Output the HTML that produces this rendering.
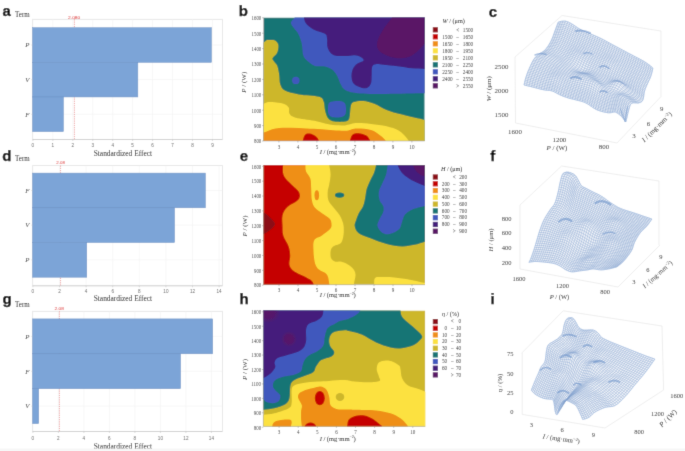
<!DOCTYPE html>
<html><head><meta charset="utf-8"><title>Figure</title>
<style>html,body{margin:0;padding:0;background:#fff;}svg{display:block;}</style>
</head><body>
<svg width="685" height="451" viewBox="0 0 685 451">
<defs><filter id="sb" x="-20%" y="-50%" width="140%" height="200%"><feGaussianBlur stdDeviation="0.6"/></filter></defs>
<filter id="gb" x="0" y="0" width="685" height="451" filterUnits="userSpaceOnUse"><feConvolveMatrix order="3" kernelMatrix="0.0113 0.0838 0.0113 0.0838 0.6193 0.0838 0.0113 0.0838 0.0113" edgeMode="duplicate"/></filter>
<g filter="url(#gb)">
<rect width="685" height="451" fill="#fff"/>
<rect x="32.6" y="19.3" width="189.8" height="120.2" fill="#fff" stroke="#e2e2e2" stroke-width="0.8"/>
<line x1="32.9" y1="19.3" x2="32.9" y2="139.5" stroke="#f1f1f1" stroke-width="0.6"/>
<line x1="52.85" y1="19.3" x2="52.85" y2="139.5" stroke="#f1f1f1" stroke-width="0.6"/>
<line x1="72.8" y1="19.3" x2="72.8" y2="139.5" stroke="#f1f1f1" stroke-width="0.6"/>
<line x1="92.75" y1="19.3" x2="92.75" y2="139.5" stroke="#f1f1f1" stroke-width="0.6"/>
<line x1="112.7" y1="19.3" x2="112.7" y2="139.5" stroke="#f1f1f1" stroke-width="0.6"/>
<line x1="132.65" y1="19.3" x2="132.65" y2="139.5" stroke="#f1f1f1" stroke-width="0.6"/>
<line x1="152.6" y1="19.3" x2="152.6" y2="139.5" stroke="#f1f1f1" stroke-width="0.6"/>
<line x1="172.55" y1="19.3" x2="172.55" y2="139.5" stroke="#f1f1f1" stroke-width="0.6"/>
<line x1="192.5" y1="19.3" x2="192.5" y2="139.5" stroke="#f1f1f1" stroke-width="0.6"/>
<line x1="212.45" y1="19.3" x2="212.45" y2="139.5" stroke="#f1f1f1" stroke-width="0.6"/>
<line x1="32.6" y1="45.02" x2="222.4" y2="45.02" stroke="#f1f1f1" stroke-width="0.6"/>
<line x1="32.6" y1="79.64" x2="222.4" y2="79.64" stroke="#f1f1f1" stroke-width="0.6"/>
<line x1="32.6" y1="114.28" x2="222.4" y2="114.28" stroke="#f1f1f1" stroke-width="0.6"/>
<line x1="74.4" y1="19.3" x2="74.4" y2="139.5" stroke="#e06060" stroke-width="0.6" stroke-dasharray="1.2,1"/>
<rect x="32.6" y="27.7" width="178.85" height="34.63" fill="#7ba4d7" stroke="#6a90c4" stroke-width="0.5"/>
<text x="29.4" y="47.31" font-size="6.8" font-family="'Liberation Serif','Times New Roman',serif" fill="#333" text-anchor="end" font-style="italic">P</text>
<line x1="31.4" y1="45.02" x2="32.6" y2="45.02" stroke="#bbb" stroke-width="0.5"/>
<rect x="32.6" y="62.33" width="105.24" height="34.63" fill="#7ba4d7" stroke="#6a90c4" stroke-width="0.5"/>
<text x="29.4" y="81.94" font-size="6.8" font-family="'Liberation Serif','Times New Roman',serif" fill="#333" text-anchor="end" font-style="italic">V</text>
<line x1="31.4" y1="79.64" x2="32.6" y2="79.64" stroke="#bbb" stroke-width="0.5"/>
<rect x="32.6" y="96.96" width="30.82" height="34.63" fill="#7ba4d7" stroke="#6a90c4" stroke-width="0.5"/>
<text x="29.4" y="116.58" font-size="6.8" font-family="'Liberation Serif','Times New Roman',serif" fill="#333" text-anchor="end" font-style="italic">F</text>
<line x1="31.4" y1="114.28" x2="32.6" y2="114.28" stroke="#bbb" stroke-width="0.5"/>
<text x="74.2" y="18.8" font-size="4.3" font-family="'Liberation Sans',Arial,sans-serif" fill="#d33" text-anchor="middle" textLength="12.2" lengthAdjust="spacingAndGlyphs">2.080</text>
<line x1="32.6" y1="139.5" x2="222.4" y2="139.5" stroke="#c8c8c8" stroke-width="0.7"/>
<line x1="32.9" y1="139.5" x2="32.9" y2="141" stroke="#bbb" stroke-width="0.5"/>
<text x="32.9" y="147.4" font-size="4.6" font-family="'Liberation Sans',Arial,sans-serif" fill="#666" text-anchor="middle">0</text>
<line x1="52.85" y1="139.5" x2="52.85" y2="141" stroke="#bbb" stroke-width="0.5"/>
<text x="52.85" y="147.4" font-size="4.6" font-family="'Liberation Sans',Arial,sans-serif" fill="#666" text-anchor="middle">1</text>
<line x1="72.8" y1="139.5" x2="72.8" y2="141" stroke="#bbb" stroke-width="0.5"/>
<text x="72.8" y="147.4" font-size="4.6" font-family="'Liberation Sans',Arial,sans-serif" fill="#666" text-anchor="middle">2</text>
<line x1="92.75" y1="139.5" x2="92.75" y2="141" stroke="#bbb" stroke-width="0.5"/>
<text x="92.75" y="147.4" font-size="4.6" font-family="'Liberation Sans',Arial,sans-serif" fill="#666" text-anchor="middle">3</text>
<line x1="112.7" y1="139.5" x2="112.7" y2="141" stroke="#bbb" stroke-width="0.5"/>
<text x="112.7" y="147.4" font-size="4.6" font-family="'Liberation Sans',Arial,sans-serif" fill="#666" text-anchor="middle">4</text>
<line x1="132.65" y1="139.5" x2="132.65" y2="141" stroke="#bbb" stroke-width="0.5"/>
<text x="132.65" y="147.4" font-size="4.6" font-family="'Liberation Sans',Arial,sans-serif" fill="#666" text-anchor="middle">5</text>
<line x1="152.6" y1="139.5" x2="152.6" y2="141" stroke="#bbb" stroke-width="0.5"/>
<text x="152.6" y="147.4" font-size="4.6" font-family="'Liberation Sans',Arial,sans-serif" fill="#666" text-anchor="middle">6</text>
<line x1="172.55" y1="139.5" x2="172.55" y2="141" stroke="#bbb" stroke-width="0.5"/>
<text x="172.55" y="147.4" font-size="4.6" font-family="'Liberation Sans',Arial,sans-serif" fill="#666" text-anchor="middle">7</text>
<line x1="192.5" y1="139.5" x2="192.5" y2="141" stroke="#bbb" stroke-width="0.5"/>
<text x="192.5" y="147.4" font-size="4.6" font-family="'Liberation Sans',Arial,sans-serif" fill="#666" text-anchor="middle">8</text>
<line x1="212.45" y1="139.5" x2="212.45" y2="141" stroke="#bbb" stroke-width="0.5"/>
<text x="212.45" y="147.4" font-size="4.6" font-family="'Liberation Sans',Arial,sans-serif" fill="#666" text-anchor="middle">9</text>
<text x="122.9" y="155.5" font-size="8.2" font-family="'Liberation Serif','Times New Roman',serif" fill="#222" text-anchor="middle" textLength="58.4" lengthAdjust="spacingAndGlyphs">Standardized Effect</text>
<text x="15.1" y="16.8" font-size="8" font-family="'Liberation Serif','Times New Roman',serif" fill="#222" textLength="14.6" lengthAdjust="spacingAndGlyphs">Term</text>
<rect x="32.6" y="165.6" width="189.8" height="120.2" fill="#fff" stroke="#e2e2e2" stroke-width="0.8"/>
<line x1="32.9" y1="165.6" x2="32.9" y2="285.8" stroke="#f1f1f1" stroke-width="0.6"/>
<line x1="59.5" y1="165.6" x2="59.5" y2="285.8" stroke="#f1f1f1" stroke-width="0.6"/>
<line x1="86.1" y1="165.6" x2="86.1" y2="285.8" stroke="#f1f1f1" stroke-width="0.6"/>
<line x1="112.7" y1="165.6" x2="112.7" y2="285.8" stroke="#f1f1f1" stroke-width="0.6"/>
<line x1="139.3" y1="165.6" x2="139.3" y2="285.8" stroke="#f1f1f1" stroke-width="0.6"/>
<line x1="165.9" y1="165.6" x2="165.9" y2="285.8" stroke="#f1f1f1" stroke-width="0.6"/>
<line x1="192.5" y1="165.6" x2="192.5" y2="285.8" stroke="#f1f1f1" stroke-width="0.6"/>
<line x1="219.1" y1="165.6" x2="219.1" y2="285.8" stroke="#f1f1f1" stroke-width="0.6"/>
<line x1="32.6" y1="190.45" x2="222.4" y2="190.45" stroke="#f1f1f1" stroke-width="0.6"/>
<line x1="32.6" y1="225.15" x2="222.4" y2="225.15" stroke="#f1f1f1" stroke-width="0.6"/>
<line x1="32.6" y1="259.85" x2="222.4" y2="259.85" stroke="#f1f1f1" stroke-width="0.6"/>
<line x1="60.56" y1="165.6" x2="60.56" y2="285.8" stroke="#e06060" stroke-width="0.6" stroke-dasharray="1.2,1"/>
<rect x="32.6" y="173.1" width="172.8" height="34.7" fill="#7ba4d7" stroke="#6a90c4" stroke-width="0.5"/>
<text x="29.4" y="192.75" font-size="6.8" font-family="'Liberation Serif','Times New Roman',serif" fill="#333" text-anchor="end" font-style="italic">F</text>
<line x1="31.4" y1="190.45" x2="32.6" y2="190.45" stroke="#bbb" stroke-width="0.5"/>
<rect x="32.6" y="207.8" width="141.95" height="34.7" fill="#7ba4d7" stroke="#6a90c4" stroke-width="0.5"/>
<text x="29.4" y="227.45" font-size="6.8" font-family="'Liberation Serif','Times New Roman',serif" fill="#333" text-anchor="end" font-style="italic">V</text>
<line x1="31.4" y1="225.15" x2="32.6" y2="225.15" stroke="#bbb" stroke-width="0.5"/>
<rect x="32.6" y="242.5" width="54.16" height="34.7" fill="#7ba4d7" stroke="#6a90c4" stroke-width="0.5"/>
<text x="29.4" y="262.15" font-size="6.8" font-family="'Liberation Serif','Times New Roman',serif" fill="#333" text-anchor="end" font-style="italic">P</text>
<line x1="31.4" y1="259.85" x2="32.6" y2="259.85" stroke="#bbb" stroke-width="0.5"/>
<text x="60.6" y="164" font-size="4.3" font-family="'Liberation Sans',Arial,sans-serif" fill="#d33" text-anchor="middle" textLength="8.6" lengthAdjust="spacingAndGlyphs">2.08</text>
<line x1="32.6" y1="285.8" x2="222.4" y2="285.8" stroke="#c8c8c8" stroke-width="0.7"/>
<line x1="32.9" y1="285.8" x2="32.9" y2="287.3" stroke="#bbb" stroke-width="0.5"/>
<text x="32.9" y="293" font-size="4.6" font-family="'Liberation Sans',Arial,sans-serif" fill="#666" text-anchor="middle">0</text>
<line x1="59.5" y1="285.8" x2="59.5" y2="287.3" stroke="#bbb" stroke-width="0.5"/>
<text x="59.5" y="293" font-size="4.6" font-family="'Liberation Sans',Arial,sans-serif" fill="#666" text-anchor="middle">2</text>
<line x1="86.1" y1="285.8" x2="86.1" y2="287.3" stroke="#bbb" stroke-width="0.5"/>
<text x="86.1" y="293" font-size="4.6" font-family="'Liberation Sans',Arial,sans-serif" fill="#666" text-anchor="middle">4</text>
<line x1="112.7" y1="285.8" x2="112.7" y2="287.3" stroke="#bbb" stroke-width="0.5"/>
<text x="112.7" y="293" font-size="4.6" font-family="'Liberation Sans',Arial,sans-serif" fill="#666" text-anchor="middle">6</text>
<line x1="139.3" y1="285.8" x2="139.3" y2="287.3" stroke="#bbb" stroke-width="0.5"/>
<text x="139.3" y="293" font-size="4.6" font-family="'Liberation Sans',Arial,sans-serif" fill="#666" text-anchor="middle">8</text>
<line x1="165.9" y1="285.8" x2="165.9" y2="287.3" stroke="#bbb" stroke-width="0.5"/>
<text x="165.9" y="293" font-size="4.6" font-family="'Liberation Sans',Arial,sans-serif" fill="#666" text-anchor="middle">10</text>
<line x1="192.5" y1="285.8" x2="192.5" y2="287.3" stroke="#bbb" stroke-width="0.5"/>
<text x="192.5" y="293" font-size="4.6" font-family="'Liberation Sans',Arial,sans-serif" fill="#666" text-anchor="middle">12</text>
<line x1="219.1" y1="285.8" x2="219.1" y2="287.3" stroke="#bbb" stroke-width="0.5"/>
<text x="219.1" y="293" font-size="4.6" font-family="'Liberation Sans',Arial,sans-serif" fill="#666" text-anchor="middle">14</text>
<text x="122.9" y="301.3" font-size="8.2" font-family="'Liberation Serif','Times New Roman',serif" fill="#222" text-anchor="middle" textLength="58.4" lengthAdjust="spacingAndGlyphs">Standardized Effect</text>
<text x="15.1" y="161" font-size="8" font-family="'Liberation Serif','Times New Roman',serif" fill="#222" textLength="14.6" lengthAdjust="spacingAndGlyphs">Term</text>
<rect x="32.6" y="311.3" width="189.8" height="120.2" fill="#fff" stroke="#e2e2e2" stroke-width="0.8"/>
<line x1="32.9" y1="311.3" x2="32.9" y2="431.5" stroke="#f1f1f1" stroke-width="0.6"/>
<line x1="58.4" y1="311.3" x2="58.4" y2="431.5" stroke="#f1f1f1" stroke-width="0.6"/>
<line x1="83.9" y1="311.3" x2="83.9" y2="431.5" stroke="#f1f1f1" stroke-width="0.6"/>
<line x1="109.4" y1="311.3" x2="109.4" y2="431.5" stroke="#f1f1f1" stroke-width="0.6"/>
<line x1="134.9" y1="311.3" x2="134.9" y2="431.5" stroke="#f1f1f1" stroke-width="0.6"/>
<line x1="160.4" y1="311.3" x2="160.4" y2="431.5" stroke="#f1f1f1" stroke-width="0.6"/>
<line x1="185.9" y1="311.3" x2="185.9" y2="431.5" stroke="#f1f1f1" stroke-width="0.6"/>
<line x1="211.4" y1="311.3" x2="211.4" y2="431.5" stroke="#f1f1f1" stroke-width="0.6"/>
<line x1="32.6" y1="336.35" x2="222.4" y2="336.35" stroke="#f1f1f1" stroke-width="0.6"/>
<line x1="32.6" y1="371.25" x2="222.4" y2="371.25" stroke="#f1f1f1" stroke-width="0.6"/>
<line x1="32.6" y1="406.15" x2="222.4" y2="406.15" stroke="#f1f1f1" stroke-width="0.6"/>
<line x1="59.42" y1="311.3" x2="59.42" y2="431.5" stroke="#e06060" stroke-width="0.6" stroke-dasharray="1.2,1"/>
<rect x="32.6" y="318.9" width="180.08" height="34.9" fill="#7ba4d7" stroke="#6a90c4" stroke-width="0.5"/>
<text x="29.4" y="338.65" font-size="6.8" font-family="'Liberation Serif','Times New Roman',serif" fill="#333" text-anchor="end" font-style="italic">P</text>
<line x1="31.4" y1="336.35" x2="32.6" y2="336.35" stroke="#bbb" stroke-width="0.5"/>
<rect x="32.6" y="353.8" width="147.95" height="34.9" fill="#7ba4d7" stroke="#6a90c4" stroke-width="0.5"/>
<text x="29.4" y="373.55" font-size="6.8" font-family="'Liberation Serif','Times New Roman',serif" fill="#333" text-anchor="end" font-style="italic">F</text>
<line x1="31.4" y1="371.25" x2="32.6" y2="371.25" stroke="#bbb" stroke-width="0.5"/>
<rect x="32.6" y="388.7" width="6.1" height="34.9" fill="#7ba4d7" stroke="#6a90c4" stroke-width="0.5"/>
<text x="29.4" y="408.45" font-size="6.8" font-family="'Liberation Serif','Times New Roman',serif" fill="#333" text-anchor="end" font-style="italic">V</text>
<line x1="31.4" y1="406.15" x2="32.6" y2="406.15" stroke="#bbb" stroke-width="0.5"/>
<text x="59.3" y="310.3" font-size="4.3" font-family="'Liberation Sans',Arial,sans-serif" fill="#d33" text-anchor="middle" textLength="9.4" lengthAdjust="spacingAndGlyphs">2.08</text>
<line x1="32.6" y1="431.5" x2="222.4" y2="431.5" stroke="#c8c8c8" stroke-width="0.7"/>
<line x1="32.9" y1="431.5" x2="32.9" y2="433" stroke="#bbb" stroke-width="0.5"/>
<text x="32.9" y="439.5" font-size="4.6" font-family="'Liberation Sans',Arial,sans-serif" fill="#666" text-anchor="middle">0</text>
<line x1="58.4" y1="431.5" x2="58.4" y2="433" stroke="#bbb" stroke-width="0.5"/>
<text x="58.4" y="439.5" font-size="4.6" font-family="'Liberation Sans',Arial,sans-serif" fill="#666" text-anchor="middle">2</text>
<line x1="83.9" y1="431.5" x2="83.9" y2="433" stroke="#bbb" stroke-width="0.5"/>
<text x="83.9" y="439.5" font-size="4.6" font-family="'Liberation Sans',Arial,sans-serif" fill="#666" text-anchor="middle">4</text>
<line x1="109.4" y1="431.5" x2="109.4" y2="433" stroke="#bbb" stroke-width="0.5"/>
<text x="109.4" y="439.5" font-size="4.6" font-family="'Liberation Sans',Arial,sans-serif" fill="#666" text-anchor="middle">6</text>
<line x1="134.9" y1="431.5" x2="134.9" y2="433" stroke="#bbb" stroke-width="0.5"/>
<text x="134.9" y="439.5" font-size="4.6" font-family="'Liberation Sans',Arial,sans-serif" fill="#666" text-anchor="middle">8</text>
<line x1="160.4" y1="431.5" x2="160.4" y2="433" stroke="#bbb" stroke-width="0.5"/>
<text x="160.4" y="439.5" font-size="4.6" font-family="'Liberation Sans',Arial,sans-serif" fill="#666" text-anchor="middle">10</text>
<line x1="185.9" y1="431.5" x2="185.9" y2="433" stroke="#bbb" stroke-width="0.5"/>
<text x="185.9" y="439.5" font-size="4.6" font-family="'Liberation Sans',Arial,sans-serif" fill="#666" text-anchor="middle">12</text>
<line x1="211.4" y1="431.5" x2="211.4" y2="433" stroke="#bbb" stroke-width="0.5"/>
<text x="211.4" y="439.5" font-size="4.6" font-family="'Liberation Sans',Arial,sans-serif" fill="#666" text-anchor="middle">14</text>
<text x="122.9" y="449" font-size="8.2" font-family="'Liberation Serif','Times New Roman',serif" fill="#222" text-anchor="middle" textLength="58.4" lengthAdjust="spacingAndGlyphs">Standardized Effect</text>
<text x="15.1" y="306.8" font-size="8" font-family="'Liberation Serif','Times New Roman',serif" fill="#222" textLength="14.6" lengthAdjust="spacingAndGlyphs">Term</text>
<clipPath id="cb"><rect x="263.5" y="17.5" width="161.2" height="123.5"/></clipPath>
<g clip-path="url(#cb)">
<rect x="263.5" y="17.5" width="161.2" height="123.5" fill="#187575"/>
<path d="M295,12C294.93,12.92 295.27,15.57 294.6,17.5C293.93,19.43 290.4,20.9 291,23.6C291.6,26.3 296.4,30.33 298.2,33.7C300,37.07 300.97,40.2 301.8,43.8C302.63,47.4 302.25,52.42 303.2,55.3C304.15,58.18 305.53,59.33 307.5,61.1C309.47,62.87 312.12,65 315,65.9C317.88,66.8 321.95,65.9 324.8,66.5C327.65,67.1 330.07,67.98 332.1,69.5C334.13,71.02 335.58,73.17 337,75.6C338.42,78.03 339.18,81.67 340.6,84.1C342.02,86.53 342.65,88.67 345.5,90.2C348.35,91.73 353.63,92.68 357.7,93.3C361.77,93.92 365.1,93.8 369.9,93.9C374.7,94 377.32,94 386.5,93.9C395.68,93.8 417.42,93.4 425,93.3C432.58,93.2 430.83,93.3 432,93.3L432,12Z" fill="#4158bd"/>
<path d="M304,12C304,12.92 303.67,15.57 304,17.5C304.33,19.43 304.45,21.62 306,23.6C307.55,25.58 310.17,27.72 313.3,29.4C316.43,31.08 322.52,32.27 324.8,33.7C327.08,35.13 326.52,35.62 327,38C327.48,40.38 326.65,45.18 327.7,48C328.75,50.82 330.33,53.55 333.3,54.9C336.27,56.25 341.98,56.03 345.5,56.1C349.02,56.17 351.95,55.18 354.4,55.3C356.85,55.42 358.68,55.95 360.2,56.8C361.72,57.65 364.2,59.13 363.5,60.4C362.8,61.67 357.88,62.68 356,64.4C354.12,66.12 352.93,68.43 352.2,70.7C351.47,72.97 351.3,75.77 351.6,78C351.9,80.23 352.38,82.47 354,84.1C355.62,85.73 359.07,87.18 361.3,87.8C363.53,88.42 365.77,88.62 367.4,87.8C369.03,86.98 370.38,85.13 371.1,82.9C371.82,80.67 371.5,77.13 371.7,74.4C371.9,71.67 371.58,68.2 372.3,66.5C373.02,64.8 374.18,64.5 376,64.2C377.82,63.9 379.6,64.37 383.2,64.7C386.8,65.03 392.8,65.6 397.6,66.2C402.4,66.8 407.43,67.83 412,68.3C416.57,68.77 421.67,68.88 425,69C428.33,69.12 430.83,69 432,69L432,12Z" fill="#441c7c"/>
<path d="M392,12C391.98,12.92 393.37,14.6 391.9,17.5C390.43,20.4 385.6,25.48 383.2,29.4C380.8,33.32 378.33,37.63 377.5,41C376.67,44.37 376.77,47.22 378.2,49.6C379.63,51.98 382.87,53.87 386.1,55.3C389.33,56.73 393.75,57.95 397.6,58.2C401.45,58.45 405.83,58 409.2,56.8C412.57,55.6 415.17,53.17 417.8,51C420.43,48.83 422.63,45.47 425,43.8C427.37,42.13 430.83,41.47 432,41L432,12Z" fill="#5a1866"/>
<ellipse cx="295.8" cy="80.4" rx="3.7" ry="3.7" fill="#4158bd"/>
<path d="M329,103C330,101.87 332,101.5 334,101.2C336,100.9 339.17,100.82 341,101.2C342.83,101.58 344.17,102.2 345,103.5C345.83,104.8 346,107.08 346,109C346,110.92 346,113.63 345,115C344,116.37 342.17,116.87 340,117.2C337.83,117.53 333.92,117.53 332,117C330.08,116.47 329.17,115.5 328.5,114C327.83,112.5 327.92,109.83 328,108C328.08,106.17 328,104.13 329,103Z" fill="#4158bd"/>
<path d="M256,42.4C257.25,42.4 261.83,42.72 263.5,42.4C265.17,42.08 265.15,40.9 266,40.5C266.85,40.1 267.2,40.05 268.6,40C270,39.95 272.92,39.7 274.4,40.2C275.88,40.7 276.83,41.92 277.5,43C278.17,44.08 278.48,45.03 278.4,46.7C278.32,48.37 277.98,51.08 277,53C276.02,54.92 273,56.78 272.5,58.2C272,59.62 273.2,60.2 274,61.5C274.8,62.8 276.43,63.75 277.3,66C278.17,68.25 278.72,71.95 279.2,75C279.68,78.05 279.27,81.72 280.2,84.3C281.13,86.88 281.7,88.82 284.8,90.5C287.9,92.18 293.12,93.37 298.8,94.4C304.48,95.43 314.77,95.53 318.9,96.7C323.03,97.87 322.57,99.07 323.6,101.4C324.63,103.73 324.33,107.87 325.1,110.7C325.87,113.53 326.63,116.6 328.2,118.4C329.77,120.2 331.7,120.98 334.5,121.5C337.3,122.02 342.53,122.02 345,121.5C347.47,120.98 348.32,120.98 349.3,118.4C350.28,115.82 350.12,108.72 350.9,106C351.68,103.28 351.93,102.93 354,102.1C356.07,101.27 359.95,100.73 363.3,101C366.65,101.27 370.23,102.22 374.1,103.7C377.97,105.18 381.85,108.08 386.5,109.9C391.15,111.72 395.58,112.92 402,114.6C408.42,116.28 420,118.85 425,120C430,121.15 430.83,121.25 432,121.5L432,148L256,148Z" fill="#cdb72c"/>
<path d="M256,103.7C257.25,103.7 261.28,103.97 263.5,103.7C265.72,103.43 266,102.1 269.3,102.1C272.6,102.1 280.07,102.78 283.3,103.7C286.53,104.62 287.67,105.92 288.7,107.6C289.73,109.28 288.33,112.12 289.5,113.8C290.67,115.48 291.57,116.53 295.7,117.7C299.83,118.87 308.62,119.65 314.3,120.8C319.98,121.95 324.68,123.83 329.8,124.6C334.92,125.37 340.72,125.65 345,125.4C349.28,125.15 351.17,123.35 355.5,123.1C359.83,122.85 365.83,123.38 371,123.9C376.17,124.42 381.83,125.05 386.5,126.2C391.17,127.35 395.38,128.48 399,130.8C402.62,133.12 406.37,137.23 408.2,140.1C410.03,142.97 409.7,146.68 410,148L256,148Z" fill="#fce140"/>
<path d="M256,132.4C257.25,132.4 260.25,133.05 263.5,132.4C266.75,131.75 270.92,129.28 275.5,128.5C280.08,127.72 285.83,127.7 291,127.7C296.17,127.7 301.33,128.23 306.5,128.5C311.67,128.77 315.58,128.92 322,129.3C328.42,129.68 339.42,130.93 345,130.8C350.58,130.67 351.17,128.63 355.5,128.5C359.83,128.37 366.87,128.83 371,130C375.13,131.17 377.83,133.67 380.3,135.5C382.77,137.33 384.68,138.92 385.8,141C386.92,143.08 386.8,146.83 387,148L256,148Z" fill="#ef8f12"/>
<path d="M302,148C302.12,146.83 302.2,143.22 302.7,141C303.2,138.78 303.85,135.93 305,134.7C306.15,133.47 307.8,133.33 309.6,133.6C311.4,133.87 314.25,135.07 315.8,136.3C317.35,137.53 318.28,139.05 318.9,141C319.52,142.95 319.4,146.83 319.5,148L302,148Z" fill="#c50303"/>
<path d="M349.5,148C349.58,146.83 349.52,143.22 350,141C350.48,138.78 350.97,136 352.4,134.7C353.83,133.4 356.27,133.07 358.6,133.2C360.93,133.33 364.47,134.2 366.4,135.5C368.33,136.8 369.43,138.92 370.2,141C370.97,143.08 370.87,146.83 371,148L349.5,148Z" fill="#c50303"/>
</g>
<line x1="263.5" y1="17.5" x2="263.5" y2="141" stroke="#999" stroke-width="0.5"/>
<line x1="263.5" y1="141" x2="424.7" y2="141" stroke="#999" stroke-width="0.5"/>
<line x1="262" y1="17.8" x2="263.5" y2="17.8" stroke="#888" stroke-width="0.5"/>
<text x="261.3" y="20.1" font-size="5.2" font-family="'Liberation Serif','Times New Roman',serif" fill="#444" text-anchor="end" textLength="9.8" lengthAdjust="spacingAndGlyphs">1600</text>
<line x1="262" y1="33.2" x2="263.5" y2="33.2" stroke="#888" stroke-width="0.5"/>
<text x="261.3" y="35.5" font-size="5.2" font-family="'Liberation Serif','Times New Roman',serif" fill="#444" text-anchor="end" textLength="9.8" lengthAdjust="spacingAndGlyphs">1500</text>
<line x1="262" y1="48.6" x2="263.5" y2="48.6" stroke="#888" stroke-width="0.5"/>
<text x="261.3" y="50.9" font-size="5.2" font-family="'Liberation Serif','Times New Roman',serif" fill="#444" text-anchor="end" textLength="9.8" lengthAdjust="spacingAndGlyphs">1400</text>
<line x1="262" y1="64" x2="263.5" y2="64" stroke="#888" stroke-width="0.5"/>
<text x="261.3" y="66.3" font-size="5.2" font-family="'Liberation Serif','Times New Roman',serif" fill="#444" text-anchor="end" textLength="9.8" lengthAdjust="spacingAndGlyphs">1300</text>
<line x1="262" y1="79.4" x2="263.5" y2="79.4" stroke="#888" stroke-width="0.5"/>
<text x="261.3" y="81.7" font-size="5.2" font-family="'Liberation Serif','Times New Roman',serif" fill="#444" text-anchor="end" textLength="9.8" lengthAdjust="spacingAndGlyphs">1200</text>
<line x1="262" y1="94.8" x2="263.5" y2="94.8" stroke="#888" stroke-width="0.5"/>
<text x="261.3" y="97.1" font-size="5.2" font-family="'Liberation Serif','Times New Roman',serif" fill="#444" text-anchor="end" textLength="9.8" lengthAdjust="spacingAndGlyphs">1100</text>
<line x1="262" y1="110.2" x2="263.5" y2="110.2" stroke="#888" stroke-width="0.5"/>
<text x="261.3" y="112.5" font-size="5.2" font-family="'Liberation Serif','Times New Roman',serif" fill="#444" text-anchor="end" textLength="9.8" lengthAdjust="spacingAndGlyphs">1000</text>
<line x1="262" y1="125.6" x2="263.5" y2="125.6" stroke="#888" stroke-width="0.5"/>
<text x="261.3" y="127.9" font-size="5.2" font-family="'Liberation Serif','Times New Roman',serif" fill="#444" text-anchor="end" textLength="7.35" lengthAdjust="spacingAndGlyphs">900</text>
<line x1="262" y1="141" x2="263.5" y2="141" stroke="#888" stroke-width="0.5"/>
<text x="261.3" y="143.3" font-size="5.2" font-family="'Liberation Serif','Times New Roman',serif" fill="#444" text-anchor="end" textLength="7.35" lengthAdjust="spacingAndGlyphs">800</text>
<line x1="278.9" y1="141" x2="278.9" y2="142.5" stroke="#888" stroke-width="0.5"/>
<text x="278.9" y="148.9" font-size="5.1" font-family="'Liberation Serif','Times New Roman',serif" fill="#444" text-anchor="middle">3</text>
<line x1="297.9" y1="141" x2="297.9" y2="142.5" stroke="#888" stroke-width="0.5"/>
<text x="297.9" y="148.9" font-size="5.1" font-family="'Liberation Serif','Times New Roman',serif" fill="#444" text-anchor="middle">4</text>
<line x1="316.9" y1="141" x2="316.9" y2="142.5" stroke="#888" stroke-width="0.5"/>
<text x="316.9" y="148.9" font-size="5.1" font-family="'Liberation Serif','Times New Roman',serif" fill="#444" text-anchor="middle">5</text>
<line x1="335.9" y1="141" x2="335.9" y2="142.5" stroke="#888" stroke-width="0.5"/>
<text x="335.9" y="148.9" font-size="5.1" font-family="'Liberation Serif','Times New Roman',serif" fill="#444" text-anchor="middle">6</text>
<line x1="354.9" y1="141" x2="354.9" y2="142.5" stroke="#888" stroke-width="0.5"/>
<text x="354.9" y="148.9" font-size="5.1" font-family="'Liberation Serif','Times New Roman',serif" fill="#444" text-anchor="middle">7</text>
<line x1="373.9" y1="141" x2="373.9" y2="142.5" stroke="#888" stroke-width="0.5"/>
<text x="373.9" y="148.9" font-size="5.1" font-family="'Liberation Serif','Times New Roman',serif" fill="#444" text-anchor="middle">8</text>
<line x1="392.9" y1="141" x2="392.9" y2="142.5" stroke="#888" stroke-width="0.5"/>
<text x="392.9" y="148.9" font-size="5.1" font-family="'Liberation Serif','Times New Roman',serif" fill="#444" text-anchor="middle">9</text>
<line x1="411.9" y1="141" x2="411.9" y2="142.5" stroke="#888" stroke-width="0.5"/>
<text x="411.9" y="148.9" font-size="5.1" font-family="'Liberation Serif','Times New Roman',serif" fill="#444" text-anchor="middle">10</text>
<text x="319.7" y="153.9" font-size="6.7" font-family="'Liberation Serif','Times New Roman',serif" fill="#222" letter-spacing="-0.1"><tspan font-style="italic">I</tspan> / (mg·mm<tspan font-size="4" dy="-2.4">−2</tspan><tspan dy="2.4">)</tspan></text>
<text transform="translate(245.8,82.2) rotate(-90)" font-size="7" font-family="'Liberation Serif','Times New Roman',serif" fill="#222" text-anchor="middle"><tspan font-style="italic">P</tspan> / (W)</text>
<text x="442.6" y="23.2" font-size="6.2" font-family="'Liberation Serif','Times New Roman',serif" fill="#111"><tspan font-style="italic">W</tspan> / (μm)</text>
<rect x="432.8" y="27.2" width="5.1" height="5.2" fill="#8c1018"/>
<text x="457.6" y="31.6" font-size="5.2" font-family="'Liberation Serif','Times New Roman',serif" fill="#333" text-anchor="middle">&lt;</text>
<text x="473.2" y="31.6" font-size="5.2" font-family="'Liberation Serif','Times New Roman',serif" fill="#333" text-anchor="end">1500</text>
<rect x="432.8" y="34.2" width="5.1" height="5.2" fill="#c50303"/>
<text x="452.6" y="38.6" font-size="5.2" font-family="'Liberation Serif','Times New Roman',serif" fill="#333" text-anchor="end">1500</text>
<text x="457.6" y="38.6" font-size="5.2" font-family="'Liberation Serif','Times New Roman',serif" fill="#333" text-anchor="middle">–</text>
<text x="473.2" y="38.6" font-size="5.2" font-family="'Liberation Serif','Times New Roman',serif" fill="#333" text-anchor="end">1650</text>
<rect x="432.8" y="41.2" width="5.1" height="5.2" fill="#ef8f12"/>
<text x="452.6" y="45.6" font-size="5.2" font-family="'Liberation Serif','Times New Roman',serif" fill="#333" text-anchor="end">1650</text>
<text x="457.6" y="45.6" font-size="5.2" font-family="'Liberation Serif','Times New Roman',serif" fill="#333" text-anchor="middle">–</text>
<text x="473.2" y="45.6" font-size="5.2" font-family="'Liberation Serif','Times New Roman',serif" fill="#333" text-anchor="end">1800</text>
<rect x="432.8" y="48.2" width="5.1" height="5.2" fill="#fce140"/>
<text x="452.6" y="52.6" font-size="5.2" font-family="'Liberation Serif','Times New Roman',serif" fill="#333" text-anchor="end">1800</text>
<text x="457.6" y="52.6" font-size="5.2" font-family="'Liberation Serif','Times New Roman',serif" fill="#333" text-anchor="middle">–</text>
<text x="473.2" y="52.6" font-size="5.2" font-family="'Liberation Serif','Times New Roman',serif" fill="#333" text-anchor="end">1950</text>
<rect x="432.8" y="55.2" width="5.1" height="5.2" fill="#cdb72c"/>
<text x="452.6" y="59.6" font-size="5.2" font-family="'Liberation Serif','Times New Roman',serif" fill="#333" text-anchor="end">1950</text>
<text x="457.6" y="59.6" font-size="5.2" font-family="'Liberation Serif','Times New Roman',serif" fill="#333" text-anchor="middle">–</text>
<text x="473.2" y="59.6" font-size="5.2" font-family="'Liberation Serif','Times New Roman',serif" fill="#333" text-anchor="end">2100</text>
<rect x="432.8" y="62.2" width="5.1" height="5.2" fill="#187575"/>
<text x="452.6" y="66.6" font-size="5.2" font-family="'Liberation Serif','Times New Roman',serif" fill="#333" text-anchor="end">2100</text>
<text x="457.6" y="66.6" font-size="5.2" font-family="'Liberation Serif','Times New Roman',serif" fill="#333" text-anchor="middle">–</text>
<text x="473.2" y="66.6" font-size="5.2" font-family="'Liberation Serif','Times New Roman',serif" fill="#333" text-anchor="end">2250</text>
<rect x="432.8" y="69.2" width="5.1" height="5.2" fill="#4158bd"/>
<text x="452.6" y="73.6" font-size="5.2" font-family="'Liberation Serif','Times New Roman',serif" fill="#333" text-anchor="end">2250</text>
<text x="457.6" y="73.6" font-size="5.2" font-family="'Liberation Serif','Times New Roman',serif" fill="#333" text-anchor="middle">–</text>
<text x="473.2" y="73.6" font-size="5.2" font-family="'Liberation Serif','Times New Roman',serif" fill="#333" text-anchor="end">2400</text>
<rect x="432.8" y="76.2" width="5.1" height="5.2" fill="#441c7c"/>
<text x="452.6" y="80.6" font-size="5.2" font-family="'Liberation Serif','Times New Roman',serif" fill="#333" text-anchor="end">2400</text>
<text x="457.6" y="80.6" font-size="5.2" font-family="'Liberation Serif','Times New Roman',serif" fill="#333" text-anchor="middle">–</text>
<text x="473.2" y="80.6" font-size="5.2" font-family="'Liberation Serif','Times New Roman',serif" fill="#333" text-anchor="end">2550</text>
<rect x="432.8" y="83.2" width="5.1" height="5.2" fill="#5a1866"/>
<text x="457.6" y="87.6" font-size="5.2" font-family="'Liberation Serif','Times New Roman',serif" fill="#333" text-anchor="middle">&gt;</text>
<text x="473.2" y="87.6" font-size="5.2" font-family="'Liberation Serif','Times New Roman',serif" fill="#333" text-anchor="end">2550</text>
<clipPath id="ce"><rect x="263.5" y="165.1" width="161.5" height="119.6"/></clipPath>
<g clip-path="url(#ce)">
<rect x="263.5" y="165.1" width="161.5" height="119.6" fill="#cdb72c"/>
<path d="M376,160C376,160.85 376.35,162.93 376,165.1C375.65,167.27 374.85,170.48 373.9,173C372.95,175.52 371.5,177.57 370.3,180.2C369.1,182.83 367.55,185.92 366.7,188.8C365.85,191.68 365.8,194.62 365.2,197.5C364.6,200.38 364.18,203.47 363.1,206.1C362.02,208.73 359.9,210.9 358.7,213.3C357.5,215.7 356.57,218.35 355.9,220.5C355.23,222.65 354.25,224.08 354.7,226.2C355.15,228.32 355.88,231.13 358.6,233.2C361.32,235.27 366.35,236.8 371,238.6C375.65,240.4 381.33,242.7 386.5,244C391.67,245.3 397.33,246.27 402,246.4C406.67,246.53 410.67,245.58 414.5,244.8C418.33,244.02 422.25,242.5 425,241.7C427.75,240.9 430,240.28 431,240L431,160Z" fill="#187575"/>
<path d="M387.6,160C387.6,160.85 387.85,162.7 387.6,165.1C387.35,167.5 387.07,171.17 386.1,174.4C385.13,177.63 383,181.62 381.8,184.5C380.6,187.38 379.27,189.07 378.9,191.7C378.53,194.33 378.88,197.9 379.6,200.3C380.32,202.7 382.6,204.17 383.2,206.1C383.8,208.03 383.92,209.5 383.2,211.9C382.48,214.3 379.85,218.15 378.9,220.5C377.95,222.85 377,224.02 377.5,226C378,227.98 379.88,231.07 381.9,232.4C383.92,233.73 386.75,234.52 389.6,234C392.45,233.48 396.93,231.3 399,229.3C401.07,227.3 401,224.47 402,222C403,219.53 403.33,216.55 405,214.5C406.67,212.45 408.67,211.1 412,209.7C415.33,208.3 421.83,206.8 425,206.1C428.17,205.4 430,205.6 431,205.5L431,160Z" fill="#4158bd"/>
<path d="M397.6,160C397.6,160.85 396.87,162.93 397.6,165.1C398.33,167.27 400.07,170.73 402,173C403.93,175.27 406.32,176.9 409.2,178.7C412.08,180.5 416.67,182.58 419.3,183.8C421.93,185.02 423.05,185.47 425,186C426.95,186.53 430,186.83 431,187L431,160Z" fill="#441c7c"/>
<path d="M412,160C412.17,160.85 412.33,163.27 413,165.1C413.67,166.93 414.67,169.35 416,171C417.33,172.65 419.5,174.17 421,175C422.5,175.83 423.33,175.83 425,176C426.67,176.17 430,176 431,176L431,160Z" fill="#5a1866"/>
<path d="M329.2,160C329.2,160.85 328.97,162.7 329.2,165.1C329.43,167.5 330.6,171.17 330.6,174.4C330.6,177.63 329.68,181.62 329.2,184.5C328.72,187.38 327.83,189.07 327.7,191.7C327.57,194.33 327.43,197.65 328.4,200.3C329.37,202.95 331.68,205.18 333.5,207.6C335.32,210.02 337.87,212.65 339.3,214.8C340.73,216.95 341.38,218.63 342.1,220.5C342.82,222.37 343.37,223.58 343.6,226C343.83,228.42 343.93,232.17 343.5,235C343.07,237.83 342.58,241.17 341,243C339.42,244.83 335.7,244.83 334,246C332.3,247.17 331.3,248 330.8,250C330.3,252 330.3,256.08 331,258C331.7,259.92 333.5,260.92 335,261.5C336.5,262.08 338.13,261.18 340,261.5C341.87,261.82 344.13,262.3 346.2,263.4C348.27,264.5 350.85,266.28 352.4,268.1C353.95,269.92 355.23,271.72 355.5,274.3C355.77,276.88 354.33,280.82 354,283.6C353.67,286.38 353.58,289.77 353.5,291L256,291L256,160Z" fill="#fce140"/>
<path d="M373.5,291C373.6,289.95 373.87,286.83 374.1,284.7C374.33,282.57 373.87,279.47 374.9,278.2C375.93,276.93 377.07,277.23 380.3,277.1C383.53,276.97 389.38,276.97 394.3,277.4C399.22,277.83 404.88,278.8 409.8,279.7C414.72,280.6 420.27,282.08 423.8,282.8C427.33,283.52 429.8,283.8 431,284L431,291Z" fill="#fce140"/>
<ellipse cx="339.6" cy="195.1" rx="4.7" ry="2.7" fill="#187575"/>
<path d="M305.4,160C305.4,160.85 305.28,163.18 305.4,165.1C305.52,167.02 305.27,169.23 306.1,171.5C306.93,173.77 309.55,175.82 310.4,178.7C311.25,181.58 310.95,185.2 311.2,188.8C311.45,192.4 311.3,197.17 311.9,200.3C312.5,203.43 313.12,205.43 314.8,207.6C316.48,209.77 319.55,211.48 322,213.3C324.45,215.12 327.93,216.88 329.5,218.5C331.07,220.12 331.23,221.33 331.4,223C331.57,224.67 332.07,226.42 330.5,228.5C328.93,230.58 324.7,233.55 322,235.5C319.3,237.45 315.72,237.62 314.3,240.2C312.88,242.78 313.37,247.13 313.5,251C313.63,254.87 314.18,260.3 315.1,263.4C316.02,266.5 317.07,267.78 319,269.6C320.93,271.42 325.03,272.23 326.7,274.3C328.37,276.37 328.48,279.22 329,282C329.52,284.78 329.67,289.5 329.8,291L256,291L256,160Z" fill="#ef8f12"/>
<ellipse cx="316.8" cy="195.3" rx="2.3" ry="5" fill="#ef8f12"/>
<path d="M283.1,160C283.1,160.85 283.1,162.93 283.1,165.1C283.1,167.27 282.63,170.73 283.1,173C283.57,175.27 284.23,176.55 285.9,178.7C287.57,180.85 290.93,183.73 293.1,185.9C295.27,188.07 297.82,189.77 298.9,191.7C299.98,193.63 300.08,195.82 299.6,197.5C299.12,199.18 297.8,200.37 296,201.8C294.2,203.23 290.83,204.42 288.8,206.1C286.77,207.78 284.88,209.98 283.8,211.9C282.72,213.82 282.52,215.42 282.3,217.6C282.08,219.78 282.33,222.02 282.5,225C282.67,227.98 282.27,231.93 283.3,235.5C284.33,239.07 287.55,243.03 288.7,246.4C289.85,249.77 290.07,252.6 290.2,255.7C290.33,258.8 288.85,262.42 289.5,265C290.15,267.58 291.27,269.13 294.1,271.2C296.93,273.27 303.4,275.6 306.5,277.4C309.6,279.2 311.4,279.73 312.7,282C314,284.27 314.03,289.5 314.3,291L256,291L256,160Z" fill="#c50303"/>
<path d="M256,212C257.25,212.08 261.5,211.92 263.5,212.5C265.5,213.08 266.5,214.25 268,215.5C269.5,216.75 271.33,218.58 272.5,220C273.67,221.42 275,222.67 275,224C275,225.33 273.67,226.75 272.5,228C271.33,229.25 269.5,230.5 268,231.5C266.5,232.5 265.5,233.58 263.5,234C261.5,234.42 257.25,234 256,234L256,212Z" fill="#8c1018"/>
</g>
<line x1="263.5" y1="165.1" x2="263.5" y2="284.7" stroke="#999" stroke-width="0.5"/>
<line x1="263.5" y1="284.7" x2="425" y2="284.7" stroke="#999" stroke-width="0.5"/>
<line x1="262" y1="166.3" x2="263.5" y2="166.3" stroke="#888" stroke-width="0.5"/>
<text x="261.3" y="168.6" font-size="5.2" font-family="'Liberation Serif','Times New Roman',serif" fill="#444" text-anchor="end" textLength="9.8" lengthAdjust="spacingAndGlyphs">1600</text>
<line x1="262" y1="181.16" x2="263.5" y2="181.16" stroke="#888" stroke-width="0.5"/>
<text x="261.3" y="183.46" font-size="5.2" font-family="'Liberation Serif','Times New Roman',serif" fill="#444" text-anchor="end" textLength="9.8" lengthAdjust="spacingAndGlyphs">1500</text>
<line x1="262" y1="196.02" x2="263.5" y2="196.02" stroke="#888" stroke-width="0.5"/>
<text x="261.3" y="198.32" font-size="5.2" font-family="'Liberation Serif','Times New Roman',serif" fill="#444" text-anchor="end" textLength="9.8" lengthAdjust="spacingAndGlyphs">1400</text>
<line x1="262" y1="210.88" x2="263.5" y2="210.88" stroke="#888" stroke-width="0.5"/>
<text x="261.3" y="213.18" font-size="5.2" font-family="'Liberation Serif','Times New Roman',serif" fill="#444" text-anchor="end" textLength="9.8" lengthAdjust="spacingAndGlyphs">1300</text>
<line x1="262" y1="225.74" x2="263.5" y2="225.74" stroke="#888" stroke-width="0.5"/>
<text x="261.3" y="228.04" font-size="5.2" font-family="'Liberation Serif','Times New Roman',serif" fill="#444" text-anchor="end" textLength="9.8" lengthAdjust="spacingAndGlyphs">1200</text>
<line x1="262" y1="240.6" x2="263.5" y2="240.6" stroke="#888" stroke-width="0.5"/>
<text x="261.3" y="242.9" font-size="5.2" font-family="'Liberation Serif','Times New Roman',serif" fill="#444" text-anchor="end" textLength="9.8" lengthAdjust="spacingAndGlyphs">1100</text>
<line x1="262" y1="255.46" x2="263.5" y2="255.46" stroke="#888" stroke-width="0.5"/>
<text x="261.3" y="257.76" font-size="5.2" font-family="'Liberation Serif','Times New Roman',serif" fill="#444" text-anchor="end" textLength="9.8" lengthAdjust="spacingAndGlyphs">1000</text>
<line x1="262" y1="270.32" x2="263.5" y2="270.32" stroke="#888" stroke-width="0.5"/>
<text x="261.3" y="272.62" font-size="5.2" font-family="'Liberation Serif','Times New Roman',serif" fill="#444" text-anchor="end" textLength="7.35" lengthAdjust="spacingAndGlyphs">900</text>
<line x1="262" y1="285.18" x2="263.5" y2="285.18" stroke="#888" stroke-width="0.5"/>
<text x="261.3" y="287.48" font-size="5.2" font-family="'Liberation Serif','Times New Roman',serif" fill="#444" text-anchor="end" textLength="7.35" lengthAdjust="spacingAndGlyphs">800</text>
<line x1="279" y1="284.7" x2="279" y2="286.2" stroke="#888" stroke-width="0.5"/>
<text x="279" y="292.1" font-size="5.1" font-family="'Liberation Serif','Times New Roman',serif" fill="#444" text-anchor="middle">3</text>
<line x1="298" y1="284.7" x2="298" y2="286.2" stroke="#888" stroke-width="0.5"/>
<text x="298" y="292.1" font-size="5.1" font-family="'Liberation Serif','Times New Roman',serif" fill="#444" text-anchor="middle">4</text>
<line x1="317" y1="284.7" x2="317" y2="286.2" stroke="#888" stroke-width="0.5"/>
<text x="317" y="292.1" font-size="5.1" font-family="'Liberation Serif','Times New Roman',serif" fill="#444" text-anchor="middle">5</text>
<line x1="336" y1="284.7" x2="336" y2="286.2" stroke="#888" stroke-width="0.5"/>
<text x="336" y="292.1" font-size="5.1" font-family="'Liberation Serif','Times New Roman',serif" fill="#444" text-anchor="middle">6</text>
<line x1="355" y1="284.7" x2="355" y2="286.2" stroke="#888" stroke-width="0.5"/>
<text x="355" y="292.1" font-size="5.1" font-family="'Liberation Serif','Times New Roman',serif" fill="#444" text-anchor="middle">7</text>
<line x1="374" y1="284.7" x2="374" y2="286.2" stroke="#888" stroke-width="0.5"/>
<text x="374" y="292.1" font-size="5.1" font-family="'Liberation Serif','Times New Roman',serif" fill="#444" text-anchor="middle">8</text>
<line x1="393" y1="284.7" x2="393" y2="286.2" stroke="#888" stroke-width="0.5"/>
<text x="393" y="292.1" font-size="5.1" font-family="'Liberation Serif','Times New Roman',serif" fill="#444" text-anchor="middle">9</text>
<line x1="412" y1="284.7" x2="412" y2="286.2" stroke="#888" stroke-width="0.5"/>
<text x="412" y="292.1" font-size="5.1" font-family="'Liberation Serif','Times New Roman',serif" fill="#444" text-anchor="middle">10</text>
<text x="319.7" y="297.3" font-size="6.7" font-family="'Liberation Serif','Times New Roman',serif" fill="#222" letter-spacing="-0.1"><tspan font-style="italic">I</tspan> / (mg·mm<tspan font-size="4" dy="-2.4">−2</tspan><tspan dy="2.4">)</tspan></text>
<text transform="translate(247,226) rotate(-90)" font-size="7" font-family="'Liberation Serif','Times New Roman',serif" fill="#222" text-anchor="middle"><tspan font-style="italic">P</tspan> / (W)</text>
<text x="440.9" y="171.3" font-size="6.2" font-family="'Liberation Serif','Times New Roman',serif" fill="#111"><tspan font-style="italic">H</tspan> / (μm)</text>
<rect x="432.8" y="174.4" width="5.1" height="5.2" fill="#8c1018"/>
<text x="454.2" y="178.8" font-size="5.2" font-family="'Liberation Serif','Times New Roman',serif" fill="#333" text-anchor="middle">&lt;</text>
<text x="467" y="178.8" font-size="5.2" font-family="'Liberation Serif','Times New Roman',serif" fill="#333" text-anchor="end">200</text>
<rect x="432.8" y="181.18" width="5.1" height="5.2" fill="#c50303"/>
<text x="449.6" y="185.58" font-size="5.2" font-family="'Liberation Serif','Times New Roman',serif" fill="#333" text-anchor="end">200</text>
<text x="454.2" y="185.58" font-size="5.2" font-family="'Liberation Serif','Times New Roman',serif" fill="#333" text-anchor="middle">–</text>
<text x="467" y="185.58" font-size="5.2" font-family="'Liberation Serif','Times New Roman',serif" fill="#333" text-anchor="end">300</text>
<rect x="432.8" y="187.96" width="5.1" height="5.2" fill="#ef8f12"/>
<text x="449.6" y="192.36" font-size="5.2" font-family="'Liberation Serif','Times New Roman',serif" fill="#333" text-anchor="end">300</text>
<text x="454.2" y="192.36" font-size="5.2" font-family="'Liberation Serif','Times New Roman',serif" fill="#333" text-anchor="middle">–</text>
<text x="467" y="192.36" font-size="5.2" font-family="'Liberation Serif','Times New Roman',serif" fill="#333" text-anchor="end">400</text>
<rect x="432.8" y="194.74" width="5.1" height="5.2" fill="#fce140"/>
<text x="449.6" y="199.14" font-size="5.2" font-family="'Liberation Serif','Times New Roman',serif" fill="#333" text-anchor="end">400</text>
<text x="454.2" y="199.14" font-size="5.2" font-family="'Liberation Serif','Times New Roman',serif" fill="#333" text-anchor="middle">–</text>
<text x="467" y="199.14" font-size="5.2" font-family="'Liberation Serif','Times New Roman',serif" fill="#333" text-anchor="end">500</text>
<rect x="432.8" y="201.52" width="5.1" height="5.2" fill="#cdb72c"/>
<text x="449.6" y="205.92" font-size="5.2" font-family="'Liberation Serif','Times New Roman',serif" fill="#333" text-anchor="end">500</text>
<text x="454.2" y="205.92" font-size="5.2" font-family="'Liberation Serif','Times New Roman',serif" fill="#333" text-anchor="middle">–</text>
<text x="467" y="205.92" font-size="5.2" font-family="'Liberation Serif','Times New Roman',serif" fill="#333" text-anchor="end">600</text>
<rect x="432.8" y="208.3" width="5.1" height="5.2" fill="#187575"/>
<text x="449.6" y="212.7" font-size="5.2" font-family="'Liberation Serif','Times New Roman',serif" fill="#333" text-anchor="end">600</text>
<text x="454.2" y="212.7" font-size="5.2" font-family="'Liberation Serif','Times New Roman',serif" fill="#333" text-anchor="middle">–</text>
<text x="467" y="212.7" font-size="5.2" font-family="'Liberation Serif','Times New Roman',serif" fill="#333" text-anchor="end">700</text>
<rect x="432.8" y="215.08" width="5.1" height="5.2" fill="#4158bd"/>
<text x="449.6" y="219.48" font-size="5.2" font-family="'Liberation Serif','Times New Roman',serif" fill="#333" text-anchor="end">700</text>
<text x="454.2" y="219.48" font-size="5.2" font-family="'Liberation Serif','Times New Roman',serif" fill="#333" text-anchor="middle">–</text>
<text x="467" y="219.48" font-size="5.2" font-family="'Liberation Serif','Times New Roman',serif" fill="#333" text-anchor="end">800</text>
<rect x="432.8" y="221.86" width="5.1" height="5.2" fill="#441c7c"/>
<text x="449.6" y="226.26" font-size="5.2" font-family="'Liberation Serif','Times New Roman',serif" fill="#333" text-anchor="end">800</text>
<text x="454.2" y="226.26" font-size="5.2" font-family="'Liberation Serif','Times New Roman',serif" fill="#333" text-anchor="middle">–</text>
<text x="467" y="226.26" font-size="5.2" font-family="'Liberation Serif','Times New Roman',serif" fill="#333" text-anchor="end">900</text>
<rect x="432.8" y="228.64" width="5.1" height="5.2" fill="#5a1866"/>
<text x="454.2" y="233.04" font-size="5.2" font-family="'Liberation Serif','Times New Roman',serif" fill="#333" text-anchor="middle">&gt;</text>
<text x="467" y="233.04" font-size="5.2" font-family="'Liberation Serif','Times New Roman',serif" fill="#333" text-anchor="end">900</text>
<clipPath id="ch"><rect x="263.3" y="310.5" width="162" height="115.9"/></clipPath>
<g clip-path="url(#ch)">
<rect x="263.3" y="310.5" width="162" height="115.9" fill="#cdb72c"/>
<path d="M256,409.7C257.27,409.7 260.53,409.95 263.6,409.7C266.67,409.45 270.68,409.17 274.4,408.2C278.12,407.23 283.38,405.58 285.9,403.9C288.42,402.22 288.77,400.98 289.5,398.1C290.23,395.22 289.7,389.47 290.3,386.6C290.9,383.73 290.95,382.58 293.1,380.9C295.25,379.22 299.83,377.95 303.2,376.5C306.57,375.05 311.2,373.78 313.3,372.2C315.4,370.62 314.93,368.53 315.8,367C316.67,365.47 317.47,364.2 318.5,363C319.53,361.8 319.75,360.93 322,359.8C324.25,358.67 329.97,357.53 332,356.2C334.03,354.87 334.43,353.37 334.2,351.8C333.97,350.23 331.43,348.6 330.6,346.8C329.77,345 329.2,342.92 329.2,341C329.2,339.08 329.65,336.85 330.6,335.3C331.55,333.75 332.5,332.55 334.9,331.7C337.3,330.85 342.72,330.33 345,330.2C347.28,330.07 345.83,330.18 348.6,330.9C351.37,331.62 357.03,332.57 361.6,334.5C366.17,336.43 371.2,340.33 376,342.5C380.8,344.67 386.07,346.55 390.4,347.5C394.73,348.45 398.15,348.57 402,348.2C405.85,347.83 410.38,346.73 413.5,345.3C416.62,343.87 419.27,341.15 420.7,339.6C422.13,338.05 422.58,337.45 422.1,336C421.62,334.55 420.2,333.18 417.8,330.9C415.4,328.62 410.33,324.7 407.7,322.3C405.07,319.9 403.2,318.47 402,316.5C400.8,314.53 400.75,312.58 400.5,310.5C400.25,308.42 400.5,305.08 400.5,304L256,304Z" fill="#187575"/>
<path d="M360.2,304C360.2,305.08 360.92,308.65 360.2,310.5C359.48,312.35 357.83,313.73 355.9,315.1C353.97,316.47 351.25,317.73 348.6,318.7C345.95,319.67 342.28,320.07 340,320.9C337.72,321.73 336.95,322.5 334.9,323.7C332.85,324.9 329.38,325.93 327.7,328.1C326.02,330.27 325.52,333.83 324.8,336.7C324.08,339.57 324.6,342.9 323.4,345.3C322.2,347.7 320,349.42 317.6,351.1C315.2,352.78 311.15,353.95 309,355.4C306.85,356.85 305.8,358.03 304.7,359.8C303.6,361.57 303.05,364.05 302.4,366C301.75,367.95 302.35,369.98 300.8,371.5C299.25,373.02 296.3,374.15 293.1,375.1C289.9,376.05 284.72,376.23 281.6,377.2C278.48,378.17 275.83,379.33 274.4,380.9C272.97,382.47 272.75,384.93 273,386.6C273.25,388.27 274.7,389.45 275.9,390.9C277.1,392.35 279.73,393.62 280.2,395.3C280.67,396.98 279.9,399.68 278.7,401C277.5,402.32 275.15,403.08 273,403.2C270.85,403.32 267.37,402.3 265.8,401.7C264.23,401.1 265.23,400.05 263.6,399.6C261.97,399.15 257.27,399.1 256,399L256,304Z" fill="#4158bd"/>
<path d="M323.4,304C323.4,305.08 323.63,308.42 323.4,310.5C323.17,312.58 323.2,314.77 322,316.5C320.8,318.23 318.37,319.7 316.2,320.9C314.03,322.1 310.68,322.27 309,323.7C307.32,325.13 306.58,326.62 306.1,329.5C305.62,332.38 306.58,337.88 306.1,341C305.62,344.12 304.88,346.27 303.2,348.2C301.52,350.13 298.88,351.4 296,352.6C293.12,353.8 289.02,354.45 285.9,355.4C282.78,356.35 279.18,357.1 277.3,358.3C275.42,359.5 274.93,361.15 274.6,362.6C274.27,364.05 275.65,365.52 275.3,367C274.95,368.48 273.62,370.15 272.5,371.5C271.38,372.85 270.08,374.02 268.6,375.1C267.12,376.18 265.7,377.35 263.6,378C261.5,378.65 257.27,378.83 256,379L256,304Z" fill="#441c7c"/>
<defs><radialGradient id="gp"><stop offset="0" stop-color="#5a1666"/><stop offset="0.55" stop-color="#581868" stop-opacity="0.8"/><stop offset="1" stop-color="#5a1866" stop-opacity="0"/></radialGradient></defs>
<ellipse cx="268" cy="313" rx="12" ry="10" fill="url(#gp)"/><ellipse cx="289" cy="339" rx="8" ry="8" fill="url(#gp)"/>
<path d="M256,414.7C257.27,414.7 260.53,414.93 263.6,414.7C266.67,414.47 270.2,414.38 274.4,413.3C278.6,412.22 285.92,410 288.8,408.2C291.68,406.4 291.22,405.62 291.7,402.5C292.18,399.38 291.22,392.38 291.7,389.5C292.18,386.62 292.68,386.28 294.6,385.2C296.52,384.12 299.37,383.6 303.2,383C307.03,382.4 313.27,381.95 317.6,381.6C321.93,381.25 324.63,381.15 329.2,380.9C333.77,380.65 340.8,379.98 345,380.1C349.2,380.22 350.43,381.23 354.4,381.6C358.37,381.97 364.62,382.4 368.8,382.3C372.98,382.2 377.82,381.97 379.5,381C381.18,380.03 379.37,378.45 378.9,376.5C378.43,374.55 376.7,371.62 376.7,369.3C376.7,366.98 377.33,364.07 378.9,362.6C380.47,361.13 383.7,360.62 386.1,360.5C388.5,360.38 391.13,361.07 393.3,361.9C395.47,362.73 397.9,364.27 399.1,365.5C400.3,366.73 400.02,367.22 400.5,369.3C400.98,371.38 400.8,375.35 402,378C403.2,380.65 405.07,383.4 407.7,385.2C410.33,387 414.87,387.72 417.8,388.8C420.73,389.88 423.1,391 425.3,391.7C427.5,392.4 430.05,392.78 431,393L431,432L256,432Z" fill="#fce140"/>
<ellipse cx="340" cy="397" rx="4.3" ry="4" fill="#cdb72c"/>
<path d="M301.8,432C301.8,431.07 301.92,428.43 301.8,426.4C301.68,424.37 301.22,422.35 301.1,419.8C300.98,417.25 300.98,413.52 301.1,411.1C301.22,408.68 302.28,407.47 301.8,405.3C301.32,403.13 298.68,400.02 298.2,398.1C297.72,396.18 298.07,395 298.9,393.8C299.73,392.6 300.8,391.85 303.2,390.9C305.6,389.95 310.42,388.82 313.3,388.1C316.18,387.38 318.33,386.37 320.5,386.6C322.67,386.83 324.85,387.82 326.3,389.5C327.75,391.18 328.48,394.07 329.2,396.7C329.92,399.33 329.4,403.25 330.6,405.3C331.8,407.35 334,408.3 336.4,409C338.8,409.7 342,409.38 345,409.5C348,409.62 349.23,409.55 354.4,409.7C359.57,409.85 370,409.8 376,410.4C382,411 386.32,411.98 390.4,413.3C394.48,414.62 397.85,416.5 400.5,418.3C403.15,420.1 405.1,422.75 406.3,424.1C407.5,425.45 407.42,425.08 407.7,426.4C407.98,427.72 407.95,431.07 408,432L301.8,432Z" fill="#ef8f12"/>
<path d="M272,432C272.03,431.07 271.8,428.08 272.2,426.4C272.6,424.72 272.58,423 274.4,421.9C276.22,420.8 280.45,420.15 283.1,419.8C285.75,419.45 288.87,419.33 290.3,419.8C291.73,420.27 291.58,421.5 291.7,422.6C291.82,423.7 291.12,424.83 291,426.4C290.88,427.97 291,431.07 291,432L272,432Z" fill="#ef8f12"/>
<ellipse cx="319.8" cy="398.1" rx="5" ry="7.2" fill="#c50303"/>
<path d="M304.5,432C304.53,431.07 304.28,427.82 304.7,426.4C305.12,424.98 306.03,424.13 307,423.5C307.97,422.87 309.33,422.6 310.5,422.6C311.67,422.6 313.05,422.87 314,423.5C314.95,424.13 315.78,424.98 316.2,426.4C316.62,427.82 316.45,431.07 316.5,432L304.5,432Z" fill="#c50303"/>
<path d="M347,432C347.03,431.07 346.93,428.43 347.2,426.4C347.47,424.37 347.4,421.5 348.6,419.8C349.8,418.1 351.75,416.93 354.4,416.2C357.05,415.47 361.38,414.93 364.5,415.4C367.62,415.87 370.47,417.43 373.1,419C375.73,420.57 378.85,423.57 380.3,424.8C381.75,426.03 381.52,425.2 381.8,426.4C382.08,427.6 381.97,431.07 382,432L347,432Z" fill="#c50303"/>
</g>
<line x1="263.3" y1="310.5" x2="263.3" y2="426.4" stroke="#999" stroke-width="0.5"/>
<line x1="263.3" y1="426.4" x2="425.3" y2="426.4" stroke="#999" stroke-width="0.5"/>
<line x1="261.8" y1="311.8" x2="263.3" y2="311.8" stroke="#888" stroke-width="0.5"/>
<text x="261.1" y="314.1" font-size="5.2" font-family="'Liberation Serif','Times New Roman',serif" fill="#444" text-anchor="end" textLength="9.8" lengthAdjust="spacingAndGlyphs">1600</text>
<line x1="261.8" y1="326.23" x2="263.3" y2="326.23" stroke="#888" stroke-width="0.5"/>
<text x="261.1" y="328.53" font-size="5.2" font-family="'Liberation Serif','Times New Roman',serif" fill="#444" text-anchor="end" textLength="9.8" lengthAdjust="spacingAndGlyphs">1500</text>
<line x1="261.8" y1="340.66" x2="263.3" y2="340.66" stroke="#888" stroke-width="0.5"/>
<text x="261.1" y="342.96" font-size="5.2" font-family="'Liberation Serif','Times New Roman',serif" fill="#444" text-anchor="end" textLength="9.8" lengthAdjust="spacingAndGlyphs">1400</text>
<line x1="261.8" y1="355.09" x2="263.3" y2="355.09" stroke="#888" stroke-width="0.5"/>
<text x="261.1" y="357.39" font-size="5.2" font-family="'Liberation Serif','Times New Roman',serif" fill="#444" text-anchor="end" textLength="9.8" lengthAdjust="spacingAndGlyphs">1300</text>
<line x1="261.8" y1="369.52" x2="263.3" y2="369.52" stroke="#888" stroke-width="0.5"/>
<text x="261.1" y="371.82" font-size="5.2" font-family="'Liberation Serif','Times New Roman',serif" fill="#444" text-anchor="end" textLength="9.8" lengthAdjust="spacingAndGlyphs">1200</text>
<line x1="261.8" y1="383.95" x2="263.3" y2="383.95" stroke="#888" stroke-width="0.5"/>
<text x="261.1" y="386.25" font-size="5.2" font-family="'Liberation Serif','Times New Roman',serif" fill="#444" text-anchor="end" textLength="9.8" lengthAdjust="spacingAndGlyphs">1100</text>
<line x1="261.8" y1="398.38" x2="263.3" y2="398.38" stroke="#888" stroke-width="0.5"/>
<text x="261.1" y="400.68" font-size="5.2" font-family="'Liberation Serif','Times New Roman',serif" fill="#444" text-anchor="end" textLength="9.8" lengthAdjust="spacingAndGlyphs">1000</text>
<line x1="261.8" y1="412.81" x2="263.3" y2="412.81" stroke="#888" stroke-width="0.5"/>
<text x="261.1" y="415.11" font-size="5.2" font-family="'Liberation Serif','Times New Roman',serif" fill="#444" text-anchor="end" textLength="7.35" lengthAdjust="spacingAndGlyphs">900</text>
<line x1="261.8" y1="427.24" x2="263.3" y2="427.24" stroke="#888" stroke-width="0.5"/>
<text x="261.1" y="429.54" font-size="5.2" font-family="'Liberation Serif','Times New Roman',serif" fill="#444" text-anchor="end" textLength="7.35" lengthAdjust="spacingAndGlyphs">800</text>
<line x1="279.1" y1="426.4" x2="279.1" y2="427.9" stroke="#888" stroke-width="0.5"/>
<text x="279.1" y="433.7" font-size="5.1" font-family="'Liberation Serif','Times New Roman',serif" fill="#444" text-anchor="middle">3</text>
<line x1="298.2" y1="426.4" x2="298.2" y2="427.9" stroke="#888" stroke-width="0.5"/>
<text x="298.2" y="433.7" font-size="5.1" font-family="'Liberation Serif','Times New Roman',serif" fill="#444" text-anchor="middle">4</text>
<line x1="317.3" y1="426.4" x2="317.3" y2="427.9" stroke="#888" stroke-width="0.5"/>
<text x="317.3" y="433.7" font-size="5.1" font-family="'Liberation Serif','Times New Roman',serif" fill="#444" text-anchor="middle">5</text>
<line x1="336.4" y1="426.4" x2="336.4" y2="427.9" stroke="#888" stroke-width="0.5"/>
<text x="336.4" y="433.7" font-size="5.1" font-family="'Liberation Serif','Times New Roman',serif" fill="#444" text-anchor="middle">6</text>
<line x1="355.5" y1="426.4" x2="355.5" y2="427.9" stroke="#888" stroke-width="0.5"/>
<text x="355.5" y="433.7" font-size="5.1" font-family="'Liberation Serif','Times New Roman',serif" fill="#444" text-anchor="middle">7</text>
<line x1="374.6" y1="426.4" x2="374.6" y2="427.9" stroke="#888" stroke-width="0.5"/>
<text x="374.6" y="433.7" font-size="5.1" font-family="'Liberation Serif','Times New Roman',serif" fill="#444" text-anchor="middle">8</text>
<line x1="393.7" y1="426.4" x2="393.7" y2="427.9" stroke="#888" stroke-width="0.5"/>
<text x="393.7" y="433.7" font-size="5.1" font-family="'Liberation Serif','Times New Roman',serif" fill="#444" text-anchor="middle">9</text>
<line x1="412.8" y1="426.4" x2="412.8" y2="427.9" stroke="#888" stroke-width="0.5"/>
<text x="412.8" y="433.7" font-size="5.1" font-family="'Liberation Serif','Times New Roman',serif" fill="#444" text-anchor="middle">10</text>
<text x="319.7" y="440.8" font-size="6.7" font-family="'Liberation Serif','Times New Roman',serif" fill="#222" letter-spacing="-0.1"><tspan font-style="italic">I</tspan> / (mg·mm<tspan font-size="4" dy="-2.4">−2</tspan><tspan dy="2.4">)</tspan></text>
<text transform="translate(247,369.5) rotate(-90)" font-size="7" font-family="'Liberation Serif','Times New Roman',serif" fill="#222" text-anchor="middle"><tspan font-style="italic">P</tspan> / (W)</text>
<text x="441.9" y="315.5" font-size="6.2" font-family="'Liberation Serif','Times New Roman',serif" fill="#111"><tspan font-style="italic">η</tspan> / (%)</text>
<rect x="432.8" y="319" width="5.1" height="5.2" fill="#8c1018"/>
<text x="452.3" y="323.4" font-size="5.2" font-family="'Liberation Serif','Times New Roman',serif" fill="#333" text-anchor="middle">&lt;</text>
<text x="461.2" y="323.4" font-size="5.2" font-family="'Liberation Serif','Times New Roman',serif" fill="#333" text-anchor="end">0</text>
<rect x="432.8" y="325.66" width="5.1" height="5.2" fill="#c50303"/>
<text x="447.2" y="330.06" font-size="5.2" font-family="'Liberation Serif','Times New Roman',serif" fill="#333" text-anchor="end">0</text>
<text x="452.3" y="330.06" font-size="5.2" font-family="'Liberation Serif','Times New Roman',serif" fill="#333" text-anchor="middle">–</text>
<text x="461.2" y="330.06" font-size="5.2" font-family="'Liberation Serif','Times New Roman',serif" fill="#333" text-anchor="end">10</text>
<rect x="432.8" y="332.32" width="5.1" height="5.2" fill="#ef8f12"/>
<text x="447.2" y="336.72" font-size="5.2" font-family="'Liberation Serif','Times New Roman',serif" fill="#333" text-anchor="end">10</text>
<text x="452.3" y="336.72" font-size="5.2" font-family="'Liberation Serif','Times New Roman',serif" fill="#333" text-anchor="middle">–</text>
<text x="461.2" y="336.72" font-size="5.2" font-family="'Liberation Serif','Times New Roman',serif" fill="#333" text-anchor="end">20</text>
<rect x="432.8" y="338.98" width="5.1" height="5.2" fill="#fce140"/>
<text x="447.2" y="343.38" font-size="5.2" font-family="'Liberation Serif','Times New Roman',serif" fill="#333" text-anchor="end">20</text>
<text x="452.3" y="343.38" font-size="5.2" font-family="'Liberation Serif','Times New Roman',serif" fill="#333" text-anchor="middle">–</text>
<text x="461.2" y="343.38" font-size="5.2" font-family="'Liberation Serif','Times New Roman',serif" fill="#333" text-anchor="end">30</text>
<rect x="432.8" y="345.64" width="5.1" height="5.2" fill="#cdb72c"/>
<text x="447.2" y="350.04" font-size="5.2" font-family="'Liberation Serif','Times New Roman',serif" fill="#333" text-anchor="end">30</text>
<text x="452.3" y="350.04" font-size="5.2" font-family="'Liberation Serif','Times New Roman',serif" fill="#333" text-anchor="middle">–</text>
<text x="461.2" y="350.04" font-size="5.2" font-family="'Liberation Serif','Times New Roman',serif" fill="#333" text-anchor="end">40</text>
<rect x="432.8" y="352.3" width="5.1" height="5.2" fill="#187575"/>
<text x="447.2" y="356.7" font-size="5.2" font-family="'Liberation Serif','Times New Roman',serif" fill="#333" text-anchor="end">40</text>
<text x="452.3" y="356.7" font-size="5.2" font-family="'Liberation Serif','Times New Roman',serif" fill="#333" text-anchor="middle">–</text>
<text x="461.2" y="356.7" font-size="5.2" font-family="'Liberation Serif','Times New Roman',serif" fill="#333" text-anchor="end">50</text>
<rect x="432.8" y="358.96" width="5.1" height="5.2" fill="#4158bd"/>
<text x="447.2" y="363.36" font-size="5.2" font-family="'Liberation Serif','Times New Roman',serif" fill="#333" text-anchor="end">50</text>
<text x="452.3" y="363.36" font-size="5.2" font-family="'Liberation Serif','Times New Roman',serif" fill="#333" text-anchor="middle">–</text>
<text x="461.2" y="363.36" font-size="5.2" font-family="'Liberation Serif','Times New Roman',serif" fill="#333" text-anchor="end">60</text>
<rect x="432.8" y="365.62" width="5.1" height="5.2" fill="#441c7c"/>
<text x="447.2" y="370.02" font-size="5.2" font-family="'Liberation Serif','Times New Roman',serif" fill="#333" text-anchor="end">60</text>
<text x="452.3" y="370.02" font-size="5.2" font-family="'Liberation Serif','Times New Roman',serif" fill="#333" text-anchor="middle">–</text>
<text x="461.2" y="370.02" font-size="5.2" font-family="'Liberation Serif','Times New Roman',serif" fill="#333" text-anchor="end">70</text>
<rect x="432.8" y="372.28" width="5.1" height="5.2" fill="#5a1866"/>
<text x="452.3" y="376.68" font-size="5.2" font-family="'Liberation Serif','Times New Roman',serif" fill="#333" text-anchor="middle">&gt;</text>
<text x="461.2" y="376.68" font-size="5.2" font-family="'Liberation Serif','Times New Roman',serif" fill="#333" text-anchor="end">70</text>
<line x1="515" y1="57" x2="562" y2="15.5" stroke="#e6e6e6" stroke-width="0.7"/>
<line x1="562" y1="15.5" x2="661" y2="31" stroke="#e6e6e6" stroke-width="0.7"/>
<line x1="661" y1="31" x2="661" y2="96" stroke="#e6e6e6" stroke-width="0.7"/>
<line x1="515" y1="57" x2="515.5" y2="123" stroke="#e6e6e6" stroke-width="0.7"/>
<line x1="515.5" y1="123" x2="617" y2="143" stroke="#e6e6e6" stroke-width="0.7"/>
<line x1="617" y1="143" x2="661.5" y2="96" stroke="#e6e6e6" stroke-width="0.7"/>
<path d="M524,85L524.54,85.13L525.09,85.26L525.64,85.39L526.18,85.52L526.73,85.65L527.27,85.78L527.81,85.91L528.36,86.04L528.9,86.17L529.45,86.3L529.99,86.43L530.54,86.57L531.08,86.7L531.63,86.83L532.17,86.97L532.71,87.11L533.26,87.24L533.8,87.38L534.34,87.52L534.88,87.67L535.43,87.81L535.97,87.95L536.51,88.09L537.05,88.24L537.59,88.38L538.14,88.52L538.68,88.66L539.22,88.8L539.76,88.94L540.31,89.07L540.85,89.21L541.4,89.34L541.94,89.47L542.49,89.59L543.03,89.71L543.58,89.83L544.13,89.94L544.68,90.03L545.24,90.12L545.79,90.18L546.35,90.23L546.91,90.27L547.47,90.3L548.03,90.33L548.59,90.36L549.15,90.4L549.71,90.46L550.26,90.53L550.81,90.63L551.36,90.76L551.9,90.9L552.43,91.09L552.95,91.29L553.46,91.52L553.97,91.75L554.47,92L554.97,92.26L555.46,92.53L555.95,92.8L556.44,93.08L556.92,93.35L557.41,93.63L557.9,93.9L558.4,94.16L558.89,94.42L559.4,94.66L559.91,94.9L560.42,95.12L560.94,95.34L561.45,95.56L561.97,95.77L562.49,95.98L563.01,96.18L563.54,96.38L564.06,96.58L564.59,96.77L565.11,96.96L565.64,97.15L566.17,97.33L566.7,97.51L567.24,97.69L567.77,97.86L568.31,98.02L568.84,98.18L569.38,98.33L569.92,98.47L570.47,98.6L571.01,98.73L571.56,98.86L572.11,98.99L572.65,99.11L573.2,99.24L573.74,99.37L574.29,99.5L574.83,99.64L575.37,99.79L575.91,99.93L576.45,100.07L577,100.21L577.54,100.34L578.09,100.48L578.63,100.61L579.18,100.74L579.72,100.87L580.26,101.01L580.81,101.15L581.35,101.29L581.89,101.44L582.42,101.61L582.95,101.78L583.48,101.96L584.01,102.15L584.53,102.35L585.05,102.57L585.56,102.8L586.07,103.04L586.56,103.3L587.06,103.57L587.53,103.86L588.01,104.16L588.48,104.45L588.95,104.77L589.41,105.08L589.87,105.4L590.33,105.73L590.79,106.05L591.24,106.37L591.7,106.69L592.16,107.02L592.62,107.34L593.08,107.65L593.55,107.96L594.02,108.27L594.5,108.56L594.98,108.85L595.46,109.13L595.96,109.39L596.46,109.63L596.96,109.88L597.48,110.09L598,110.3L598.53,110.5L599.06,110.68L599.59,110.86L600.12,111.04L600.66,111.2L601.19,111.35L601.73,111.51L602.28,111.65L602.82,111.78L603.36,111.92L603.91,112.04L604.46,112.16L605.01,112.28L605.56,112.38L606.11,112.48L606.66,112.58L607.21,112.67L607.77,112.75L608.32,112.83L608.88,112.9L609.44,112.92L610,112.92L610.55,112.85L611.1,112.73L611.64,112.58L612.16,112.38L612.68,112.17L613.21,111.99L613.75,111.87L614.31,111.83L614.87,111.9L615.4,112.06L615.92,112.27L616.43,112.5L616.91,112.78L617.39,113.08L617.86,113.39L618.31,113.72L618.76,114.06L619.19,114.41L619.62,114.77L620.04,115.14L620.46,115.51L620.88,115.88L621.28,116.28L621.68,116.67L622.05,117.09L622.43,117.51L622.79,117.93L623.15,118.36L623.5,118.8L623.84,119.24L624.19,119.68L624.53,120.13L624.87,120.57L625.21,121.02L625.55,121.46L625.9,121.9L625.98,121.58L626.05,121.26L626.13,120.93L626.21,120.61L626.28,120.29L626.36,119.96L626.43,119.64L626.5,119.32L626.58,118.99L626.65,118.67L626.73,118.35L626.8,118.03L626.88,117.7L626.95,117.38L627.02,117.06L627.1,116.73L627.17,116.41L627.25,116.09L627.32,115.76L627.4,115.44L627.47,115.12L627.55,114.8L627.62,114.47L627.7,114.15L627.77,113.83L627.85,113.51L627.93,113.18L628.01,112.86L628.08,112.54L628.16,112.22L628.24,111.89L628.32,111.57L628.4,111.25L628.48,110.93L628.56,110.61L628.64,110.29L628.72,109.96L628.81,109.64L628.89,109.32L628.98,109L629.06,108.68L629.15,108.36L629.24,108.04L629.33,107.72L629.42,107.41L629.52,107.09L629.62,106.77L629.72,106.46L629.82,106.14L629.93,105.83L630.05,105.52L630.17,105.21L630.29,104.9L630.44,104.61L630.58,104.31L630.75,104.02L630.93,103.74L631.16,103.51L631.43,103.32L631.74,103.2L632.06,103.11L632.38,103.04L632.7,102.96L633.02,102.88L633.35,102.81L633.67,102.77L634.01,102.77L634.34,102.77L634.67,102.79L635,102.81L635.33,102.85L635.66,102.88L635.99,102.92L636.32,102.95L636.65,102.99L636.98,103.01L637.31,103.03L637.64,103.04L637.97,103.03L638.3,103.01L638.63,102.95L638.95,102.88L639.27,102.79L639.59,102.69L639.9,102.59L640.21,102.47L640.52,102.35L640.82,102.2L641.11,102.05L641.38,101.86L641.65,101.66L641.88,101.42L642.11,101.18L642.3,100.92L642.5,100.65L642.66,100.36L642.81,100.06L642.95,99.76L643.06,99.45L643.17,99.14L643.26,98.82L643.33,98.5L643.4,98.17L643.47,97.85L643.52,97.52L643.57,97.19L643.62,96.86L643.66,96.54L643.7,96.21L643.74,95.88L643.78,95.55L643.82,95.22L643.86,94.89L643.9,94.56L643.95,94.23L644,93.91L644.05,93.58L644.1,93.25L644.15,92.92L644.22,92.6L644.28,92.27L644.35,91.95L644.42,91.63L644.5,91.3L644.59,90.98L644.68,90.67L644.77,90.35L644.86,90.03L644.97,89.71L645.08,89.4L645.2,89.09L645.31,88.78L645.43,88.47L645.55,88.16L645.67,87.86L645.8,87.55L645.93,87.24L646.06,86.94L646.18,86.63L646.32,86.33L646.45,86.02L646.59,85.72L646.72,85.42L646.85,85.12L646.99,84.81L647.13,84.51L647.26,84.21L647.4,83.91L647.54,83.61L647.68,83.31L647.82,83L647.96,82.7L648.1,82.4L648.23,82.1L648.37,81.8L648.51,81.5L648.65,81.2L648.79,80.9L648.93,80.6L649.07,80.3L649.2,79.99L649.34,79.69L649.48,79.39L649.62,79.09L649.75,78.78L649.88,78.48L650.01,78.18L650.14,77.87L650.28,77.57L650.4,77.26L650.52,76.95L650.64,76.65L650.77,76.34L650.89,76.03L651,75.72L651.1,75.4L651.21,75.09L651.32,74.77L651.42,74.46L651.51,74.14L651.6,73.82L651.7,73.5L651.78,73.18L651.87,72.86L651.95,72.54L652.03,72.22L652.1,71.9L652.18,71.57L652.25,71.25L652.32,70.93L652.38,70.6L652.45,70.28L652.51,69.95L652.57,69.62L652.63,69.3L652.7,68.97L652.76,68.65L652.83,68.32L652.9,68L652.48,67.66L652.07,67.32L651.66,66.98L651.25,66.63L650.84,66.28L650.42,65.94L650.01,65.6L649.59,65.26L649.17,64.93L648.75,64.6L648.32,64.28L647.89,63.95L647.46,63.64L647.02,63.33L646.58,63.02L646.13,62.73L645.68,62.44L645.23,62.15L644.77,61.86L644.31,61.59L643.85,61.32L643.38,61.05L642.91,60.79L642.44,60.53L641.98,60.27L641.5,60.01L641.03,59.76L640.56,59.5L640.09,59.25L639.61,59L639.14,58.75L638.66,58.5L638.18,58.25L637.71,58L637.23,57.76L636.75,57.51L636.28,57.26L635.8,57.02L635.32,56.77L634.85,56.53L634.37,56.28L633.89,56.03L633.42,55.79L632.94,55.54L632.46,55.29L631.99,55.05L631.51,54.8L631.04,54.55L630.56,54.3L630.09,54.05L629.61,53.79L629.14,53.54L628.67,53.29L628.19,53.04L627.72,52.78L627.25,52.53L626.77,52.28L626.3,52.03L625.83,51.77L625.35,51.52L624.88,51.27L624.4,51.02L623.93,50.76L623.46,50.51L622.98,50.26L622.51,50.01L622.04,49.75L621.56,49.5L621.09,49.25L620.62,49L620.14,48.74L619.67,48.49L619.2,48.24L618.72,47.99L618.25,47.73L617.77,47.48L617.3,47.23L616.83,46.97L616.35,46.72L615.88,46.47L615.41,46.22L614.93,45.96L614.46,45.71L613.99,45.45L613.52,45.2L613.04,44.94L612.57,44.69L612.1,44.43L611.63,44.17L611.16,43.91L610.69,43.65L610.22,43.4L609.75,43.14L609.28,42.88L608.81,42.62L608.34,42.36L607.87,42.1L607.4,41.85L606.93,41.59L606.46,41.33L605.98,41.08L605.51,40.82L605.04,40.57L604.56,40.32L604.09,40.07L603.61,39.82L603.14,39.57L602.66,39.33L602.18,39.08L601.7,38.84L601.22,38.6L600.74,38.36L600.26,38.13L599.78,37.9L599.29,37.67L598.8,37.44L598.32,37.22L597.83,37L597.33,36.78L596.84,36.57L596.35,36.35L595.86,36.14L595.37,35.93L594.87,35.72L594.38,35.51L593.88,35.3L593.39,35.1L592.89,34.89L592.39,34.69L591.9,34.48L591.4,34.28L590.9,34.08L590.41,33.87L589.91,33.67L589.41,33.47L588.92,33.26L588.42,33.06L587.92,32.86L587.43,32.65L586.93,32.44L586.44,32.23L585.95,32.02L585.46,31.8L584.97,31.58L584.48,31.36L583.99,31.14L583.5,30.91L583.02,30.68L582.53,30.45L582.05,30.21L581.57,29.97L581.09,29.73L580.62,29.48L580.15,29.23L579.68,28.97L579.21,28.7L578.74,28.43L578.28,28.16L577.82,27.89L577.36,27.61L576.91,27.31L576.47,27.01L576.03,26.7L575.59,26.39L575.16,26.08L574.72,25.76L574.29,25.45L573.85,25.15L573.4,24.85L572.95,24.56L572.49,24.28L572.02,24.01L571.55,23.76L571.08,23.5L570.61,23.25L570.13,22.99L569.66,22.74L569.18,22.5L568.7,22.26L568.21,22.04L567.72,21.82L567.22,21.63L566.72,21.44L566.21,21.28L565.69,21.14L565.16,21.03L564.63,20.98L564.09,20.94L563.56,20.97L563.02,21.01L562.49,21.08L561.96,21.17L561.44,21.27L560.91,21.38L560.39,21.5L559.87,21.63L559.35,21.76L558.83,21.89L558.3,22L558.17,22.35L558.04,22.69L557.9,23.04L557.77,23.38L557.64,23.73L557.51,24.07L557.38,24.42L557.24,24.76L557.11,25.11L556.98,25.45L556.85,25.8L556.71,26.14L556.58,26.49L556.45,26.83L556.32,27.18L556.18,27.52L556.05,27.87L555.92,28.21L555.79,28.56L555.66,28.9L555.54,29.25L555.41,29.6L555.29,29.95L555.16,30.3L555.04,30.64L554.91,30.99L554.79,31.34L554.67,31.69L554.54,32.04L554.42,32.39L554.3,32.73L554.17,33.08L554.05,33.43L553.92,33.78L553.8,34.12L553.67,34.47L553.54,34.82L553.42,35.17L553.29,35.51L553.16,35.86L553.03,36.2L552.9,36.55L552.76,36.89L552.63,37.24L552.49,37.58L552.36,37.93L552.22,38.27L552.07,38.61L551.93,38.95L551.79,39.29L551.64,39.63L551.48,39.96L551.33,40.3L551.17,40.63L551.01,40.97L550.85,41.3L550.68,41.62L550.5,41.95L550.33,42.28L550.16,42.6L549.98,42.93L549.79,43.25L549.61,43.57L549.43,43.89L549.23,44.21L549.04,44.52L548.85,44.84L548.65,45.15L548.45,45.46L548.25,45.77L548.05,46.08L547.84,46.38L547.63,46.69L547.42,46.99L547.2,47.29L546.98,47.59L546.76,47.88L546.54,48.18L546.31,48.46L546.07,48.75L545.84,49.04L545.6,49.32L545.36,49.6L545.11,49.87L544.86,50.14L544.59,50.4L544.32,50.65L544.04,50.89L543.75,51.12L543.46,51.34L543.14,51.54L542.83,51.74L542.51,51.93L542.19,52.11L541.87,52.29L541.54,52.46L541.21,52.63L540.89,52.8L540.56,52.98L540.24,53.16L539.92,53.35L539.61,53.55L539.32,53.77L539.02,53.99L538.73,54.22L538.44,54.45L538.16,54.69L537.87,54.92L537.59,55.16L537.3,55.39L537.02,55.63L536.75,55.88L536.47,56.13L536.21,56.38L535.94,56.64L535.68,56.91L535.43,57.18L535.19,57.45L534.95,57.74L534.72,58.03L534.49,58.32L534.28,58.62L534.06,58.92L533.86,59.23L533.66,59.54L533.46,59.85L533.27,60.17L533.09,60.49L532.91,60.81L532.73,61.13L532.56,61.46L532.39,61.79L532.22,62.12L532.05,62.45L531.89,62.78L531.72,63.11L531.57,63.44L531.41,63.78L531.25,64.11L531.09,64.45L530.94,64.78L530.79,65.12L530.63,65.46L530.48,65.79L530.33,66.13L530.18,66.47L530.03,66.81L529.88,67.14L529.73,67.48L529.58,67.82L529.43,68.16L529.28,68.5L529.13,68.83L528.99,69.17L528.84,69.51L528.7,69.85L528.55,70.19L528.41,70.53L528.27,70.88L528.13,71.22L527.99,71.56L527.86,71.9L527.72,72.25L527.58,72.59L527.45,72.94L527.32,73.28L527.19,73.63L527.06,73.97L526.93,74.32L526.8,74.67L526.68,75.01L526.56,75.36L526.43,75.71L526.31,76.06L526.2,76.41L526.08,76.76L525.97,77.11L525.86,77.47L525.75,77.82L525.64,78.17L525.55,78.53L525.45,78.89L525.35,79.24L525.26,79.6L525.17,79.96L525.08,80.32L524.99,80.68L524.91,81.04L524.82,81.4L524.74,81.76L524.65,82.12L524.57,82.48L524.49,82.84L524.41,83.2L524.33,83.56L524.25,83.92L524.17,84.28L524.08,84.64L524,85Z" fill="#f1f4f9"/>
<path d="M524.0,85.0L524.5,82.6L525.1,80.2L525.7,77.9L526.5,75.5L527.3,73.2L528.2,70.9L529.2,68.7L530.2,66.4L531.2,64.2L532.3,62.0L533.5,59.9L534.9,57.9L536.5,56.1L538.4,54.5L540.4,53.1L542.6,51.9L544.5,50.5L546.2,48.6L547.6,46.7L549.0,44.6L550.2,42.5L551.3,40.3L552.3,38.1L553.2,35.8L554.0,33.5L554.8,31.2L555.7,28.9L556.5,26.6L557.4,24.3L558.3,22.0M526.5,85.6L527.0,83.2L527.6,80.8L528.2,78.5L529.0,76.2L529.8,73.9L530.7,71.6L531.7,69.3L532.7,67.0L533.7,64.8L534.8,62.6L535.9,60.4L537.3,58.4L539.0,56.5L540.8,54.9L542.8,53.4L544.9,52.2L546.8,50.7L548.5,48.8L549.9,46.8L551.2,44.7L552.5,42.5L553.6,40.3L554.6,38.0L555.5,35.6L556.3,33.3L557.2,30.9L558.0,28.5L558.9,26.2L559.8,23.8L560.7,21.4M528.9,86.2L529.5,83.8L530.1,81.5L530.7,79.1L531.5,76.8L532.3,74.5L533.2,72.2L534.2,69.9L535.2,67.7L536.2,65.4L537.2,63.2L538.4,61.0L539.8,58.9L541.4,57.1L543.3,55.4L545.2,53.8L547.3,52.5L549.2,50.9L550.8,49.0L552.2,46.9L553.5,44.8L554.8,42.6L555.9,40.3L556.9,37.9L557.8,35.5L558.6,33.1L559.5,30.7L560.3,28.3L561.2,25.9L562.1,23.4L563.0,21.0M531.4,86.8L532.0,84.5L532.5,82.1L533.2,79.8L534.0,77.5L534.8,75.2L535.7,72.9L536.7,70.6L537.6,68.3L538.7,66.1L539.7,63.8L540.9,61.7L542.3,59.6L543.9,57.7L545.7,56.0L547.6,54.4L549.6,53.1L551.5,51.4L553.1,49.5L554.5,47.4L555.8,45.2L557.1,42.9L558.2,40.6L559.2,38.2L560.1,35.8L561.0,33.4L561.8,30.9L562.7,28.5L563.6,26.0L564.5,23.6L565.5,21.1M533.8,87.4L534.4,85.1L535.0,82.8L535.7,80.5L536.4,78.2L537.3,75.9L538.2,73.6L539.1,71.4L540.1,69.1L541.1,66.9L542.2,64.6L543.4,62.5L544.8,60.4L546.4,58.6L548.1,56.8L550.0,55.2L552.0,53.8L553.8,52.2L555.4,50.2L556.8,48.1L558.1,45.9L559.3,43.7L560.4,41.3L561.4,39.0L562.4,36.6L563.2,34.1L564.1,31.7L565.0,29.2L565.9,26.8L566.8,24.3L567.8,21.8M536.3,88.0L536.9,85.8L537.5,83.5L538.1,81.2L538.9,78.9L539.7,76.6L540.6,74.4L541.6,72.1L542.5,69.9L543.5,67.7L544.6,65.5L545.8,63.4L547.2,61.4L548.8,59.5L550.5,57.8L552.3,56.2L554.3,54.7L556.1,53.1L557.6,51.1L559.0,49.0L560.3,46.8L561.5,44.6L562.6,42.3L563.6,39.9L564.5,37.5L565.4,35.1L566.3,32.7L567.2,30.2L568.1,27.8L569.0,25.4L570.0,22.9M538.8,88.7L539.3,86.4L539.9,84.2L540.6,81.9L541.3,79.6L542.2,77.4L543.1,75.1L544.0,72.9L545.0,70.7L546.0,68.5L547.1,66.4L548.2,64.3L549.6,62.3L551.2,60.5L552.9,58.8L554.7,57.1L556.6,55.7L558.3,54.0L559.8,51.9L561.2,49.8L562.4,47.7L563.6,45.5L564.7,43.2L565.7,40.9L566.7,38.6L567.6,36.2L568.4,33.8L569.3,31.3L570.2,28.9L571.2,26.5L572.1,24.0M541.2,89.3L541.8,87.1L542.4,84.8L543.0,82.6L543.8,80.3L544.6,78.0L545.5,75.8L546.4,73.6L547.4,71.5L548.4,69.3L549.5,67.3L550.6,65.2L552.0,63.3L553.6,61.5L555.2,59.8L557.0,58.1L558.8,56.6L560.5,54.9L562.0,52.8L563.3,50.7L564.6,48.6L565.7,46.4L566.8,44.3L567.8,42.0L568.7,39.7L569.6,37.3L570.5,35.0L571.4,32.6L572.3,30.2L573.2,27.8L574.1,25.3M543.7,89.9L544.3,87.7L544.9,85.4L545.5,83.2L546.3,80.9L547.1,78.6L547.9,76.3L548.8,74.2L549.8,72.1L550.8,70.1L551.9,68.1L553.0,66.2L554.4,64.3L555.9,62.5L557.6,60.8L559.3,59.1L561.1,57.6L562.7,55.8L564.1,53.7L565.4,51.6L566.7,49.5L567.8,47.4L568.9,45.3L569.9,43.1L570.8,40.9L571.7,38.6L572.5,36.2L573.4,33.9L574.3,31.5L575.2,29.1L576.1,26.8M546.2,90.2L546.8,88.1L547.4,85.9L548.0,83.7L548.7,81.4L549.5,78.9L550.4,76.6L551.3,74.5L552.2,72.6L553.2,70.8L554.3,68.9L555.5,67.0L556.8,65.1L558.3,63.4L560.0,61.7L561.6,60.0L563.4,58.4L565.0,56.5L566.3,54.4L567.6,52.3L568.8,50.2L569.9,48.2L571.0,46.2L571.9,44.2L572.9,42.0L573.7,39.8L574.6,37.5L575.5,35.1L576.4,32.8L577.3,30.4L578.1,28.1M548.7,90.4L549.3,88.3L549.9,86.1L550.5,83.9L551.2,81.6L552.0,79.1L552.9,76.7L553.7,74.6L554.6,73.0L555.6,71.3L556.7,69.5L557.9,67.7L559.3,65.9L560.8,64.2L562.4,62.5L564.0,60.8L565.7,59.1L567.2,57.2L568.5,55.0L569.8,52.8L571.0,50.8L572.1,48.9L573.1,47.1L574.1,45.1L575.0,43.0L575.9,40.8L576.7,38.6L577.6,36.3L578.5,34.0L579.4,31.6L580.3,29.3M551.2,90.7L551.8,88.7L552.4,86.5L553.0,84.4L553.7,82.0L554.5,79.5L555.3,77.0L556.2,75.0L557.1,73.5L558.1,71.9L559.2,70.2L560.4,68.4L561.7,66.7L563.2,65.0L564.8,63.4L566.4,61.6L568.0,59.8L569.5,57.8L570.8,55.5L572.0,53.3L573.2,51.3L574.3,49.6L575.3,47.8L576.3,46.0L577.2,44.0L578.1,41.8L578.9,39.6L579.8,37.3L580.7,35.0L581.5,32.7L582.4,30.4M553.6,91.6L554.2,89.5L554.8,87.4L555.4,85.3L556.1,82.9L556.9,80.4L557.7,77.9L558.5,76.0L559.4,74.4L560.4,72.8L561.6,71.1L562.8,69.4L564.1,67.7L565.6,66.1L567.2,64.4L568.7,62.6L570.3,60.7L571.8,58.6L573.0,56.2L574.2,53.9L575.4,52.0L576.5,50.3L577.5,48.6L578.5,46.9L579.4,44.9L580.2,42.8L581.1,40.6L582.0,38.3L582.9,36.1L583.7,33.7L584.6,31.4M555.8,92.7L556.4,90.7L557.0,88.6L557.7,86.4L558.4,84.1L559.2,81.7L560.0,79.3L560.8,77.3L561.7,75.6L562.7,73.9L563.9,72.2L565.1,70.5L566.4,68.8L567.9,67.3L569.5,65.7L571.0,63.9L572.6,61.9L574.0,59.5L575.3,57.0L576.4,54.7L577.6,52.8L578.6,51.1L579.7,49.5L580.6,47.8L581.6,45.9L582.5,43.8L583.3,41.6L584.2,39.3L585.1,37.0L586.0,34.7L586.8,32.4M558.1,94.0L558.7,91.9L559.3,89.8L559.9,87.7L560.6,85.4L561.4,83.1L562.2,80.8L563.1,78.7L564.0,76.8L565.0,75.0L566.2,73.2L567.4,71.5L568.8,70.0L570.3,68.5L571.8,67.1L573.4,65.3L574.9,63.2L576.3,60.7L577.5,58.0L578.6,55.7L579.8,53.7L580.8,52.0L581.9,50.4L582.9,48.7L583.8,46.8L584.7,44.7L585.6,42.5L586.4,40.3L587.3,38.0L588.2,35.7L589.1,33.3M560.3,95.1L560.9,93.0L561.6,90.9L562.2,88.8L562.9,86.6L563.7,84.4L564.5,82.1L565.4,80.0L566.3,77.9L567.3,75.9L568.5,74.1L569.8,72.4L571.1,71.0L572.7,69.8L574.2,68.6L575.7,67.1L577.2,64.8L578.5,62.0L579.7,59.2L580.9,56.8L582.0,54.8L583.1,53.1L584.1,51.4L585.1,49.7L586.0,47.8L586.9,45.7L587.8,43.4L588.7,41.2L589.6,38.9L590.4,36.6L591.3,34.2M562.7,96.1L563.3,94.0L563.9,91.9L564.6,89.7L565.3,87.6L566.0,85.4L566.9,83.2L567.7,81.0L568.6,78.8L569.6,76.7L570.8,74.8L572.1,73.1L573.5,71.9L575.1,71.0L576.6,70.2L578.1,68.9L579.5,66.5L580.8,63.5L582.0,60.5L583.1,58.0L584.2,56.0L585.3,54.2L586.3,52.5L587.3,50.7L588.2,48.7L589.2,46.6L590.1,44.4L590.9,42.1L591.8,39.8L592.7,37.5L593.6,35.2M565.1,96.9L565.7,94.9L566.3,92.8L566.9,90.6L567.6,88.5L568.4,86.4L569.2,84.2L570.0,81.9L570.9,79.6L572.0,77.2L573.2,75.3L574.5,73.7L575.9,72.6L577.5,72.0L579.0,71.6L580.4,70.5L581.8,68.1L583.1,64.9L584.2,61.9L585.3,59.4L586.4,57.3L587.5,55.4L588.5,53.6L589.5,51.7L590.5,49.7L591.4,47.5L592.3,45.3L593.2,43.1L594.1,40.8L594.9,38.4L595.8,36.1M567.5,97.8L568.1,95.7L568.7,93.6L569.3,91.5L570.0,89.4L570.8,87.2L571.6,85.0L572.4,82.6L573.3,80.2L574.3,77.7L575.6,75.6L576.9,74.1L578.3,73.1L579.9,72.7L581.4,72.5L582.8,71.6L584.2,69.3L585.4,66.2L586.5,63.2L587.6,60.7L588.7,58.6L589.7,56.6L590.8,54.7L591.7,52.7L592.7,50.7L593.6,48.5L594.5,46.3L595.4,44.0L596.3,41.7L597.2,39.4L598.0,37.1M569.9,98.5L570.5,96.4L571.1,94.3L571.7,92.2L572.4,90.1L573.2,88.0L574.0,85.7L574.8,83.3L575.7,80.6L576.7,78.0L578.0,75.9L579.3,74.3L580.8,73.4L582.3,73.1L583.8,73.0L585.2,72.1L586.5,70.0L587.7,67.2L588.8,64.4L589.8,62.0L590.9,59.8L592.0,57.8L593.0,55.8L594.0,53.7L594.9,51.7L595.8,49.5L596.7,47.3L597.6,45.0L598.5,42.7L599.4,40.4L600.2,38.1M572.4,99.0L572.9,97.0L573.5,94.9L574.2,92.9L574.9,90.8L575.6,88.6L576.4,86.3L577.2,83.8L578.0,81.1L579.1,78.4L580.4,76.1L581.7,74.6L583.2,73.8L584.7,73.4L586.3,73.2L587.6,72.3L588.9,70.4L590.0,68.0L591.1,65.4L592.1,63.1L593.1,60.9L594.2,58.8L595.2,56.8L596.2,54.7L597.1,52.6L598.0,50.5L598.9,48.3L599.8,46.1L600.7,43.8L601.6,41.5L602.4,39.2M574.8,99.6L575.4,97.6L576.0,95.6L576.6,93.5L577.3,91.4L578.0,89.3L578.8,87.0L579.6,84.4L580.4,81.6L581.5,78.8L582.8,76.5L584.2,75.0L585.6,74.2L587.2,73.8L588.7,73.4L590.0,72.5L591.2,70.9L592.3,68.7L593.3,66.4L594.3,64.2L595.3,62.0L596.4,59.8L597.4,57.6L598.3,55.6L599.3,53.6L600.2,51.5L601.1,49.4L602.0,47.2L602.9,44.9L603.7,42.6L604.6,40.3M577.3,100.3L577.8,98.3L578.4,96.2L579.0,94.2L579.7,92.1L580.4,90.0L581.1,87.7L581.9,85.1L582.8,82.2L583.8,79.3L585.2,77.1L586.6,75.7L588.0,75.0L589.6,74.5L591.1,74.0L592.4,73.0L593.5,71.5L594.6,69.6L595.6,67.4L596.5,65.2L597.5,62.9L598.6,60.6L599.6,58.4L600.5,56.4L601.5,54.4L602.4,52.5L603.3,50.4L604.2,48.3L605.0,46.0L605.9,43.8L606.7,41.5M579.7,100.9L580.3,98.9L580.9,96.9L581.5,94.9L582.1,92.8L582.8,90.7L583.5,88.4L584.3,85.7L585.1,82.8L586.2,79.9L587.5,77.8L589.0,76.6L590.4,76.0L592.0,75.5L593.5,74.9L594.8,73.8L595.9,72.3L596.9,70.5L597.8,68.4L598.8,66.1L599.7,63.8L600.7,61.4L601.7,59.1L602.7,57.1L603.6,55.3L604.6,53.5L605.5,51.5L606.3,49.4L607.2,47.2L608.0,44.9L608.8,42.6M582.2,101.5L582.7,99.6L583.3,97.6L583.9,95.6L584.5,93.5L585.2,91.4L585.9,89.1L586.7,86.4L587.5,83.3L588.5,80.4L589.9,78.6L591.3,77.7L592.8,77.2L594.4,76.7L595.9,76.0L597.1,74.8L598.2,73.3L599.2,71.5L600.1,69.4L601.0,67.1L602.0,64.6L602.9,62.1L603.9,59.8L604.9,57.8L605.8,56.1L606.7,54.4L607.6,52.6L608.5,50.5L609.3,48.3L610.1,46.1L610.9,43.8M584.6,102.4L585.1,100.4L585.7,98.4L586.3,96.4L586.9,94.4L587.6,92.3L588.2,90.0L589.0,87.2L589.8,83.9L590.8,81.0L592.2,79.4L593.7,78.9L595.2,78.7L596.8,78.1L598.3,77.3L599.5,76.0L600.5,74.4L601.5,72.6L602.3,70.4L603.2,68.1L604.2,65.5L605.1,62.9L606.1,60.5L607.0,58.6L608.0,57.0L608.9,55.4L609.8,53.6L610.7,51.6L611.5,49.5L612.3,47.2L613.1,45.0M586.9,103.5L587.4,101.5L588.0,99.5L588.5,97.5L589.2,95.5L589.8,93.4L590.5,91.0L591.2,88.1L592.0,84.7L593.1,81.7L594.5,80.4L596.0,80.3L597.6,80.2L599.1,79.7L600.6,78.7L601.8,77.2L602.8,75.6L603.7,73.7L604.5,71.5L605.4,69.1L606.3,66.5L607.3,63.9L608.3,61.5L609.2,59.6L610.2,58.0L611.1,56.5L612.0,54.8L612.8,52.8L613.7,50.6L614.4,48.4L615.2,46.1M589.0,104.8L589.6,102.8L590.1,100.8L590.7,98.8L591.3,96.7L592.0,94.6L592.7,92.3L593.4,89.3L594.2,85.8L595.3,82.9L596.7,81.8L598.3,81.8L599.8,81.8L601.4,81.2L602.9,80.0L604.1,78.5L605.1,76.8L605.9,74.9L606.7,72.7L607.6,70.3L608.5,67.7L609.5,65.1L610.4,62.7L611.4,60.8L612.3,59.2L613.3,57.7L614.2,55.9L615.0,53.9L615.8,51.7L616.6,49.5L617.4,47.3M591.1,106.3L591.6,104.2L592.2,102.2L592.8,100.1L593.4,98.1L594.1,96.0L594.8,93.6L595.5,90.8L596.3,87.5L597.4,84.7L598.9,83.6L600.5,83.6L602.1,83.3L603.7,82.4L605.2,81.2L606.4,79.6L607.3,78.0L608.1,76.1L608.9,74.0L609.8,71.6L610.7,69.0L611.6,66.5L612.6,64.1L613.5,62.2L614.5,60.5L615.4,58.9L616.3,57.1L617.2,55.1L618.0,52.9L618.7,50.7L619.5,48.4M593.2,107.7L593.7,105.6L594.3,103.6L594.9,101.5L595.5,99.4L596.2,97.3L596.9,95.0L597.6,92.4L598.4,89.4L599.5,86.8L601.1,85.7L602.7,85.2L604.3,84.5L606.0,83.3L607.5,81.9L608.7,80.5L609.6,79.0L610.4,77.3L611.1,75.2L611.9,72.9L612.8,70.4L613.8,68.0L614.7,65.7L615.7,63.7L616.7,61.9L617.6,60.2L618.5,58.3L619.4,56.2L620.2,54.0L620.9,51.8L621.6,49.5M595.3,109.0L595.9,107.0L596.5,104.9L597.1,102.8L597.7,100.7L598.3,98.5L599.0,96.3L599.7,93.9L600.5,91.2L601.7,88.9L603.3,87.6L604.9,86.6L606.6,85.3L608.3,83.6L609.8,82.1L611.0,80.9L611.8,79.8L612.6,78.3L613.3,76.4L614.1,74.2L615.0,71.8L615.9,69.5L616.9,67.2L617.9,65.2L618.8,63.3L619.8,61.4L620.7,59.5L621.5,57.4L622.3,55.2L623.1,52.9L623.8,50.7M597.6,110.1L598.2,108.0L598.7,105.9L599.3,103.8L599.9,101.7L600.6,99.6L601.2,97.4L602.0,95.2L602.8,92.8L603.9,90.6L605.5,89.1L607.2,87.6L608.9,85.5L610.6,83.3L612.2,81.7L613.3,80.9L614.1,80.3L614.8,79.2L615.5,77.5L616.3,75.4L617.2,73.2L618.1,70.9L619.1,68.7L620.1,66.6L621.0,64.7L622.0,62.7L622.9,60.6L623.7,58.5L624.5,56.3L625.2,54.1L625.9,51.8M600.0,111.0L600.5,108.9L601.1,106.8L601.7,104.7L602.3,102.6L602.9,100.5L603.6,98.3L604.3,96.2L605.0,93.9L606.2,91.8L607.8,90.2L609.5,88.2L611.3,85.5L613.0,82.7L614.6,81.1L615.7,80.7L616.5,80.7L617.1,80.1L617.8,78.5L618.6,76.5L619.4,74.4L620.3,72.2L621.3,70.0L622.3,68.0L623.2,65.9L624.2,63.9L625.1,61.8L625.9,59.7L626.7,57.4L627.4,55.2L628.1,53.0M602.4,111.7L603.0,109.6L603.5,107.5L604.1,105.4L604.6,103.3L605.3,101.2L605.9,99.1L606.6,97.0L607.4,94.8L608.5,92.8L610.2,91.0L611.9,88.7L613.7,85.6L615.4,82.5L617.0,80.9L618.1,80.9L618.8,81.3L619.5,80.9L620.1,79.5L620.8,77.6L621.7,75.5L622.6,73.4L623.5,71.3L624.5,69.2L625.4,67.1L626.3,65.1L627.3,62.9L628.1,60.8L628.8,58.6L629.5,56.4L630.2,54.1M604.9,112.2L605.4,110.2L605.9,108.1L606.5,106.0L607.0,103.9L607.6,101.9L608.2,99.8L608.9,97.7L609.7,95.6L610.8,93.5L612.5,91.8L614.3,89.5L616.1,86.4L617.8,83.2L619.4,81.6L620.5,81.7L621.2,82.2L621.8,81.9L622.4,80.6L623.1,78.7L623.9,76.6L624.8,74.5L625.7,72.4L626.7,70.3L627.6,68.3L628.6,66.2L629.5,64.1L630.3,61.9L631.0,59.7L631.7,57.5L632.4,55.2M607.4,112.7L607.9,110.7L608.4,108.6L608.9,106.5L609.5,104.5L610.0,102.4L610.6,100.3L611.3,98.3L612.0,96.2L613.2,94.2L614.9,92.6L616.7,90.6L618.5,87.8L620.3,85.0L621.8,83.4L622.9,83.2L623.6,83.5L624.1,83.0L624.7,81.6L625.3,79.7L626.2,77.6L627.0,75.6L628.0,73.5L628.9,71.4L629.8,69.3L630.8,67.3L631.7,65.1L632.5,63.0L633.2,60.8L633.9,58.6L634.5,56.4M609.9,112.9L610.4,110.9L610.9,108.9L611.4,106.9L611.9,104.8L612.4,102.8L613.0,100.7L613.6,98.7L614.4,96.7L615.5,94.8L617.3,93.4L619.1,91.9L620.9,89.7L622.7,87.4L624.3,85.9L625.3,85.3L626.0,85.0L626.5,84.2L627.0,82.6L627.6,80.7L628.4,78.6L629.3,76.6L630.2,74.5L631.1,72.5L632.1,70.4L633.0,68.3L633.9,66.2L634.7,64.1L635.4,61.9L636.0,59.7L636.7,57.5M612.3,112.3L612.8,110.4L613.3,108.4L613.8,106.5L614.3,104.5L614.8,102.5L615.3,100.6L615.9,98.6L616.7,96.6L617.8,94.9L619.6,93.8L621.5,92.8L623.3,91.4L625.1,89.6L626.7,88.3L627.7,87.3L628.3,86.4L628.8,85.1L629.3,83.4L629.9,81.5L630.7,79.4L631.5,77.4L632.4,75.4L633.4,73.4L634.3,71.4L635.2,69.4L636.1,67.3L636.9,65.2L637.6,63.0L638.2,60.8L638.8,58.6M614.8,111.9L615.2,110.0L615.7,108.1L616.2,106.2L616.6,104.3L617.1,102.4L617.7,100.5L618.2,98.6L618.9,96.7L620.1,95.1L621.9,94.3L623.8,93.7L625.7,92.9L627.5,91.7L629.1,90.4L630.1,89.1L630.7,87.7L631.1,86.1L631.6,84.3L632.2,82.3L632.9,80.3L633.8,78.4L634.7,76.4L635.6,74.4L636.5,72.4L637.4,70.4L638.3,68.4L639.1,66.3L639.8,64.1L640.4,61.9L641.0,59.7M617.1,112.9L617.5,111.0L618.0,109.1L618.4,107.2L618.9,105.3L619.4,103.4L619.9,101.5L620.5,99.6L621.2,97.7L622.3,96.1L624.2,95.4L626.1,95.1L628.0,94.7L629.9,93.8L631.5,92.6L632.5,91.0L633.0,89.3L633.4,87.4L633.8,85.5L634.4,83.5L635.1,81.5L636.0,79.5L636.9,77.5L637.8,75.5L638.7,73.6L639.6,71.6L640.5,69.5L641.3,67.4L641.9,65.3L642.5,63.1L643.1,60.9M619.2,114.4L619.6,112.5L620.0,110.5L620.5,108.6L620.9,106.7L621.4,104.7L621.9,102.8L622.5,100.8L623.2,98.9L624.4,97.3L626.3,96.7L628.3,96.6L630.2,96.5L632.1,95.7L633.8,94.5L634.8,92.7L635.3,90.8L635.6,88.8L636.0,86.8L636.6,84.7L637.3,82.7L638.1,80.7L639.0,78.8L639.9,76.8L640.9,74.8L641.8,72.8L642.6,70.7L643.4,68.7L644.1,66.5L644.6,64.3L645.2,62.1M621.1,116.1L621.5,114.1L621.9,112.1L622.4,110.1L622.9,108.2L623.3,106.2L623.9,104.2L624.4,102.2L625.1,100.3L626.4,98.7L628.3,98.1L630.3,98.1L632.3,98.1L634.3,97.4L636.0,96.2L637.0,94.4L637.4,92.3L637.8,90.3L638.1,88.2L638.7,86.1L639.4,84.1L640.2,82.1L641.1,80.1L642.0,78.1L643.0,76.1L643.9,74.1L644.7,72.1L645.5,70.0L646.1,67.8L646.7,65.7L647.2,63.5M622.8,117.9L623.2,115.9L623.7,113.9L624.1,111.8L624.6,109.8L625.1,107.8L625.6,105.8L626.2,103.7L626.9,101.7L628.2,100.1L630.2,99.6L632.3,99.7L634.3,99.7L636.3,99.1L638.0,97.9L639.1,96.0L639.5,93.9L639.8,91.8L640.2,89.7L640.7,87.6L641.4,85.5L642.3,83.5L643.2,81.5L644.1,79.5L645.0,77.5L645.9,75.5L646.8,73.5L647.5,71.4L648.1,69.3L648.7,67.1L649.2,64.9M624.4,119.9L624.8,117.8L625.3,115.7L625.8,113.7L626.3,111.6L626.8,109.5L627.3,107.4L627.9,105.3L628.6,103.3L629.9,101.7L632.0,101.2L634.1,101.3L636.3,101.4L638.3,100.8L640.1,99.5L641.1,97.6L641.6,95.5L641.9,93.4L642.2,91.2L642.7,89.1L643.4,87.0L644.2,85.0L645.1,83.0L646.1,81.0L647.0,79.0L647.9,77.0L648.7,75.0L649.5,72.9L650.1,70.8L650.6,68.6L651.0,66.4M625.9,121.9L626.4,119.8L626.9,117.6L627.4,115.5L627.9,113.3L628.4,111.2L629.0,109.1L629.6,107.0L630.3,104.9L631.6,103.2L633.8,102.8L636.0,102.9L638.2,103.0L640.3,102.4L642.1,101.2L643.1,99.3L643.6,97.1L643.9,95.0L644.2,92.8L644.7,90.7L645.4,88.6L646.2,86.5L647.1,84.5L648.0,82.5L649.0,80.5L649.9,78.5L650.7,76.5L651.4,74.4L652.0,72.3L652.5,70.2L652.9,68.0M524.0,85.0L527.6,85.9L531.2,86.7L534.8,87.7L538.4,88.6L542.0,89.5L545.7,90.2L549.4,90.4L553.0,91.3L556.3,93.0L559.6,94.7L563.0,96.2L566.5,97.4L570.1,98.5L573.7,99.4L577.3,100.3L580.9,101.2L584.4,102.3L587.7,104.0L590.8,106.1L593.9,108.2L597.1,109.9L600.6,111.2L604.2,112.1L607.9,112.8L611.5,112.6L615.1,112.0L618.4,113.8L621.2,116.2L623.6,119.0L625.9,121.9M524.4,83.4L528.0,84.3L531.6,85.2L535.2,86.1L538.8,87.1L542.4,88.0L546.1,88.7L549.8,89.0L553.4,89.9L556.7,91.6L560.0,93.3L563.4,94.8L566.9,96.0L570.5,97.1L574.1,98.0L577.7,98.9L581.3,99.8L584.8,101.0L588.1,102.6L591.2,104.7L594.3,106.8L597.5,108.5L601.0,109.8L604.6,110.7L608.2,111.4L611.9,111.3L615.4,110.7L618.7,112.5L621.5,114.8L623.9,117.6L626.2,120.4M524.7,81.7L528.4,82.6L532.0,83.6L535.6,84.5L539.2,85.5L542.8,86.5L546.5,87.2L550.2,87.6L553.8,88.5L557.1,90.2L560.4,91.9L563.8,93.3L567.3,94.6L570.9,95.7L574.5,96.6L578.1,97.5L581.6,98.5L585.2,99.6L588.5,101.3L591.6,103.3L594.6,105.3L597.9,107.1L601.4,108.3L604.9,109.3L608.6,110.0L612.2,109.9L615.7,109.4L618.9,111.2L621.8,113.5L624.3,116.2L626.6,119.0M525.1,80.1L528.8,81.0L532.4,82.0L536.0,83.0L539.6,84.0L543.2,84.9L546.9,85.7L550.6,86.1L554.2,87.0L557.5,88.7L560.8,90.4L564.2,91.9L567.7,93.2L571.3,94.3L574.9,95.2L578.5,96.2L582.0,97.1L585.5,98.3L588.9,99.9L592.0,101.9L595.0,103.9L598.3,105.7L601.8,106.9L605.3,107.9L608.9,108.6L612.5,108.6L616.0,108.1L619.2,109.9L622.1,112.1L624.6,114.8L626.9,117.5M525.6,78.5L529.2,79.4L532.8,80.4L536.5,81.4L540.1,82.4L543.7,83.4L547.3,84.2L551.0,84.6L554.6,85.6L557.9,87.3L561.2,89.0L564.7,90.4L568.2,91.7L571.7,92.8L575.3,93.8L578.9,94.8L582.4,95.7L585.9,96.9L589.3,98.5L592.4,100.5L595.4,102.5L598.7,104.2L602.1,105.5L605.7,106.4L609.3,107.2L612.8,107.2L616.3,106.8L619.6,108.5L622.4,110.8L624.9,113.4L627.3,116.1M526.0,76.9L529.7,77.8L533.3,78.8L537.0,79.8L540.6,80.9L544.2,81.9L547.8,82.7L551.5,83.1L555.1,84.1L558.4,85.8L561.7,87.5L565.2,89.0L568.6,90.3L572.2,91.4L575.8,92.4L579.3,93.4L582.9,94.3L586.4,95.5L589.7,97.2L592.8,99.1L595.9,101.1L599.1,102.8L602.5,104.0L606.1,105.0L609.6,105.8L613.2,105.9L616.7,105.6L619.9,107.2L622.7,109.4L625.2,112.0L627.6,114.6M526.6,75.3L530.2,76.3L533.9,77.2L537.5,78.3L541.1,79.3L544.7,80.3L548.3,81.1L552.0,81.5L555.6,82.4L558.9,84.2L562.2,86.0L565.7,87.5L569.1,88.8L572.7,90.0L576.2,90.9L579.8,92.0L583.3,92.9L586.8,94.1L590.1,95.8L593.2,97.7L596.3,99.7L599.5,101.3L603.0,102.6L606.5,103.6L610.0,104.4L613.5,104.5L617.0,104.3L620.2,105.9L623.0,108.1L625.6,110.6L627.9,113.1M527.1,73.7L530.8,74.7L534.4,75.6L538.1,76.7L541.7,77.8L545.2,78.8L548.9,79.4L552.5,79.7L556.1,80.7L559.4,82.5L562.8,84.5L566.2,86.1L569.7,87.4L573.2,88.5L576.7,89.5L580.2,90.5L583.8,91.5L587.2,92.7L590.5,94.3L593.6,96.3L596.7,98.2L600.0,99.9L603.4,101.2L606.9,102.2L610.4,103.0L613.9,103.1L617.3,103.0L620.5,104.6L623.4,106.7L625.9,109.2L628.3,111.7M527.7,72.2L531.4,73.1L535.0,74.1L538.7,75.2L542.2,76.2L545.8,77.2L549.4,77.8L553.1,78.0L556.6,78.9L560.0,80.9L563.3,82.9L566.7,84.6L570.2,85.9L573.7,87.0L577.2,87.9L580.7,89.0L584.3,90.0L587.7,91.2L591.0,92.8L594.1,94.8L597.2,96.7L600.4,98.4L603.8,99.7L607.3,100.7L610.8,101.6L614.3,101.8L617.7,101.7L620.8,103.3L623.7,105.4L626.2,107.7L628.7,110.2M528.4,70.6L532.0,71.6L535.7,72.5L539.3,73.6L542.9,74.7L546.4,75.7L550.0,76.2L553.6,76.4L557.2,77.3L560.5,79.3L563.9,81.4L567.3,83.1L570.7,84.4L574.2,85.4L577.8,86.3L581.3,87.4L584.8,88.4L588.2,89.6L591.5,91.1L594.6,93.1L597.7,95.1L600.9,96.9L604.3,98.3L607.7,99.3L611.2,100.2L614.7,100.4L618.1,100.4L621.2,102.0L624.1,104.0L626.6,106.3L629.0,108.8M529.0,69.1L532.7,70.0L536.3,71.0L539.9,72.1L543.5,73.2L547.0,74.2L550.6,74.8L554.2,75.0L557.8,76.0L561.1,77.9L564.4,80.0L567.9,81.6L571.3,82.8L574.8,83.8L578.3,84.6L581.8,85.6L585.3,86.6L588.7,87.7L592.0,89.1L595.1,91.1L598.2,93.4L601.4,95.4L604.7,96.8L608.2,97.9L611.6,98.7L615.1,99.1L618.4,99.0L621.6,100.6L624.4,102.7L627.0,105.0L629.4,107.3M529.7,67.6L533.3,68.5L537.0,69.4L540.6,70.5L544.1,71.7L547.7,72.7L551.2,73.5L554.8,73.9L558.4,74.9L561.7,76.7L565.0,78.6L568.5,80.1L571.9,81.2L575.4,82.0L578.9,82.8L582.3,83.7L585.8,84.6L589.2,85.5L592.5,86.9L595.6,88.9L598.7,91.5L601.9,93.7L605.2,95.3L608.6,96.4L612.1,97.3L615.5,97.7L618.9,97.8L622.0,99.3L624.9,101.3L627.5,103.6L629.9,105.9M530.4,66.0L534.0,66.9L537.7,67.9L541.3,69.0L544.8,70.2L548.3,71.3L551.9,72.2L555.5,72.8L559.0,73.8L562.3,75.5L565.7,77.2L569.1,78.5L572.5,79.5L576.0,80.2L579.5,80.8L582.9,81.6L586.4,82.5L589.8,83.3L593.1,84.5L596.2,86.6L599.3,89.5L602.5,92.1L605.8,93.8L609.2,95.0L612.6,95.9L616.1,96.3L619.4,96.5L622.5,98.1L625.4,100.0L628.0,102.2L630.5,104.5M531.1,64.5L534.7,65.4L538.3,66.3L541.9,67.5L545.5,68.7L549.0,69.9L552.6,70.9L556.1,71.6L559.7,72.7L563.0,74.3L566.4,75.9L569.8,77.0L573.2,77.8L576.7,78.4L580.2,78.9L583.6,79.7L587.1,80.5L590.5,81.2L593.8,82.4L596.9,84.7L600.0,87.8L603.3,90.5L606.6,92.4L610.0,93.6L613.4,94.6L616.8,95.1L620.2,95.3L623.4,96.9L626.2,98.9L628.9,101.1L631.4,103.4M531.8,63.0L535.4,63.9L539.1,64.8L542.7,66.0L546.2,67.2L549.8,68.5L553.3,69.6L556.9,70.5L560.4,71.6L563.8,73.2L567.2,74.6L570.6,75.7L574.1,76.4L577.6,76.8L581.1,77.3L584.5,78.0L588.0,79.0L591.4,79.9L594.8,81.3L597.9,83.7L601.1,86.8L604.3,89.5L607.7,91.2L611.1,92.4L614.6,93.6L618.0,94.3L621.4,94.8L624.6,96.4L627.5,98.4L630.2,100.6L632.8,102.9M532.5,61.5L536.2,62.3L539.8,63.3L543.4,64.5L547.0,65.8L550.5,67.1L554.1,68.3L557.7,69.2L561.2,70.4L564.6,72.0L568.0,73.4L571.5,74.4L574.9,75.1L578.4,75.5L582.0,75.9L585.5,76.7L589.0,77.8L592.4,79.1L595.8,80.8L599.0,83.3L602.2,86.2L605.4,88.5L608.9,90.0L612.3,91.1L615.8,92.4L619.3,93.5L622.7,94.3L625.9,96.1L628.9,98.2L631.6,100.5L634.3,102.8M533.3,60.1L537.0,60.9L540.6,61.8L544.2,63.0L547.8,64.4L551.3,65.7L554.9,67.0L558.5,68.0L562.0,69.3L565.4,70.8L568.9,72.3L572.3,73.3L575.8,74.1L579.4,74.5L582.9,74.9L586.4,75.8L589.9,77.2L593.4,78.8L596.8,80.8L600.0,83.3L603.3,85.8L606.6,87.6L610.0,88.5L613.5,89.5L617.0,91.1L620.5,92.7L624.0,94.0L627.2,96.1L630.3,98.2L633.1,100.5L635.8,102.9M534.3,58.7L537.9,59.4L541.5,60.4L545.1,61.6L548.7,63.0L552.2,64.4L555.7,65.7L559.3,66.8L562.9,68.1L566.3,69.7L569.8,71.2L573.3,72.4L576.8,73.2L580.3,73.7L583.9,74.2L587.4,75.2L590.9,76.7L594.4,78.7L597.8,80.9L601.1,83.3L604.4,85.3L607.7,86.3L611.2,86.7L614.7,87.5L618.2,89.4L621.8,91.6L625.2,93.5L628.6,95.9L631.6,98.3L634.5,100.6L637.3,103.0M535.3,57.3L538.9,58.1L542.5,59.0L546.1,60.3L549.7,61.7L553.2,63.1L556.7,64.5L560.3,65.6L563.9,67.0L567.3,68.6L570.7,70.3L574.3,71.7L577.8,72.7L581.3,73.3L584.9,73.8L588.4,74.8L592.0,76.4L595.5,78.4L598.9,80.8L602.2,83.0L605.5,84.5L608.9,84.9L612.4,84.6L615.9,85.2L619.5,87.4L623.0,90.3L626.5,92.9L629.9,95.6L633.0,98.1L635.9,100.5L638.8,102.9M536.5,56.1L540.1,56.9L543.7,57.8L547.3,59.0L550.8,60.4L554.3,61.9L557.8,63.3L561.3,64.5L564.9,65.9L568.3,67.6L571.8,69.4L575.3,71.1L578.8,72.4L582.4,73.1L586.0,73.6L589.5,74.6L593.0,76.1L596.6,78.1L600.0,80.3L603.3,82.3L606.7,83.5L610.1,83.4L613.6,82.7L617.1,83.1L620.7,85.5L624.3,89.0L627.8,92.0L631.2,95.0L634.3,97.6L637.3,100.0L640.2,102.5M537.7,55.0L541.3,55.7L544.9,56.6L548.4,57.8L551.9,59.3L555.4,60.7L558.9,62.1L562.4,63.3L566.0,64.7L569.4,66.5L572.9,68.6L576.4,70.7L579.9,72.3L583.5,73.1L587.0,73.4L590.5,74.3L594.1,75.7L597.6,77.6L601.0,79.7L604.4,81.5L607.7,82.5L611.2,82.3L614.7,81.4L618.2,81.7L621.8,84.3L625.4,88.0L628.9,91.2L632.3,94.3L635.6,96.8L638.6,99.3L641.5,101.8M539.0,54.0L542.6,54.6L546.1,55.4L549.7,56.7L553.1,58.1L556.6,59.6L560.0,61.0L563.5,62.2L567.0,63.5L570.5,65.4L573.9,67.6L577.4,70.1L580.9,72.0L584.4,72.8L588.0,73.1L591.5,73.7L595.0,75.1L598.5,76.8L602.0,78.8L605.3,80.6L608.7,81.6L612.1,81.5L615.6,80.8L619.1,81.2L622.7,83.7L626.3,87.2L629.8,90.3L633.3,93.2L636.5,95.8L639.5,98.2L642.5,100.7M540.4,53.1L543.9,53.6L547.5,54.4L550.9,55.6L554.4,57.0L557.8,58.5L561.2,59.8L564.6,61.0L568.1,62.3L571.5,64.1L574.9,66.5L578.4,69.1L581.9,71.2L585.4,72.1L588.9,72.3L592.4,73.0L595.9,74.2L599.3,75.9L602.8,77.8L606.1,79.5L609.4,80.6L612.8,80.9L616.3,80.7L619.8,81.4L623.4,83.6L626.9,86.7L630.5,89.3L633.9,92.1L637.1,94.5L640.1,96.9L643.1,99.3M541.9,52.3L545.3,52.7L548.8,53.4L552.3,54.6L555.7,56.0L559.0,57.4L562.4,58.8L565.8,59.8L569.2,61.1L572.6,62.8L575.9,65.0L579.4,67.6L582.8,69.8L586.3,70.8L589.7,71.3L593.2,72.0L596.6,73.3L600.1,74.9L603.4,76.6L606.7,78.4L610.1,79.7L613.4,80.5L616.9,80.8L620.4,81.8L623.9,83.8L627.4,86.2L630.9,88.4L634.3,90.8L637.5,93.1L640.5,95.4L643.5,97.8M543.3,51.4L546.7,51.8L550.2,52.5L553.6,53.6L556.9,55.0L560.2,56.3L563.5,57.6L566.9,58.6L570.3,59.7L573.6,61.3L576.9,63.3L580.3,65.7L583.7,67.8L587.1,69.1L590.5,69.9L593.9,70.9L597.3,72.2L600.7,73.7L604.1,75.4L607.3,77.2L610.6,78.7L613.9,79.9L617.3,80.8L620.8,81.9L624.3,83.7L627.7,85.6L631.2,87.4L634.5,89.5L637.7,91.7L640.7,94.0L643.7,96.4M544.6,50.4L548.0,50.7L551.4,51.3L554.8,52.4L558.1,53.7L561.3,55.1L564.6,56.3L567.9,57.2L571.2,58.2L574.5,59.6L577.8,61.4L581.2,63.6L584.5,65.6L587.9,67.1L591.3,68.3L594.6,69.5L598.0,70.9L601.3,72.4L604.6,74.1L607.9,75.9L611.1,77.5L614.4,79.0L617.8,80.2L621.2,81.6L624.6,83.2L628.1,84.8L631.5,86.2L634.8,88.2L637.9,90.3L640.9,92.5L643.9,94.9M545.7,49.2L549.1,49.4L552.5,50.0L555.9,51.1L559.1,52.4L562.3,53.7L565.5,54.9L568.8,55.7L572.1,56.6L575.4,57.9L578.7,59.5L582.0,61.5L585.3,63.5L588.7,65.2L592.0,66.6L595.3,68.0L598.6,69.5L601.9,71.0L605.2,72.6L608.4,74.4L611.6,76.2L614.9,77.8L618.2,79.3L621.6,80.7L625.0,82.2L628.4,83.7L631.8,85.0L635.0,86.8L638.2,88.9L641.2,91.1L644.1,93.4M546.8,47.8L550.1,48.0L553.5,48.6L556.9,49.7L560.1,51.0L563.3,52.3L566.4,53.4L569.7,54.2L572.9,55.0L576.2,56.2L579.4,57.8L582.7,59.6L586.1,61.6L589.4,63.4L592.7,65.0L596.0,66.5L599.2,68.0L602.5,69.4L605.8,71.1L609.0,72.9L612.2,74.7L615.4,76.4L618.7,78.0L622.0,79.6L625.4,81.0L628.8,82.4L632.1,83.6L635.4,85.4L638.5,87.4L641.5,89.6L644.4,91.9M547.8,46.5L551.1,46.6L554.5,47.1L557.8,48.2L561.0,49.5L564.1,50.8L567.3,52.0L570.5,52.8L573.7,53.6L577.0,54.7L580.2,56.2L583.5,58.0L586.8,60.0L590.1,61.8L593.4,63.5L596.6,65.0L599.9,66.4L603.1,67.8L606.4,69.4L609.5,71.2L612.7,73.1L616.0,75.0L619.2,76.6L622.5,78.2L625.9,79.7L629.2,81.0L632.5,82.3L635.8,84.0L638.9,86.0L641.8,88.2L644.7,90.5M548.7,45.1L552.0,45.2L555.4,45.6L558.7,46.7L561.9,48.1L565.0,49.4L568.1,50.6L571.3,51.4L574.5,52.2L577.7,53.3L581.0,54.8L584.3,56.6L587.5,58.5L590.8,60.4L594.1,62.0L597.3,63.4L600.6,64.7L603.8,66.0L607.0,67.6L610.2,69.4L613.3,71.5L616.6,73.4L619.8,75.2L623.1,76.8L626.4,78.3L629.7,79.6L633.0,80.9L636.3,82.7L639.4,84.6L642.3,86.8L645.2,89.0M549.6,43.7L552.9,43.7L556.3,44.1L559.5,45.2L562.7,46.6L565.8,47.9L568.9,49.2L572.1,50.1L575.3,51.0L578.5,52.1L581.7,53.6L585.0,55.3L588.3,57.2L591.5,58.9L594.8,60.5L598.0,61.9L601.2,63.0L604.4,64.2L607.6,65.7L610.8,67.7L614.0,69.8L617.2,71.9L620.4,73.7L623.7,75.4L627.0,76.9L630.3,78.3L633.6,79.6L636.8,81.3L639.9,83.3L642.9,85.4L645.8,87.6M550.4,42.2L553.7,42.2L557.1,42.6L560.3,43.7L563.5,45.1L566.6,46.5L569.6,47.8L572.8,48.8L576.0,49.8L579.2,51.0L582.5,52.5L585.7,54.1L589.0,55.9L592.2,57.6L595.5,59.1L598.7,60.3L601.9,61.4L605.1,62.5L608.3,64.0L611.5,65.9L614.6,68.1L617.8,70.3L621.1,72.2L624.3,73.9L627.6,75.5L630.9,76.9L634.2,78.2L637.4,80.0L640.5,81.9L643.4,84.0L646.3,86.3M551.1,40.7L554.5,40.7L557.8,41.0L561.1,42.1L564.3,43.5L567.3,45.0L570.4,46.4L573.5,47.6L576.7,48.7L579.9,50.0L583.2,51.4L586.4,53.0L589.7,54.6L592.9,56.2L596.2,57.6L599.4,58.8L602.6,59.8L605.8,60.9L609.0,62.4L612.1,64.3L615.3,66.6L618.5,68.8L621.7,70.8L625.0,72.5L628.2,74.1L631.5,75.5L634.8,76.9L638.0,78.6L641.1,80.5L644.1,82.7L647.0,84.9M551.8,39.2L555.2,39.1L558.5,39.4L561.8,40.5L565.0,42.0L568.0,43.5L571.0,45.0L574.2,46.3L577.4,47.5L580.6,48.8L583.8,50.2L587.1,51.8L590.4,53.3L593.6,54.8L596.8,56.2L600.0,57.4L603.2,58.4L606.4,59.5L609.6,61.0L612.8,62.9L615.9,65.2L619.1,67.4L622.4,69.3L625.6,71.1L628.9,72.7L632.2,74.1L635.4,75.5L638.6,77.3L641.7,79.2L644.7,81.3L647.6,83.5M552.5,37.7L555.8,37.5L559.2,37.8L562.5,38.9L565.6,40.4L568.7,42.0L571.7,43.6L574.8,45.0L578.0,46.3L581.3,47.6L584.5,49.0L587.8,50.5L591.0,52.0L594.3,53.4L597.5,54.8L600.7,56.0L603.9,57.1L607.1,58.3L610.3,59.8L613.4,61.7L616.6,63.9L619.8,66.0L623.0,67.9L626.3,69.7L629.5,71.3L632.8,72.7L636.1,74.2L639.3,75.9L642.3,77.8L645.3,80.0L648.2,82.2M553.1,36.1L556.4,35.9L559.8,36.1L563.1,37.3L566.3,38.7L569.3,40.4L572.3,42.1L575.5,43.6L578.7,44.9L581.9,46.3L585.1,47.7L588.4,49.1L591.7,50.6L594.9,52.0L598.1,53.4L601.3,54.7L604.5,55.9L607.7,57.2L610.9,58.7L614.1,60.6L617.3,62.6L620.4,64.7L623.7,66.5L626.9,68.2L630.2,69.8L633.4,71.3L636.7,72.8L639.9,74.6L643.0,76.5L645.9,78.6L648.8,80.8M553.6,34.5L557.0,34.2L560.4,34.4L563.7,35.6L566.9,37.1L569.9,38.8L572.9,40.6L576.1,42.1L579.3,43.5L582.5,44.9L585.8,46.3L589.0,47.7L592.3,49.1L595.6,50.6L598.8,52.0L602.0,53.4L605.2,54.7L608.3,56.1L611.5,57.7L614.7,59.5L617.9,61.4L621.1,63.3L624.3,65.1L627.5,66.8L630.8,68.4L634.1,70.0L637.3,71.5L640.5,73.2L643.6,75.1L646.6,77.2L649.5,79.4M554.2,33.0L557.6,32.6L561.0,32.8L564.3,34.0L567.5,35.5L570.5,37.2L573.5,39.0L576.7,40.6L579.9,42.1L583.1,43.5L586.4,44.9L589.7,46.2L592.9,47.6L596.2,49.1L599.4,50.5L602.6,52.0L605.8,53.5L609.0,55.0L612.2,56.6L615.3,58.3L618.5,60.2L621.7,62.0L624.9,63.7L628.2,65.4L631.4,67.0L634.7,68.5L637.9,70.1L641.1,71.8L644.2,73.7L647.2,75.9L650.1,78.1M554.8,31.4L558.2,31.0L561.6,31.1L564.9,32.3L568.1,33.8L571.1,35.6L574.1,37.4L577.2,39.0L580.5,40.5L583.7,42.0L587.0,43.3L590.3,44.7L593.6,46.1L596.8,47.6L600.0,49.1L603.2,50.6L606.4,52.2L609.6,53.7L612.8,55.4L616.0,57.1L619.1,58.9L622.3,60.6L625.6,62.3L628.8,64.0L632.0,65.6L635.3,67.1L638.5,68.7L641.7,70.4L644.8,72.4L647.7,74.5L650.6,76.7M555.3,29.8L558.7,29.4L562.2,29.4L565.5,30.6L568.7,32.2L571.7,34.0L574.7,35.8L577.8,37.5L581.0,39.0L584.3,40.4L587.6,41.8L590.9,43.2L594.2,44.6L597.4,46.0L600.6,47.6L603.8,49.2L607.0,50.8L610.2,52.4L613.4,54.1L616.6,55.7L619.7,57.5L622.9,59.2L626.1,60.8L629.4,62.5L632.6,64.1L635.8,65.7L639.1,67.3L642.3,69.0L645.3,70.9L648.3,73.1L651.1,75.3M555.9,28.2L559.3,27.7L562.8,27.8L566.1,28.9L569.3,30.5L572.3,32.4L575.3,34.3L578.4,35.9L581.6,37.4L584.9,38.9L588.2,40.2L591.5,41.6L594.8,43.0L598.0,44.5L601.2,46.0L604.4,47.7L607.6,49.3L610.8,51.0L613.9,52.6L617.1,54.3L620.3,56.0L623.5,57.7L626.7,59.4L629.9,61.0L633.1,62.6L636.4,64.2L639.6,65.8L642.8,67.6L645.8,69.5L648.7,71.6L651.6,73.9M556.5,26.7L559.9,26.1L563.4,26.1L566.8,27.3L569.9,28.9L572.9,30.7L575.9,32.7L579.0,34.4L582.2,35.9L585.5,37.3L588.8,38.7L592.1,40.0L595.4,41.4L598.6,42.9L601.8,44.5L605.0,46.1L608.2,47.8L611.3,49.5L614.5,51.2L617.7,52.8L620.8,54.5L624.0,56.2L627.2,57.9L630.4,59.5L633.6,61.1L636.8,62.7L640.0,64.4L643.2,66.1L646.2,68.0L649.2,70.2L652.0,72.4M557.1,25.1L560.5,24.5L564.1,24.4L567.4,25.6L570.5,27.2L573.6,29.1L576.5,31.1L579.6,32.8L582.8,34.3L586.1,35.8L589.4,37.1L592.7,38.5L596.0,39.9L599.2,41.4L602.4,42.9L605.6,44.6L608.7,46.3L611.9,48.0L615.0,49.7L618.2,51.3L621.4,53.0L624.5,54.7L627.7,56.3L630.9,58.0L634.1,59.6L637.3,61.2L640.5,62.9L643.6,64.6L646.6,66.6L649.5,68.7L652.3,70.9M557.7,23.6L561.2,22.8L564.7,22.7L568.0,23.9L571.2,25.6L574.2,27.5L577.1,29.4L580.2,31.2L583.4,32.7L586.7,34.2L590.0,35.5L593.3,36.9L596.5,38.3L599.8,39.8L603.0,41.4L606.1,43.0L609.3,44.7L612.4,46.4L615.5,48.1L618.7,49.8L621.8,51.5L625.0,53.1L628.2,54.8L631.3,56.5L634.5,58.1L637.7,59.7L640.8,61.4L644.0,63.1L647.0,65.1L649.8,67.2L652.6,69.5M558.3,22.0L561.8,21.2L565.3,21.1L568.7,22.2L571.8,23.9L574.8,25.8L577.7,27.8L580.8,29.6L584.0,31.2L587.3,32.6L590.6,33.9L593.9,35.3L597.1,36.7L600.4,38.2L603.6,39.8L606.7,41.5L609.8,43.2L612.9,44.9L616.1,46.6L619.2,48.2L622.4,49.9L625.5,51.6L628.6,53.3L631.8,54.9L634.9,56.6L638.1,58.2L641.3,59.9L644.4,61.6L647.3,63.6L650.2,65.7L652.9,68.0" fill="none" stroke="#7f9fcd" stroke-width="0.42"/>
<path d="M524,85L524.54,85.13L525.09,85.26L525.64,85.39L526.18,85.52L526.73,85.65L527.27,85.78L527.81,85.91L528.36,86.04L528.9,86.17L529.45,86.3L529.99,86.43L530.54,86.57L531.08,86.7L531.63,86.83L532.17,86.97L532.71,87.11L533.26,87.24L533.8,87.38L534.34,87.52L534.88,87.67L535.43,87.81L535.97,87.95L536.51,88.09L537.05,88.24L537.59,88.38L538.14,88.52L538.68,88.66L539.22,88.8L539.76,88.94L540.31,89.07L540.85,89.21L541.4,89.34L541.94,89.47L542.49,89.59L543.03,89.71L543.58,89.83L544.13,89.94L544.68,90.03L545.24,90.12L545.79,90.18L546.35,90.23L546.91,90.27L547.47,90.3L548.03,90.33L548.59,90.36L549.15,90.4L549.71,90.46L550.26,90.53L550.81,90.63L551.36,90.76L551.9,90.9L552.43,91.09L552.95,91.29L553.46,91.52L553.97,91.75L554.47,92L554.97,92.26L555.46,92.53L555.95,92.8L556.44,93.08L556.92,93.35L557.41,93.63L557.9,93.9L558.4,94.16L558.89,94.42L559.4,94.66L559.91,94.9L560.42,95.12L560.94,95.34L561.45,95.56L561.97,95.77L562.49,95.98L563.01,96.18L563.54,96.38L564.06,96.58L564.59,96.77L565.11,96.96L565.64,97.15L566.17,97.33L566.7,97.51L567.24,97.69L567.77,97.86L568.31,98.02L568.84,98.18L569.38,98.33L569.92,98.47L570.47,98.6L571.01,98.73L571.56,98.86L572.11,98.99L572.65,99.11L573.2,99.24L573.74,99.37L574.29,99.5L574.83,99.64L575.37,99.79L575.91,99.93L576.45,100.07L577,100.21L577.54,100.34L578.09,100.48L578.63,100.61L579.18,100.74L579.72,100.87L580.26,101.01L580.81,101.15L581.35,101.29L581.89,101.44L582.42,101.61L582.95,101.78L583.48,101.96L584.01,102.15L584.53,102.35L585.05,102.57L585.56,102.8L586.07,103.04L586.56,103.3L587.06,103.57L587.53,103.86L588.01,104.16L588.48,104.45L588.95,104.77L589.41,105.08L589.87,105.4L590.33,105.73L590.79,106.05L591.24,106.37L591.7,106.69L592.16,107.02L592.62,107.34L593.08,107.65L593.55,107.96L594.02,108.27L594.5,108.56L594.98,108.85L595.46,109.13L595.96,109.39L596.46,109.63L596.96,109.88L597.48,110.09L598,110.3L598.53,110.5L599.06,110.68L599.59,110.86L600.12,111.04L600.66,111.2L601.19,111.35L601.73,111.51L602.28,111.65L602.82,111.78L603.36,111.92L603.91,112.04L604.46,112.16L605.01,112.28L605.56,112.38L606.11,112.48L606.66,112.58L607.21,112.67L607.77,112.75L608.32,112.83L608.88,112.9L609.44,112.92L610,112.92L610.55,112.85L611.1,112.73L611.64,112.58L612.16,112.38L612.68,112.17L613.21,111.99L613.75,111.87L614.31,111.83L614.87,111.9L615.4,112.06L615.92,112.27L616.43,112.5L616.91,112.78L617.39,113.08L617.86,113.39L618.31,113.72L618.76,114.06L619.19,114.41L619.62,114.77L620.04,115.14L620.46,115.51L620.88,115.88L621.28,116.28L621.68,116.67L622.05,117.09L622.43,117.51L622.79,117.93L623.15,118.36L623.5,118.8L623.84,119.24L624.19,119.68L624.53,120.13L624.87,120.57L625.21,121.02L625.55,121.46L625.9,121.9L625.98,121.58L626.05,121.26L626.13,120.93L626.21,120.61L626.28,120.29L626.36,119.96L626.43,119.64L626.5,119.32L626.58,118.99L626.65,118.67L626.73,118.35L626.8,118.03L626.88,117.7L626.95,117.38L627.02,117.06L627.1,116.73L627.17,116.41L627.25,116.09L627.32,115.76L627.4,115.44L627.47,115.12L627.55,114.8L627.62,114.47L627.7,114.15L627.77,113.83L627.85,113.51L627.93,113.18L628.01,112.86L628.08,112.54L628.16,112.22L628.24,111.89L628.32,111.57L628.4,111.25L628.48,110.93L628.56,110.61L628.64,110.29L628.72,109.96L628.81,109.64L628.89,109.32L628.98,109L629.06,108.68L629.15,108.36L629.24,108.04L629.33,107.72L629.42,107.41L629.52,107.09L629.62,106.77L629.72,106.46L629.82,106.14L629.93,105.83L630.05,105.52L630.17,105.21L630.29,104.9L630.44,104.61L630.58,104.31L630.75,104.02L630.93,103.74L631.16,103.51L631.43,103.32L631.74,103.2L632.06,103.11L632.38,103.04L632.7,102.96L633.02,102.88L633.35,102.81L633.67,102.77L634.01,102.77L634.34,102.77L634.67,102.79L635,102.81L635.33,102.85L635.66,102.88L635.99,102.92L636.32,102.95L636.65,102.99L636.98,103.01L637.31,103.03L637.64,103.04L637.97,103.03L638.3,103.01L638.63,102.95L638.95,102.88L639.27,102.79L639.59,102.69L639.9,102.59L640.21,102.47L640.52,102.35L640.82,102.2L641.11,102.05L641.38,101.86L641.65,101.66L641.88,101.42L642.11,101.18L642.3,100.92L642.5,100.65L642.66,100.36L642.81,100.06L642.95,99.76L643.06,99.45L643.17,99.14L643.26,98.82L643.33,98.5L643.4,98.17L643.47,97.85L643.52,97.52L643.57,97.19L643.62,96.86L643.66,96.54L643.7,96.21L643.74,95.88L643.78,95.55L643.82,95.22L643.86,94.89L643.9,94.56L643.95,94.23L644,93.91L644.05,93.58L644.1,93.25L644.15,92.92L644.22,92.6L644.28,92.27L644.35,91.95L644.42,91.63L644.5,91.3L644.59,90.98L644.68,90.67L644.77,90.35L644.86,90.03L644.97,89.71L645.08,89.4L645.2,89.09L645.31,88.78L645.43,88.47L645.55,88.16L645.67,87.86L645.8,87.55L645.93,87.24L646.06,86.94L646.18,86.63L646.32,86.33L646.45,86.02L646.59,85.72L646.72,85.42L646.85,85.12L646.99,84.81L647.13,84.51L647.26,84.21L647.4,83.91L647.54,83.61L647.68,83.31L647.82,83L647.96,82.7L648.1,82.4L648.23,82.1L648.37,81.8L648.51,81.5L648.65,81.2L648.79,80.9L648.93,80.6L649.07,80.3L649.2,79.99L649.34,79.69L649.48,79.39L649.62,79.09L649.75,78.78L649.88,78.48L650.01,78.18L650.14,77.87L650.28,77.57L650.4,77.26L650.52,76.95L650.64,76.65L650.77,76.34L650.89,76.03L651,75.72L651.1,75.4L651.21,75.09L651.32,74.77L651.42,74.46L651.51,74.14L651.6,73.82L651.7,73.5L651.78,73.18L651.87,72.86L651.95,72.54L652.03,72.22L652.1,71.9L652.18,71.57L652.25,71.25L652.32,70.93L652.38,70.6L652.45,70.28L652.51,69.95L652.57,69.62L652.63,69.3L652.7,68.97L652.76,68.65L652.83,68.32L652.9,68L652.48,67.66L652.07,67.32L651.66,66.98L651.25,66.63L650.84,66.28L650.42,65.94L650.01,65.6L649.59,65.26L649.17,64.93L648.75,64.6L648.32,64.28L647.89,63.95L647.46,63.64L647.02,63.33L646.58,63.02L646.13,62.73L645.68,62.44L645.23,62.15L644.77,61.86L644.31,61.59L643.85,61.32L643.38,61.05L642.91,60.79L642.44,60.53L641.98,60.27L641.5,60.01L641.03,59.76L640.56,59.5L640.09,59.25L639.61,59L639.14,58.75L638.66,58.5L638.18,58.25L637.71,58L637.23,57.76L636.75,57.51L636.28,57.26L635.8,57.02L635.32,56.77L634.85,56.53L634.37,56.28L633.89,56.03L633.42,55.79L632.94,55.54L632.46,55.29L631.99,55.05L631.51,54.8L631.04,54.55L630.56,54.3L630.09,54.05L629.61,53.79L629.14,53.54L628.67,53.29L628.19,53.04L627.72,52.78L627.25,52.53L626.77,52.28L626.3,52.03L625.83,51.77L625.35,51.52L624.88,51.27L624.4,51.02L623.93,50.76L623.46,50.51L622.98,50.26L622.51,50.01L622.04,49.75L621.56,49.5L621.09,49.25L620.62,49L620.14,48.74L619.67,48.49L619.2,48.24L618.72,47.99L618.25,47.73L617.77,47.48L617.3,47.23L616.83,46.97L616.35,46.72L615.88,46.47L615.41,46.22L614.93,45.96L614.46,45.71L613.99,45.45L613.52,45.2L613.04,44.94L612.57,44.69L612.1,44.43L611.63,44.17L611.16,43.91L610.69,43.65L610.22,43.4L609.75,43.14L609.28,42.88L608.81,42.62L608.34,42.36L607.87,42.1L607.4,41.85L606.93,41.59L606.46,41.33L605.98,41.08L605.51,40.82L605.04,40.57L604.56,40.32L604.09,40.07L603.61,39.82L603.14,39.57L602.66,39.33L602.18,39.08L601.7,38.84L601.22,38.6L600.74,38.36L600.26,38.13L599.78,37.9L599.29,37.67L598.8,37.44L598.32,37.22L597.83,37L597.33,36.78L596.84,36.57L596.35,36.35L595.86,36.14L595.37,35.93L594.87,35.72L594.38,35.51L593.88,35.3L593.39,35.1L592.89,34.89L592.39,34.69L591.9,34.48L591.4,34.28L590.9,34.08L590.41,33.87L589.91,33.67L589.41,33.47L588.92,33.26L588.42,33.06L587.92,32.86L587.43,32.65L586.93,32.44L586.44,32.23L585.95,32.02L585.46,31.8L584.97,31.58L584.48,31.36L583.99,31.14L583.5,30.91L583.02,30.68L582.53,30.45L582.05,30.21L581.57,29.97L581.09,29.73L580.62,29.48L580.15,29.23L579.68,28.97L579.21,28.7L578.74,28.43L578.28,28.16L577.82,27.89L577.36,27.61L576.91,27.31L576.47,27.01L576.03,26.7L575.59,26.39L575.16,26.08L574.72,25.76L574.29,25.45L573.85,25.15L573.4,24.85L572.95,24.56L572.49,24.28L572.02,24.01L571.55,23.76L571.08,23.5L570.61,23.25L570.13,22.99L569.66,22.74L569.18,22.5L568.7,22.26L568.21,22.04L567.72,21.82L567.22,21.63L566.72,21.44L566.21,21.28L565.69,21.14L565.16,21.03L564.63,20.98L564.09,20.94L563.56,20.97L563.02,21.01L562.49,21.08L561.96,21.17L561.44,21.27L560.91,21.38L560.39,21.5L559.87,21.63L559.35,21.76L558.83,21.89L558.3,22L558.17,22.35L558.04,22.69L557.9,23.04L557.77,23.38L557.64,23.73L557.51,24.07L557.38,24.42L557.24,24.76L557.11,25.11L556.98,25.45L556.85,25.8L556.71,26.14L556.58,26.49L556.45,26.83L556.32,27.18L556.18,27.52L556.05,27.87L555.92,28.21L555.79,28.56L555.66,28.9L555.54,29.25L555.41,29.6L555.29,29.95L555.16,30.3L555.04,30.64L554.91,30.99L554.79,31.34L554.67,31.69L554.54,32.04L554.42,32.39L554.3,32.73L554.17,33.08L554.05,33.43L553.92,33.78L553.8,34.12L553.67,34.47L553.54,34.82L553.42,35.17L553.29,35.51L553.16,35.86L553.03,36.2L552.9,36.55L552.76,36.89L552.63,37.24L552.49,37.58L552.36,37.93L552.22,38.27L552.07,38.61L551.93,38.95L551.79,39.29L551.64,39.63L551.48,39.96L551.33,40.3L551.17,40.63L551.01,40.97L550.85,41.3L550.68,41.62L550.5,41.95L550.33,42.28L550.16,42.6L549.98,42.93L549.79,43.25L549.61,43.57L549.43,43.89L549.23,44.21L549.04,44.52L548.85,44.84L548.65,45.15L548.45,45.46L548.25,45.77L548.05,46.08L547.84,46.38L547.63,46.69L547.42,46.99L547.2,47.29L546.98,47.59L546.76,47.88L546.54,48.18L546.31,48.46L546.07,48.75L545.84,49.04L545.6,49.32L545.36,49.6L545.11,49.87L544.86,50.14L544.59,50.4L544.32,50.65L544.04,50.89L543.75,51.12L543.46,51.34L543.14,51.54L542.83,51.74L542.51,51.93L542.19,52.11L541.87,52.29L541.54,52.46L541.21,52.63L540.89,52.8L540.56,52.98L540.24,53.16L539.92,53.35L539.61,53.55L539.32,53.77L539.02,53.99L538.73,54.22L538.44,54.45L538.16,54.69L537.87,54.92L537.59,55.16L537.3,55.39L537.02,55.63L536.75,55.88L536.47,56.13L536.21,56.38L535.94,56.64L535.68,56.91L535.43,57.18L535.19,57.45L534.95,57.74L534.72,58.03L534.49,58.32L534.28,58.62L534.06,58.92L533.86,59.23L533.66,59.54L533.46,59.85L533.27,60.17L533.09,60.49L532.91,60.81L532.73,61.13L532.56,61.46L532.39,61.79L532.22,62.12L532.05,62.45L531.89,62.78L531.72,63.11L531.57,63.44L531.41,63.78L531.25,64.11L531.09,64.45L530.94,64.78L530.79,65.12L530.63,65.46L530.48,65.79L530.33,66.13L530.18,66.47L530.03,66.81L529.88,67.14L529.73,67.48L529.58,67.82L529.43,68.16L529.28,68.5L529.13,68.83L528.99,69.17L528.84,69.51L528.7,69.85L528.55,70.19L528.41,70.53L528.27,70.88L528.13,71.22L527.99,71.56L527.86,71.9L527.72,72.25L527.58,72.59L527.45,72.94L527.32,73.28L527.19,73.63L527.06,73.97L526.93,74.32L526.8,74.67L526.68,75.01L526.56,75.36L526.43,75.71L526.31,76.06L526.2,76.41L526.08,76.76L525.97,77.11L525.86,77.47L525.75,77.82L525.64,78.17L525.55,78.53L525.45,78.89L525.35,79.24L525.26,79.6L525.17,79.96L525.08,80.32L524.99,80.68L524.91,81.04L524.82,81.4L524.74,81.76L524.65,82.12L524.57,82.48L524.49,82.84L524.41,83.2L524.33,83.56L524.25,83.92L524.17,84.28L524.08,84.64L524,85Z" fill="none" stroke="#9ab9e0" stroke-width="0.4"/>
<text x="508.4" y="69.3" font-size="6.9" font-family="'Liberation Serif','Times New Roman',serif" fill="#333" text-anchor="end">2500</text>
<text x="508.4" y="93" font-size="6.9" font-family="'Liberation Serif','Times New Roman',serif" fill="#333" text-anchor="end">2000</text>
<text x="508.4" y="117.4" font-size="6.9" font-family="'Liberation Serif','Times New Roman',serif" fill="#333" text-anchor="end">1500</text>
<text transform="translate(491,88.7) rotate(-90)" font-size="7" font-family="'Liberation Serif','Times New Roman',serif" fill="#222" text-anchor="middle"><tspan font-style="italic">W</tspan> / (μm)</text>
<text x="515" y="133.7" font-size="6.9" font-family="'Liberation Serif','Times New Roman',serif" fill="#333" text-anchor="middle">1600</text>
<text x="559.4" y="141.6" font-size="6.9" font-family="'Liberation Serif','Times New Roman',serif" fill="#333" text-anchor="middle">1200</text>
<text x="604" y="149" font-size="6.9" font-family="'Liberation Serif','Times New Roman',serif" fill="#333" text-anchor="middle">800</text>
<text x="556.9" y="150.2" font-size="6.9" font-family="'Liberation Serif','Times New Roman',serif" fill="#222" text-anchor="middle"><tspan font-style="italic">P</tspan> / (W)</text>
<text x="633.9" y="138" font-size="6.9" font-family="'Liberation Serif','Times New Roman',serif" fill="#333" text-anchor="middle">3</text>
<text x="648.5" y="125.7" font-size="6.9" font-family="'Liberation Serif','Times New Roman',serif" fill="#333" text-anchor="middle">6</text>
<text x="661.8" y="111.1" font-size="6.9" font-family="'Liberation Serif','Times New Roman',serif" fill="#333" text-anchor="middle">9</text>
<text transform="translate(658.5,128.5) rotate(-45)" font-size="7" font-family="'Liberation Serif','Times New Roman',serif" fill="#222" text-anchor="middle"><tspan font-style="italic">I</tspan> / (mg·mm<tspan font-size="4.5" dy="-2.3">−2</tspan><tspan dy="2.3">)</tspan></text>
<line x1="520" y1="205" x2="561.6" y2="166" stroke="#e6e6e6" stroke-width="0.7"/>
<line x1="561.6" y1="166" x2="659" y2="181" stroke="#e6e6e6" stroke-width="0.7"/>
<line x1="659" y1="181" x2="659" y2="245" stroke="#e6e6e6" stroke-width="0.7"/>
<line x1="520" y1="205" x2="520" y2="269" stroke="#e6e6e6" stroke-width="0.7"/>
<line x1="520" y1="269" x2="618" y2="287" stroke="#e6e6e6" stroke-width="0.7"/>
<line x1="618" y1="287" x2="660" y2="245" stroke="#e6e6e6" stroke-width="0.7"/>
<path d="M528.9,262.3L529.35,262.24L529.8,262.16L530.25,262.09L530.71,262.02L531.16,261.95L531.61,261.88L532.06,261.81L532.51,261.75L532.97,261.69L533.42,261.64L533.87,261.6L534.33,261.57L534.79,261.53L535.24,261.52L535.7,261.51L536.16,261.5L536.61,261.51L537.07,261.52L537.53,261.54L537.98,261.57L538.44,261.59L538.89,261.62L539.35,261.65L539.8,261.69L540.26,261.73L540.72,261.76L541.17,261.81L541.62,261.85L542.08,261.89L542.53,261.94L542.99,261.98L543.44,262.03L543.9,262.08L544.35,262.13L544.81,262.18L545.26,262.23L545.71,262.28L546.17,262.33L546.62,262.38L547.08,262.43L547.53,262.48L547.98,262.53L548.44,262.59L548.89,262.64L549.34,262.7L549.8,262.75L550.25,262.81L550.7,262.88L551.15,262.95L551.6,263.02L552.05,263.1L552.5,263.19L552.95,263.28L553.4,263.38L553.84,263.49L554.28,263.6L554.72,263.73L555.16,263.86L555.59,264L556.03,264.15L556.46,264.3L556.88,264.47L557.3,264.64L557.72,264.82L558.14,265.02L558.55,265.21L558.96,265.41L559.37,265.62L559.77,265.83L560.17,266.06L560.56,266.29L560.95,266.53L561.33,266.79L561.7,267.05L562.07,267.32L562.44,267.59L562.81,267.86L563.18,268.13L563.55,268.4L563.92,268.66L564.29,268.93L564.67,269.18L565.06,269.42L565.45,269.65L565.85,269.87L566.26,270.08L566.67,270.28L567.08,270.48L567.5,270.67L567.91,270.86L568.33,271.03L568.76,271.2L569.19,271.35L569.63,271.49L570.07,271.61L570.51,271.7L570.96,271.79L571.42,271.85L571.87,271.9L572.33,271.91L572.78,271.92L573.24,271.89L573.69,271.86L574.15,271.81L574.6,271.76L575.05,271.69L575.51,271.62L575.96,271.55L576.41,271.47L576.86,271.39L577.31,271.31L577.75,271.22L578.2,271.15L578.65,271.07L579.11,271L579.56,270.93L580.01,270.87L580.46,270.82L580.92,270.76L581.37,270.71L581.83,270.65L582.28,270.6L582.73,270.55L583.19,270.49L583.64,270.44L584.09,270.38L584.55,270.33L585,270.28L585.45,270.22L585.91,270.16L586.36,270.1L586.81,270.04L587.26,269.98L587.72,269.91L588.17,269.83L588.62,269.75L589.06,269.64L589.5,269.53L589.94,269.41L590.38,269.28L590.82,269.17L591.27,269.07L591.72,268.99L592.17,268.94L592.63,268.91L593.09,268.9L593.54,268.93L594,268.96L594.45,269.01L594.9,269.07L595.36,269.15L595.81,269.22L596.26,269.3L596.71,269.38L597.16,269.46L597.61,269.54L598.06,269.61L598.51,269.68L598.96,269.75L599.41,269.8L599.87,269.84L600.32,269.87L600.78,269.89L601.24,269.89L601.69,269.88L602.15,269.87L602.61,269.84L603.06,269.81L603.52,269.76L603.97,269.72L604.42,269.66L604.88,269.6L605.33,269.54L605.78,269.47L606.23,269.4L606.68,269.32L607.13,269.24L607.58,269.16L608.03,269.08L608.48,269L608.93,268.91L609.38,268.82L609.82,268.73L610.27,268.63L610.72,268.53L611.16,268.42L611.6,268.31L612.05,268.2L612.49,268.09L612.93,267.97L613.37,267.86L613.81,267.74L614.26,267.62L614.7,267.5L615.14,267.38L615.58,267.26L616.02,267.14L616.46,267.02L616.9,266.9L617.14,266.71L617.37,266.52L617.61,266.33L617.85,266.15L618.08,265.96L618.32,265.77L618.56,265.59L618.8,265.4L619.03,265.21L619.27,265.03L619.51,264.84L619.74,264.65L619.98,264.46L620.21,264.27L620.45,264.08L620.68,263.88L620.91,263.69L621.14,263.5L621.37,263.3L621.6,263.1L621.82,262.9L622.05,262.7L622.27,262.5L622.49,262.29L622.71,262.08L622.93,261.87L623.14,261.65L623.35,261.44L623.56,261.22L623.76,261L623.97,260.77L624.17,260.55L624.37,260.32L624.57,260.09L624.77,259.87L624.96,259.64L625.16,259.4L625.35,259.17L625.54,258.94L625.73,258.7L625.92,258.47L626.11,258.23L626.3,258L626.48,257.76L626.67,257.52L626.85,257.28L627.04,257.04L627.22,256.8L627.4,256.56L627.59,256.32L627.77,256.08L627.95,255.83L628.13,255.59L628.31,255.35L628.49,255.11L628.67,254.87L628.85,254.62L629.03,254.38L629.21,254.14L629.39,253.89L629.56,253.65L629.74,253.4L629.91,253.15L630.08,252.9L630.25,252.65L630.42,252.4L630.59,252.15L630.75,251.9L630.91,251.64L631.07,251.38L631.23,251.12L631.38,250.86L631.53,250.6L631.67,250.33L631.81,250.07L631.95,249.8L632.07,249.52L632.2,249.25L632.31,248.97L632.41,248.68L632.52,248.4L632.61,248.11L632.7,247.82L632.79,247.53L632.87,247.24L632.95,246.95L633.03,246.66L633.11,246.37L633.19,246.08L633.27,245.79L633.35,245.49L633.44,245.21L633.53,244.92L633.62,244.63L633.73,244.35L633.84,244.07L633.95,243.78L634.07,243.51L634.19,243.23L634.31,242.95L634.43,242.68L634.55,242.4L634.68,242.13L634.81,241.85L634.94,241.58L635.07,241.31L635.21,241.04L635.34,240.77L635.48,240.5L635.61,240.23L635.75,239.96L635.9,239.69L636.04,239.43L636.18,239.16L636.33,238.9L636.48,238.63L636.63,238.37L636.78,238.11L636.93,237.85L637.08,237.59L637.24,237.33L637.39,237.07L637.55,236.81L637.7,236.55L637.86,236.29L638.02,236.04L638.18,235.78L638.34,235.52L638.51,235.27L638.67,235.02L638.84,234.77L639.01,234.51L639.18,234.26L639.35,234.02L639.53,233.77L639.7,233.53L639.88,233.28L640.07,233.04L640.25,232.8L640.44,232.57L640.63,232.33L640.82,232.1L641.02,231.87L641.22,231.64L641.42,231.42L641.62,231.2L641.84,230.98L642.05,230.77L642.26,230.55L642.48,230.34L642.7,230.13L642.92,229.93L643.14,229.72L643.36,229.51L643.58,229.31L643.8,229.1L644.02,228.9L644.24,228.69L644.47,228.49L644.69,228.28L644.9,228.07L645.12,227.86L645.34,227.65L645.55,227.44L645.77,227.22L645.98,227.01L646.19,226.79L646.39,226.57L646.59,226.34L646.8,226.12L646.99,225.89L647.18,225.65L647.37,225.42L647.56,225.18L647.74,224.94L647.93,224.7L648.11,224.46L648.29,224.22L648.47,223.97L648.64,223.73L648.82,223.48L649,223.24L649.17,222.99L649.34,222.74L649.52,222.5L649.69,222.25L649.86,222L650.03,221.75L650.2,221.5L650.37,221.25L650.54,221L650.71,220.75L650.88,220.5L651.05,220.25L651.22,220L651.39,219.75L651.56,219.5L651.73,219.25L651.9,219L651.42,218.84L650.95,218.68L650.47,218.51L650,218.35L649.52,218.19L649.04,218.03L648.57,217.87L648.09,217.71L647.62,217.54L647.14,217.38L646.66,217.22L646.19,217.06L645.71,216.9L645.24,216.73L644.76,216.57L644.28,216.41L643.81,216.25L643.33,216.09L642.86,215.92L642.38,215.76L641.91,215.6L641.43,215.44L640.95,215.28L640.48,215.11L640,214.95L639.53,214.79L639.05,214.63L638.58,214.46L638.1,214.3L637.62,214.14L637.15,213.97L636.67,213.81L636.2,213.65L635.72,213.48L635.25,213.32L634.77,213.16L634.29,213L633.82,212.84L633.34,212.69L632.86,212.53L632.38,212.38L631.9,212.24L631.42,212.09L630.94,211.94L630.46,211.8L629.97,211.66L629.49,211.51L629.01,211.37L628.53,211.23L628.05,211.08L627.57,210.94L627.08,210.79L626.6,210.65L626.13,210.49L625.65,210.34L625.17,210.18L624.69,210.03L624.22,209.86L623.74,209.69L623.27,209.52L622.8,209.35L622.33,209.18L621.86,208.99L621.39,208.8L620.93,208.61L620.46,208.42L620.01,208.21L619.55,207.99L619.1,207.78L618.64,207.56L618.19,207.34L617.75,207.1L617.31,206.86L616.87,206.61L616.43,206.37L615.99,206.12L615.57,205.86L615.14,205.59L614.71,205.33L614.28,205.07L613.85,204.8L613.43,204.53L613.01,204.25L612.6,203.97L612.18,203.69L611.76,203.42L611.34,203.14L610.93,202.85L610.51,202.57L610.1,202.28L609.68,202L609.27,201.71L608.86,201.42L608.45,201.13L608.04,200.84L607.63,200.55L607.22,200.26L606.81,199.97L606.4,199.68L605.98,199.39L605.57,199.1L605.16,198.81L604.75,198.52L604.34,198.23L603.93,197.95L603.51,197.66L603.1,197.38L602.68,197.09L602.26,196.82L601.84,196.55L601.42,196.27L601,196L600.57,195.74L600.13,195.48L599.7,195.23L599.26,194.98L598.82,194.74L598.38,194.5L597.93,194.27L597.48,194.06L597.02,193.85L596.56,193.65L596.1,193.45L595.63,193.26L595.17,193.06L594.71,192.85L594.26,192.63L593.81,192.4L593.37,192.17L592.92,191.94L592.47,191.71L592.03,191.48L591.58,191.25L591.14,191.01L590.69,190.78L590.25,190.55L589.8,190.31L589.36,190.08L588.91,189.85L588.47,189.61L588.02,189.38L587.58,189.14L587.13,188.9L586.69,188.67L586.25,188.43L585.8,188.2L585.35,187.97L584.89,187.76L584.43,187.56L583.97,187.37L583.51,187.17L583.05,186.96L582.62,186.71L582.2,186.43L581.82,186.1L581.46,185.75L581.14,185.36L580.85,184.95L580.57,184.53L580.33,184.1L580.08,183.66L579.85,183.21L579.63,182.76L579.41,182.31L579.19,181.86L578.96,181.41L578.73,180.96L578.49,180.52L578.25,180.08L577.99,179.65L577.74,179.21L577.49,178.77L577.25,178.33L577,177.9L576.75,177.46L576.49,177.03L576.22,176.6L575.94,176.19L575.63,175.79L575.31,175.41L574.95,175.05L574.57,174.73L574.16,174.43L573.74,174.16L573.3,173.92L572.85,173.69L572.4,173.47L571.94,173.27L571.47,173.08L571,172.9L570.53,172.73L570.06,172.56L569.58,172.4L569.1,172.27L568.6,172.18L568.1,172.11L567.6,172.07L567.1,172.04L566.6,172L566.12,172.14L565.63,172.27L565.15,172.4L564.67,172.55L564.19,172.73L563.74,172.94L563.32,173.21L562.95,173.56L562.65,173.95L562.4,174.39L562.2,174.85L562.02,175.32L561.86,175.8L561.7,176.28L561.55,176.76L561.4,177.24L561.26,177.72L561.13,178.21L561,178.69L560.87,179.18L560.75,179.67L560.63,180.16L560.51,180.65L560.4,181.14L560.28,181.63L560.17,182.12L560.06,182.61L559.95,183.1L559.84,183.59L559.73,184.08L559.63,184.57L559.54,185.07L559.44,185.56L559.35,186.06L559.26,186.55L559.17,187.05L559.08,187.54L558.98,188.03L558.88,188.53L558.78,189.02L558.68,189.51L558.57,190L558.46,190.5L558.35,190.98L558.23,191.47L558.11,191.96L557.99,192.45L557.87,192.94L557.75,193.43L557.64,193.92L557.52,194.41L557.4,194.9L557.28,195.39L557.17,195.87L557.04,196.36L556.92,196.85L556.8,197.34L556.67,197.82L556.53,198.31L556.4,198.8L556.27,199.28L556.12,199.76L555.98,200.24L555.83,200.72L555.66,201.2L555.5,201.68L555.33,202.15L555.14,202.61L554.95,203.08L554.73,203.53L554.5,203.98L554.26,204.42L553.99,204.85L553.72,205.27L553.41,205.67L553.1,206.07L552.78,206.45L552.45,206.83L552.12,207.21L551.78,207.59L551.45,207.96L551.13,208.35L550.82,208.74L550.51,209.14L550.22,209.55L549.93,209.96L549.65,210.38L549.38,210.8L549.1,211.22L548.83,211.65L548.56,212.07L548.28,212.49L548.01,212.92L547.75,213.34L547.48,213.77L547.21,214.2L546.95,214.62L546.68,215.05L546.42,215.48L546.16,215.91L545.91,216.35L545.66,216.78L545.4,217.22L545.16,217.66L544.91,218.1L544.67,218.54L544.43,218.98L544.2,219.43L543.97,219.87L543.74,220.32L543.53,220.78L543.31,221.23L543.1,221.69L542.9,222.15L542.69,222.61L542.5,223.07L542.3,223.54L542.11,224L541.93,224.47L541.74,224.94L541.56,225.41L541.38,225.88L541.21,226.35L541.03,226.82L540.86,227.29L540.69,227.77L540.52,228.24L540.35,228.71L540.19,229.19L540.02,229.66L539.85,230.14L539.69,230.61L539.53,231.09L539.37,231.57L539.22,232.05L539.07,232.53L538.92,233.01L538.77,233.49L538.63,233.97L538.48,234.45L538.34,234.94L538.2,235.42L538.06,235.9L537.92,236.39L537.78,236.87L537.65,237.35L537.51,237.84L537.37,238.32L537.23,238.8L537.08,239.29L536.94,239.77L536.8,240.25L536.65,240.73L536.51,241.21L536.37,241.7L536.23,242.18L536.09,242.66L535.95,243.15L535.81,243.63L535.67,244.11L535.53,244.6L535.39,245.08L535.25,245.56L535.11,246.05L534.96,246.53L534.82,247.01L534.67,247.49L534.52,247.97L534.37,248.45L534.22,248.93L534.06,249.41L533.9,249.89L533.74,250.36L533.58,250.84L533.42,251.32L533.25,251.79L533.09,252.27L532.92,252.74L532.75,253.21L532.59,253.69L532.42,254.16L532.25,254.64L532.08,255.11L531.9,255.58L531.73,256.05L531.56,256.53L531.38,257L531.21,257.47L531.03,257.94L530.86,258.41L530.68,258.88L530.5,259.35L530.32,259.82L530.14,260.29L529.95,260.76L529.76,261.23L529.55,261.68L529.31,262.12L528.9,262.3Z" fill="#f1f4f9"/>
<path d="M528.9,262.3L530.4,259.5L531.6,256.4L532.7,253.3L533.8,250.1L534.8,246.9L535.8,243.7L536.7,240.5L537.7,237.3L538.6,234.1L539.6,230.9L540.7,227.8L541.9,224.7L543.1,221.6L544.6,218.6L546.3,215.7L548.1,212.9L549.9,210.1L551.9,207.4L554.0,204.8L555.4,201.8L556.4,198.6L557.3,195.4L558.1,192.2L558.8,188.9L559.4,185.6L560.1,182.4L560.9,179.1L561.8,175.9L563.5,173.1L566.6,172.0M530.9,262.0L532.5,259.2L533.6,256.2L534.8,253.1L535.9,250.0L536.9,246.8L537.9,243.6L538.8,240.5L539.8,237.3L540.7,234.1L541.7,231.0L542.8,227.9L544.0,224.8L545.3,221.7L546.8,218.7L548.4,215.9L550.2,213.0L552.0,210.2L554.0,207.6L556.1,205.0L557.5,202.0L558.6,198.9L559.4,195.6L560.2,192.4L561.0,189.2L561.7,185.9L562.4,182.7L563.2,179.4L564.1,176.2L565.8,173.4L568.9,172.2M533.0,261.7L534.5,259.0L535.7,256.0L536.8,252.9L537.9,249.9L539.0,246.8L539.9,243.6L540.9,240.5L541.9,237.4L542.8,234.3L543.9,231.2L545.0,228.1L546.2,225.0L547.4,222.0L548.9,219.0L550.6,216.2L552.3,213.4L554.1,210.6L556.1,208.0L558.1,205.4L559.6,202.5L560.6,199.3L561.5,196.2L562.3,193.0L563.1,189.8L563.8,186.5L564.5,183.3L565.4,180.1L566.3,176.9L568.0,174.1L571.0,172.9M535.0,261.5L536.6,258.9L537.7,255.9L538.9,252.9L540.0,249.9L541.0,246.8L542.0,243.7L543.0,240.7L544.0,237.6L544.9,234.5L546.0,231.4L547.1,228.4L548.3,225.4L549.6,222.4L551.0,219.5L552.7,216.7L554.4,213.9L556.1,211.1L558.1,208.6L560.1,206.0L561.6,203.1L562.6,200.0L563.5,196.8L564.4,193.7L565.2,190.5L565.9,187.3L566.7,184.2L567.5,181.0L568.5,177.9L570.1,175.1L573.1,173.8M537.1,261.5L538.6,258.9L539.8,256.0L541.0,253.0L542.1,250.0L543.1,247.0L544.1,244.0L545.1,241.0L546.1,238.0L547.0,234.9L548.1,231.9L549.2,228.9L550.3,225.9L551.6,223.0L553.1,220.1L554.7,217.3L556.4,214.6L558.1,211.9L560.1,209.3L562.0,206.8L563.5,203.9L564.5,200.9L565.4,197.8L566.3,194.7L567.1,191.6L567.8,188.4L568.6,185.3L569.5,182.2L570.5,179.1L572.1,176.4L575.0,175.1M539.2,261.6L540.7,259.1L541.8,256.2L543.0,253.2L544.1,250.2L545.1,247.3L546.1,244.3L547.1,241.4L548.1,238.5L549.0,235.5L550.0,232.6L551.1,229.6L552.3,226.7L553.5,223.8L554.9,221.0L556.5,218.2L558.1,215.5L559.8,212.9L561.8,210.4L563.7,207.9L565.1,205.1L566.1,202.1L567.0,199.1L567.9,196.0L568.7,193.0L569.4,189.9L570.2,186.9L571.0,183.8L572.0,180.8L573.6,178.1L576.4,176.9M541.2,261.8L542.7,259.3L543.9,256.4L545.0,253.4L546.1,250.4L547.1,247.5L548.1,244.7L549.1,241.9L550.0,239.1L551.0,236.2L552.0,233.3L553.0,230.4L554.2,227.5L555.4,224.7L556.7,221.9L558.2,219.2L559.8,216.6L561.5,214.0L563.3,211.5L565.2,209.1L566.5,206.3L567.5,203.4L568.4,200.5L569.2,197.5L570.1,194.6L570.8,191.6L571.5,188.6L572.3,185.6L573.3,182.7L574.8,180.1L577.5,178.8M543.3,262.0L544.7,259.5L545.9,256.6L547.0,253.7L548.1,250.6L549.1,247.6L550.1,244.9L551.0,242.3L552.0,239.6L552.9,236.8L553.9,234.0L554.9,231.2L556.0,228.4L557.2,225.6L558.5,222.9L560.0,220.2L561.5,217.7L563.1,215.1L564.9,212.7L566.7,210.3L568.0,207.6L569.0,204.8L569.8,201.9L570.6,199.0L571.4,196.2L572.1,193.3L572.8,190.4L573.6,187.5L574.5,184.6L576.0,182.0L578.7,180.8M545.3,262.2L546.8,259.7L547.9,256.9L549.1,253.9L550.1,250.7L551.1,247.8L552.1,245.2L553.0,242.8L553.9,240.2L554.8,237.5L555.8,234.7L556.8,231.9L557.9,229.2L559.0,226.5L560.2,223.9L561.6,221.3L563.1,218.8L564.7,216.3L566.4,213.9L568.1,211.6L569.4,208.9L570.3,206.2L571.1,203.4L571.9,200.6L572.7,197.8L573.4,195.0L574.1,192.1L574.8,189.3L575.7,186.5L577.1,184.1L579.7,182.8M547.4,262.5L548.8,260.0L550.0,257.2L551.1,254.2L552.2,251.0L553.1,248.1L554.1,245.6L555.0,243.3L555.9,240.8L556.8,238.1L557.7,235.3L558.7,232.6L559.7,229.9L560.8,227.4L562.0,224.8L563.3,222.3L564.8,219.8L566.3,217.4L567.9,215.1L569.6,212.8L570.8,210.2L571.7,207.5L572.5,204.8L573.3,202.1L574.0,199.4L574.7,196.6L575.4,193.9L576.1,191.2L577.0,188.5L578.3,186.0L580.8,184.8M549.4,262.7L550.9,260.3L552.0,257.5L553.1,254.6L554.2,251.5L555.2,248.6L556.1,246.2L557.0,243.9L557.9,241.3L558.8,238.5L559.7,235.6L560.7,233.0L561.7,230.5L562.7,228.1L563.9,225.7L565.2,223.2L566.6,220.8L568.0,218.4L569.7,216.1L571.3,213.8L572.5,211.3L573.4,208.7L574.2,206.0L575.0,203.4L575.7,200.7L576.4,198.1L577.0,195.4L577.8,192.7L578.6,190.1L579.9,187.7L582.3,186.5M551.5,263.0L552.9,260.6L554.1,257.9L555.2,255.1L556.3,252.1L557.2,249.3L558.2,246.8L559.1,244.4L560.0,241.8L560.9,238.8L561.8,235.7L562.8,233.1L563.8,230.8L564.8,228.6L566.0,226.3L567.3,223.8L568.6,221.4L570.1,219.0L571.7,216.8L573.3,214.6L574.4,212.1L575.4,209.5L576.2,206.8L576.9,204.2L577.7,201.6L578.4,199.0L579.1,196.3L579.8,193.7L580.7,191.1L582.0,188.7L584.3,187.5M553.5,263.4L554.9,261.0L556.1,258.4L557.2,255.7L558.3,252.9L559.3,250.2L560.2,247.6L561.2,245.1L562.1,242.3L563.0,239.1L563.9,235.9L564.9,233.1L565.9,231.1L566.9,229.1L568.1,226.9L569.3,224.5L570.7,222.1L572.1,219.7L573.6,217.5L575.2,215.3L576.4,212.8L577.3,210.2L578.2,207.7L579.0,205.1L579.8,202.5L580.5,199.9L581.2,197.3L581.9,194.7L582.8,192.1L584.1,189.7L586.4,188.5M555.5,264.0L556.9,261.6L558.1,259.1L559.2,256.5L560.3,253.9L561.3,251.2L562.3,248.6L563.2,245.9L564.1,243.0L565.1,239.7L566.0,236.3L567.0,233.5L568.0,231.6L569.0,229.7L570.1,227.5L571.4,225.1L572.7,222.7L574.1,220.3L575.6,218.1L577.2,216.0L578.4,213.6L579.3,211.1L580.1,208.5L580.9,206.0L581.8,203.4L582.5,200.9L583.2,198.3L584.0,195.7L584.9,193.2L586.2,190.8L588.4,189.6M557.4,264.7L558.9,262.4L560.0,259.9L561.2,257.5L562.3,255.0L563.3,252.3L564.3,249.6L565.2,246.9L566.2,244.0L567.1,240.6L568.0,237.2L569.0,234.4L570.0,232.4L571.0,230.5L572.1,228.2L573.4,225.7L574.7,223.2L576.0,220.8L577.6,218.7L579.1,216.7L580.3,214.4L581.2,212.0L582.1,209.4L582.9,206.9L583.7,204.4L584.5,201.9L585.3,199.3L586.1,196.8L586.9,194.2L588.2,191.9L590.4,190.6M559.3,265.6L560.7,263.3L561.9,260.9L563.1,258.6L564.2,256.3L565.3,253.7L566.2,250.9L567.2,248.1L568.2,245.2L569.1,241.9L570.1,238.6L571.1,235.8L572.0,233.6L573.0,231.4L574.1,228.9L575.4,226.2L576.7,223.5L578.0,221.2L579.5,219.2L581.0,217.3L582.2,215.2L583.1,212.8L584.0,210.4L584.9,207.9L585.7,205.4L586.5,202.9L587.3,200.3L588.1,197.8L589.0,195.3L590.3,193.0L592.4,191.7M561.1,266.6L562.5,264.3L563.7,262.0L564.9,260.0L566.1,257.8L567.1,255.1L568.1,252.2L569.1,249.4L570.1,246.6L571.0,243.5L572.0,240.4L573.0,237.5L574.0,235.0L575.0,232.4L576.1,229.5L577.3,226.5L578.6,223.7L579.9,221.3L581.4,219.5L582.9,217.9L584.1,215.9L585.0,213.7L585.9,211.3L586.8,208.8L587.7,206.4L588.5,203.9L589.4,201.3L590.2,198.8L591.1,196.3L592.4,194.1L594.4,192.7M562.8,267.8L564.2,265.5L565.5,263.3L566.7,261.4L567.8,259.4L568.9,256.7L570.0,253.8L571.0,250.9L572.0,248.2L572.9,245.2L573.9,242.2L575.0,239.2L576.0,236.4L577.0,233.4L578.0,230.1L579.2,226.8L580.5,223.7L581.9,221.4L583.3,219.7L584.8,218.3L586.0,216.6L587.0,214.5L587.9,212.1L588.8,209.7L589.7,207.3L590.6,204.8L591.4,202.3L592.3,199.8L593.2,197.3L594.5,195.0L596.5,193.6M564.4,269.0L565.9,266.7L567.2,264.5L568.4,262.7L569.6,260.7L570.7,258.1L571.8,255.2L572.8,252.5L573.8,249.8L574.8,247.0L575.9,243.9L576.9,240.8L577.9,237.7L578.9,234.4L580.0,230.7L581.2,227.0L582.5,223.8L583.8,221.4L585.2,220.0L586.7,218.8L587.9,217.3L588.9,215.3L589.8,213.1L590.8,210.6L591.7,208.2L592.6,205.7L593.5,203.3L594.4,200.8L595.3,198.3L596.6,196.0L598.6,194.6M566.2,270.1L567.7,267.7L569.0,265.5L570.3,263.6L571.5,261.6L572.6,259.1L573.7,256.5L574.7,254.0L575.8,251.4L576.8,248.5L577.8,245.4L578.9,242.2L579.9,238.9L580.9,235.3L581.9,231.4L583.1,227.5L584.4,224.1L585.7,221.8L587.1,220.5L588.6,219.5L589.8,218.1L590.8,216.3L591.7,214.0L592.7,211.7L593.7,209.2L594.6,206.8L595.5,204.3L596.4,201.9L597.3,199.4L598.6,197.2L600.5,195.7M568.1,270.9L569.6,268.6L570.9,266.3L572.2,264.2L573.4,262.2L574.5,259.9L575.6,257.6L576.7,255.3L577.7,252.8L578.8,250.0L579.8,246.8L580.9,243.5L581.9,240.1L582.8,236.4L583.9,232.4L585.1,228.4L586.3,224.9L587.6,222.5L589.0,221.3L590.4,220.4L591.6,219.1L592.6,217.3L593.6,215.1L594.6,212.7L595.6,210.3L596.5,207.9L597.5,205.5L598.4,203.1L599.3,200.6L600.6,198.4L602.5,196.9M570.1,271.6L571.5,269.2L572.9,266.9L574.1,264.7L575.4,262.6L576.5,260.5L577.6,258.4L578.7,256.3L579.7,254.0L580.8,251.1L581.8,248.0L582.9,244.7L583.9,241.3L584.9,237.6L585.9,233.5L587.0,229.6L588.2,226.2L589.5,223.8L590.9,222.5L592.3,221.5L593.5,220.1L594.5,218.3L595.5,216.1L596.5,213.8L597.5,211.5L598.5,209.1L599.4,206.7L600.3,204.3L601.3,201.9L602.5,199.7L604.3,198.2M572.1,271.9L573.6,269.5L574.9,267.1L576.2,264.9L577.4,262.7L578.6,260.7L579.7,258.8L580.8,256.9L581.8,254.7L582.9,251.9L583.9,248.9L585.0,245.8L585.9,242.6L586.9,238.9L587.9,234.9L589.0,231.0L590.2,227.7L591.4,225.3L592.8,223.9L594.2,222.7L595.3,221.2L596.4,219.3L597.4,217.1L598.4,214.8L599.4,212.5L600.4,210.2L601.3,207.9L602.2,205.5L603.2,203.2L604.4,201.0L606.2,199.5M574.2,271.8L575.6,269.5L577.0,267.1L578.3,264.7L579.5,262.5L580.7,260.5L581.8,258.8L582.9,257.0L583.9,254.9L585.0,252.3L586.0,249.5L587.0,246.8L588.0,243.8L588.9,240.2L589.9,236.2L591.0,232.5L592.2,229.3L593.4,227.0L594.7,225.3L596.1,223.9L597.2,222.2L598.2,220.2L599.2,218.1L600.3,215.8L601.3,213.6L602.3,211.3L603.2,209.0L604.2,206.7L605.1,204.5L606.3,202.3L608.0,200.8M576.2,271.5L577.7,269.2L579.0,266.8L580.3,264.4L581.6,262.1L582.7,260.0L583.8,258.4L584.9,256.7L586.0,254.7L587.0,252.3L588.1,249.9L589.1,247.6L590.1,245.0L591.0,241.5L591.9,237.5L593.0,233.9L594.1,230.9L595.3,228.5L596.6,226.7L597.9,225.1L599.1,223.2L600.1,221.1L601.1,218.9L602.2,216.7L603.2,214.6L604.2,212.4L605.2,210.2L606.1,208.0L607.1,205.7L608.2,203.6L609.9,202.2M578.2,271.1L579.7,268.9L581.1,266.5L582.4,264.0L583.6,261.5L584.8,259.3L585.9,257.7L587.0,256.2L588.1,254.3L589.1,252.1L590.2,250.0L591.2,248.1L592.1,245.8L593.0,242.5L593.9,238.6L595.0,235.1L596.1,232.2L597.3,229.9L598.5,227.9L599.8,226.1L600.9,224.0L602.0,221.8L603.0,219.6L604.0,217.5L605.1,215.5L606.1,213.4L607.1,211.3L608.0,209.1L609.0,207.0L610.2,204.9L611.8,203.4M580.3,270.8L581.8,268.7L583.1,266.3L584.4,263.7L585.7,261.0L586.9,258.7L588.0,257.1L589.1,255.7L590.1,254.0L591.2,251.9L592.2,249.9L593.3,248.3L594.2,246.1L595.1,243.0L596.0,239.3L597.0,236.0L598.1,233.3L599.2,231.0L600.4,229.0L601.7,227.0L602.8,224.7L603.8,222.4L604.9,220.1L606.0,218.1L607.0,216.3L608.0,214.4L609.0,212.4L610.0,210.3L611.0,208.2L612.1,206.2L613.7,204.7M582.3,270.6L583.8,268.5L585.2,266.1L586.5,263.5L587.8,260.7L588.9,258.3L590.1,256.7L591.2,255.4L592.2,253.7L593.3,251.7L594.3,249.7L595.4,248.0L596.3,245.9L597.1,243.0L598.0,239.7L599.0,236.7L600.1,234.2L601.2,232.0L602.4,229.9L603.6,227.7L604.7,225.3L605.8,222.8L606.8,220.5L607.9,218.5L609.0,216.9L610.0,215.3L611.0,213.4L612.0,211.4L612.9,209.3L614.1,207.4L615.6,205.9M584.4,270.3L585.9,268.3L587.2,266.0L588.6,263.5L589.8,260.7L591.0,258.3L592.2,256.7L593.3,255.2L594.3,253.5L595.4,251.5L596.5,249.5L597.5,247.6L598.4,245.5L599.2,242.8L600.0,239.9L601.0,237.2L602.1,234.9L603.2,232.7L604.4,230.6L605.6,228.3L606.7,225.7L607.7,223.0L608.7,220.6L609.8,218.8L611.0,217.4L612.0,216.0L613.0,214.4L614.0,212.4L615.0,210.4L616.1,208.5L617.6,207.0M586.4,270.1L587.9,268.1L589.3,265.9L590.6,263.5L591.9,260.9L593.1,258.7L594.3,256.9L595.4,255.3L596.5,253.4L597.5,251.4L598.6,249.3L599.6,247.3L600.5,245.1L601.3,242.6L602.1,240.0L603.1,237.6L604.1,235.4L605.2,233.3L606.3,231.1L607.5,228.8L608.6,226.1L609.7,223.2L610.7,220.7L611.8,219.0L613.0,217.9L614.1,216.7L615.1,215.2L616.1,213.4L617.1,211.4L618.2,209.5L619.6,208.0M588.5,269.8L590.0,267.8L591.3,265.8L592.7,263.5L594.0,261.2L595.2,259.1L596.4,257.2L597.5,255.4L598.6,253.4L599.6,251.4L600.7,249.3L601.7,247.1L602.6,244.8L603.4,242.3L604.2,240.0L605.1,237.8L606.1,235.8L607.2,233.7L608.4,231.6L609.5,229.3L610.6,226.5L611.7,223.5L612.7,220.9L613.9,219.3L615.0,218.4L616.1,217.4L617.2,216.0L618.2,214.2L619.2,212.3L620.3,210.4L621.7,208.9M590.5,269.3L592.0,267.4L593.4,265.4L594.7,263.4L596.0,261.3L597.3,259.2L598.4,257.3L599.6,255.4L600.7,253.4L601.7,251.3L602.8,249.2L603.8,246.9L604.7,244.5L605.5,242.0L606.3,239.8L607.2,237.9L608.2,236.0L609.2,234.1L610.4,232.0L611.5,229.7L612.6,226.9L613.7,224.0L614.8,221.5L615.9,219.9L617.1,219.0L618.2,218.1L619.3,216.7L620.3,215.0L621.3,213.1L622.5,211.3L623.8,209.7M592.5,268.9L594.0,267.1L595.4,265.2L596.8,263.3L598.1,261.4L599.3,259.5L600.5,257.6L601.7,255.6L602.8,253.5L603.9,251.4L604.9,249.3L606.0,246.9L606.9,244.4L607.6,241.7L608.4,239.5L609.3,237.8L610.3,236.2L611.3,234.4L612.4,232.4L613.6,230.2L614.7,227.6L615.7,224.8L616.8,222.4L618.0,220.8L619.2,219.9L620.4,218.8L621.5,217.4L622.5,215.7L623.5,213.8L624.6,212.0L626.0,210.4M594.6,269.0L596.1,267.2L597.5,265.4L598.9,263.6L600.2,261.8L601.5,260.0L602.6,258.2L603.8,256.2L604.9,254.0L606.0,251.8L607.1,249.6L608.1,247.2L609.0,244.5L609.8,241.7L610.5,239.5L611.4,238.0L612.4,236.6L613.4,234.9L614.5,233.0L615.6,230.8L616.7,228.4L617.8,225.8L618.9,223.6L620.1,222.0L621.3,220.8L622.5,219.6L623.6,218.1L624.7,216.4L625.7,214.5L626.8,212.7L628.2,211.1M596.6,269.4L598.1,267.6L599.5,265.8L600.9,264.0L602.3,262.3L603.6,260.7L604.7,258.9L605.9,256.9L607.0,254.6L608.1,252.3L609.2,250.1L610.3,247.7L611.2,244.9L611.9,242.1L612.6,239.9L613.5,238.5L614.4,237.1L615.5,235.4L616.5,233.5L617.7,231.5L618.8,229.2L619.8,226.9L621.0,224.8L622.2,223.2L623.5,221.8L624.7,220.4L625.8,218.8L626.9,217.0L627.9,215.2L629.0,213.4L630.3,211.8M598.6,269.7L600.1,267.9L601.6,266.2L603.0,264.4L604.4,262.8L605.6,261.3L606.8,259.6L608.0,257.6L609.2,255.2L610.3,252.9L611.4,250.7L612.4,248.3L613.3,245.6L614.0,242.9L614.7,240.7L615.6,239.1L616.5,237.7L617.5,236.0L618.6,234.1L619.7,232.1L620.8,230.0L621.9,227.9L623.1,225.9L624.3,224.3L625.6,222.7L626.8,221.2L628.0,219.5L629.1,217.7L630.1,215.9L631.2,214.0L632.5,212.4M600.7,269.9L602.2,268.2L603.7,266.4L605.1,264.7L606.5,263.1L607.7,261.6L609.0,260.0L610.1,258.0L611.3,255.6L612.4,253.3L613.5,251.2L614.6,248.9L615.4,246.4L616.1,243.8L616.8,241.6L617.7,240.0L618.6,238.4L619.6,236.6L620.7,234.7L621.8,232.7L622.8,230.7L624.0,228.7L625.1,226.9L626.4,225.2L627.7,223.6L629.0,221.9L630.1,220.2L631.2,218.4L632.3,216.6L633.4,214.8L634.7,213.1M602.8,269.8L604.3,268.2L605.7,266.5L607.2,264.8L608.6,263.2L609.9,261.7L611.1,260.0L612.3,258.0L613.4,255.8L614.6,253.6L615.7,251.5L616.7,249.4L617.6,247.1L618.3,244.7L618.9,242.5L619.8,240.7L620.7,238.9L621.7,237.1L622.7,235.1L623.8,233.2L624.9,231.3L626.0,229.4L627.2,227.6L628.5,225.9L629.8,224.3L631.1,222.7L632.3,220.9L633.4,219.1L634.5,217.3L635.6,215.5L636.8,213.9M604.8,269.6L606.3,268.0L607.8,266.4L609.3,264.7L610.7,263.1L612.0,261.5L613.2,259.8L614.4,257.9L615.6,255.8L616.7,253.8L617.8,251.8L618.8,249.7L619.7,247.6L620.4,245.4L621.0,243.2L621.9,241.3L622.8,239.4L623.7,237.5L624.8,235.6L625.8,233.7L626.9,231.8L628.0,230.0L629.3,228.2L630.6,226.6L631.9,224.9L633.2,223.3L634.4,221.6L635.6,219.8L636.7,218.0L637.8,216.3L639.0,214.6M606.9,269.3L608.4,267.7L609.9,266.1L611.3,264.6L612.7,262.9L614.1,261.3L615.3,259.6L616.5,257.7L617.7,255.8L618.8,253.8L619.9,251.9L621.0,250.0L621.8,247.9L622.5,245.8L623.1,243.7L623.9,241.7L624.8,239.8L625.8,237.9L626.8,236.0L627.9,234.1L628.9,232.3L630.1,230.5L631.3,228.7L632.7,227.1L634.0,225.6L635.3,224.0L636.6,222.3L637.7,220.5L638.8,218.8L640.0,217.0L641.1,215.3M608.9,268.9L610.4,267.4L611.9,265.9L613.4,264.4L614.8,262.8L616.1,261.1L617.4,259.4L618.6,257.6L619.8,255.8L620.9,253.9L622.1,252.1L623.1,250.2L624.0,248.2L624.6,246.1L625.2,244.1L626.0,242.1L626.9,240.2L627.8,238.2L628.8,236.4L629.9,234.5L631.0,232.7L632.1,230.9L633.4,229.3L634.7,227.7L636.1,226.2L637.5,224.6L638.7,223.0L639.9,221.2L641.0,219.5L642.1,217.7L643.3,216.1M610.9,268.5L612.4,267.0L614.0,265.6L615.5,264.1L616.9,262.6L618.2,260.9L619.5,259.2L620.7,257.5L621.9,255.7L623.1,254.0L624.2,252.2L625.2,250.3L626.1,248.4L626.7,246.4L627.3,244.3L628.1,242.4L628.9,240.5L629.9,238.6L630.9,236.7L631.9,234.9L633.0,233.1L634.2,231.4L635.4,229.8L636.8,228.2L638.2,226.7L639.6,225.2L640.9,223.6L642.0,221.9L643.2,220.2L644.3,218.5L645.4,216.8M612.9,268.0L614.5,266.6L616.0,265.2L617.5,263.8L618.9,262.3L620.3,260.7L621.6,259.1L622.8,257.4L624.0,255.7L625.2,254.0L626.3,252.2L627.3,250.4L628.2,248.5L628.8,246.6L629.4,244.6L630.1,242.6L631.0,240.7L631.9,238.9L632.9,237.1L634.0,235.3L635.1,233.5L636.2,231.9L637.5,230.3L638.9,228.8L640.3,227.3L641.7,225.8L643.0,224.3L644.2,222.6L645.3,220.9L646.5,219.2L647.6,217.5M614.9,267.4L616.5,266.1L618.0,264.8L619.5,263.5L621.0,262.0L622.3,260.5L623.6,258.9L624.9,257.3L626.1,255.6L627.2,254.0L628.4,252.3L629.4,250.5L630.3,248.7L630.9,246.7L631.5,244.8L632.2,242.9L633.0,241.0L634.0,239.2L635.0,237.4L636.0,235.7L637.1,233.9L638.3,232.3L639.6,230.7L641.0,229.3L642.4,227.9L643.8,226.4L645.1,224.9L646.3,223.3L647.5,221.6L648.6,219.9L649.7,218.3M616.9,266.9L618.5,265.7L620.0,264.4L621.6,263.1L623.0,261.8L624.4,260.3L625.7,258.8L626.9,257.2L628.1,255.6L629.3,254.0L630.5,252.3L631.5,250.6L632.4,248.8L633.0,246.9L633.5,245.0L634.2,243.1L635.1,241.3L636.0,239.5L637.0,237.7L638.0,236.0L639.1,234.3L640.3,232.7L641.6,231.2L643.0,229.8L644.5,228.4L645.9,227.0L647.3,225.5L648.5,223.9L649.6,222.3L650.8,220.7L651.9,219.0M528.9,262.3L531.9,261.8L534.9,261.5L537.9,261.6L541.0,261.8L544.0,262.1L547.0,262.4L550.0,262.8L553.0,263.3L555.9,264.1L558.7,265.3L561.3,266.8L563.8,268.6L566.4,270.1L569.1,271.3L572.1,271.9L575.1,271.7L578.1,271.2L581.1,270.7L584.1,270.4L587.1,270.0L590.1,269.4L593.1,268.9L596.1,269.3L599.1,269.8L602.1,269.9L605.1,269.6L608.1,269.1L611.0,268.5L614.0,267.7L616.9,266.9M530.1,260.5L533.0,260.1L536.0,259.8L539.0,259.9L542.1,260.1L545.0,260.5L548.0,260.8L551.0,261.2L554.0,261.7L556.9,262.6L559.7,263.7L562.4,265.2L564.8,267.0L567.4,268.6L570.2,269.7L573.1,270.3L576.2,270.1L579.1,269.7L582.1,269.3L585.1,269.0L588.1,268.7L591.1,268.1L594.1,267.7L597.1,268.1L600.1,268.6L603.1,268.7L606.1,268.5L609.1,268.0L612.1,267.5L615.0,266.8L618.0,266.0M530.9,258.4L533.9,258.0L536.9,257.8L539.9,257.9L542.9,258.2L545.9,258.6L548.8,258.9L551.8,259.4L554.8,259.9L557.7,260.8L560.5,262.1L563.2,263.6L565.7,265.4L568.3,266.9L571.1,268.1L574.1,268.7L577.1,268.5L580.1,268.1L583.1,267.7L586.1,267.5L589.1,267.2L592.1,266.7L595.1,266.4L598.1,266.8L601.1,267.4L604.1,267.6L607.2,267.4L610.2,267.0L613.1,266.5L616.1,265.9L619.0,265.2M531.7,256.3L534.6,255.9L537.7,255.8L540.7,255.9L543.7,256.2L546.6,256.6L549.6,257.0L552.6,257.5L555.6,258.1L558.5,259.1L561.4,260.4L564.0,262.1L566.5,264.0L569.2,265.5L572.0,266.5L575.0,267.0L578.0,266.9L581.0,266.4L584.0,266.1L587.0,265.9L590.0,265.8L593.0,265.4L596.0,265.1L599.1,265.6L602.1,266.2L605.1,266.4L608.2,266.3L611.2,265.9L614.2,265.5L617.1,264.9L620.1,264.4M532.4,254.1L535.4,253.8L538.4,253.7L541.5,253.9L544.4,254.2L547.4,254.6L550.4,255.0L553.4,255.5L556.4,256.3L559.3,257.4L562.2,258.9L564.8,260.7L567.4,262.7L570.0,264.1L572.9,265.0L575.8,265.5L578.9,265.3L581.9,264.8L584.9,264.3L587.9,264.2L591.0,264.2L594.0,264.0L597.0,263.9L600.0,264.4L603.0,265.0L606.1,265.3L609.2,265.1L612.2,264.9L615.2,264.5L618.2,264.0L621.2,263.5M533.2,252.0L536.2,251.7L539.2,251.7L542.2,251.9L545.2,252.2L548.2,252.5L551.1,252.8L554.1,253.4L557.1,254.4L560.1,255.6L562.9,257.3L565.6,259.3L568.2,261.4L570.9,262.8L573.7,263.6L576.7,264.0L579.7,263.7L582.8,263.0L585.8,262.5L588.8,262.3L591.9,262.5L594.9,262.6L597.9,262.6L601.0,263.2L604.0,263.8L607.1,264.1L610.1,264.0L613.2,263.8L616.2,263.5L619.2,263.0L622.2,262.6M533.9,249.8L536.9,249.6L540.0,249.6L543.0,249.8L545.9,250.1L548.9,250.4L551.8,250.7L554.8,251.4L557.9,252.4L560.8,253.8L563.7,255.6L566.4,257.8L569.0,260.0L571.7,261.4L574.5,262.2L577.5,262.5L580.6,262.1L583.6,261.3L586.6,260.6L589.7,260.4L592.7,260.8L595.7,261.1L598.8,261.3L601.9,262.0L604.9,262.7L608.0,263.1L611.1,262.9L614.1,262.7L617.2,262.4L620.2,262.0L623.2,261.6M534.6,247.7L537.6,247.5L540.7,247.5L543.7,247.8L546.7,248.1L549.6,248.3L552.5,248.6L555.5,249.4L558.5,250.5L561.5,252.0L564.4,253.8L567.1,256.0L569.8,258.2L572.5,259.8L575.3,260.7L578.3,261.1L581.4,260.8L584.4,259.8L587.4,258.9L590.5,258.8L593.5,259.3L596.6,259.7L599.6,260.0L602.7,260.9L605.8,261.7L608.9,262.0L612.0,261.9L615.0,261.6L618.1,261.3L621.1,261.0L624.1,260.6M535.3,245.5L538.3,245.4L541.4,245.4L544.4,245.8L547.3,246.2L550.2,246.4L553.2,246.8L556.2,247.6L559.2,248.8L562.2,250.2L565.1,251.9L567.8,254.0L570.5,256.3L573.2,258.0L576.1,259.2L579.1,259.8L582.1,259.5L585.2,258.6L588.2,257.7L591.3,257.5L594.3,257.9L597.4,258.3L600.5,258.7L603.5,259.7L606.6,260.7L609.7,261.0L612.8,260.7L615.9,260.4L618.9,260.2L622.0,259.9L625.0,259.6M535.9,243.3L539.0,243.2L542.0,243.3L545.0,243.7L548.0,244.2L550.9,244.7L553.8,245.2L556.8,246.0L559.8,247.1L562.8,248.4L565.7,250.1L568.5,252.1L571.2,254.3L573.9,256.2L576.8,257.8L579.8,258.6L582.9,258.4L585.9,257.6L589.0,256.7L592.0,256.5L595.1,256.8L598.2,257.0L601.2,257.4L604.3,258.5L607.4,259.5L610.5,259.8L613.6,259.5L616.7,259.2L619.8,259.0L622.8,258.8L625.9,258.5M536.5,241.1L539.6,241.1L542.7,241.2L545.7,241.7L548.6,242.3L551.5,243.0L554.4,243.6L557.4,244.5L560.4,245.4L563.5,246.6L566.4,248.2L569.2,250.1L571.9,252.4L574.7,254.5L577.6,256.3L580.6,257.3L583.6,257.3L586.7,256.6L589.7,255.8L592.8,255.5L595.9,255.6L598.9,255.8L602.0,256.1L605.1,257.1L608.2,258.1L611.3,258.4L614.5,258.2L617.5,258.0L620.6,257.8L623.7,257.6L626.7,257.5M537.2,238.9L540.3,238.9L543.4,239.1L546.4,239.7L549.3,240.4L552.2,241.2L555.0,242.0L558.0,242.8L561.1,243.6L564.1,244.7L567.0,246.2L569.9,248.2L572.6,250.5L575.4,252.8L578.3,254.7L581.3,255.9L584.4,255.9L587.4,255.4L590.5,254.8L593.5,254.4L596.6,254.4L599.7,254.4L602.8,254.7L605.9,255.6L609.0,256.5L612.1,256.9L615.3,256.9L618.4,256.7L621.4,256.6L624.5,256.5L627.5,256.4M537.8,236.7L540.9,236.8L544.0,237.0L547.0,237.6L549.9,238.5L552.8,239.3L555.6,240.2L558.6,241.0L561.7,241.6L564.7,242.6L567.7,244.2L570.5,246.3L573.3,248.7L576.1,251.0L579.0,253.0L582.0,254.2L585.1,254.4L588.1,254.0L591.2,253.5L594.3,253.2L597.3,253.1L600.4,253.0L603.5,253.2L606.7,254.0L609.8,254.9L612.9,255.4L616.0,255.4L619.1,255.4L622.2,255.4L625.3,255.4L628.4,255.3M538.5,234.6L541.6,234.6L544.7,234.9L547.7,235.6L550.6,236.5L553.4,237.4L556.3,238.3L559.2,239.0L562.3,239.5L565.3,240.3L568.3,241.9L571.2,244.2L573.9,246.7L576.8,249.1L579.7,251.0L582.7,252.3L585.8,252.7L588.8,252.4L591.9,252.1L595.0,251.8L598.1,251.7L601.2,251.6L604.3,251.8L607.4,252.5L610.6,253.3L613.7,253.8L616.8,254.0L619.9,254.1L623.0,254.2L626.1,254.2L629.2,254.2M539.1,232.4L542.2,232.5L545.4,232.8L548.4,233.5L551.2,234.5L554.1,235.5L556.9,236.4L559.8,237.0L562.9,237.2L566.0,237.9L568.9,239.6L571.8,242.0L574.6,244.6L577.5,247.0L580.4,248.9L583.4,250.3L586.5,250.9L589.5,250.9L592.6,250.7L595.7,250.4L598.8,250.2L601.9,250.2L605.0,250.3L608.2,251.0L611.3,251.8L614.5,252.4L617.6,252.7L620.7,252.9L623.8,253.0L626.9,253.0L630.0,253.1M539.8,230.2L543.0,230.3L546.1,230.7L549.1,231.5L551.9,232.5L554.8,233.6L557.5,234.5L560.5,235.1L563.6,235.1L566.6,235.7L569.6,237.4L572.5,239.9L575.3,242.5L578.2,244.8L581.1,246.7L584.2,248.2L587.2,249.1L590.3,249.6L593.3,249.5L596.4,249.1L599.5,248.8L602.6,248.7L605.8,248.8L608.9,249.5L612.0,250.3L615.2,250.9L618.3,251.3L621.5,251.6L624.6,251.8L627.7,251.9L630.7,251.9M540.6,228.1L543.7,228.2L546.9,228.7L549.9,229.4L552.7,230.5L555.5,231.7L558.2,232.7L561.2,233.2L564.3,233.3L567.3,233.9L570.3,235.6L573.2,238.0L576.0,240.5L578.9,242.6L581.8,244.5L584.9,246.1L587.9,247.4L591.0,248.3L594.0,248.3L597.1,247.8L600.2,247.4L603.3,247.2L606.4,247.2L609.6,247.8L612.7,248.7L615.9,249.4L619.0,250.0L622.2,250.3L625.3,250.5L628.4,250.7L631.4,250.8M541.4,225.9L544.5,226.1L547.6,226.6L550.7,227.4L553.4,228.6L556.2,229.8L558.9,230.9L561.8,231.6L564.9,231.8L568.0,232.5L571.0,234.0L573.9,236.2L576.7,238.4L579.6,240.3L582.5,242.1L585.6,243.9L588.6,245.6L591.6,246.9L594.7,247.1L597.7,246.5L600.9,245.9L604.0,245.6L607.1,245.5L610.2,246.0L613.4,246.9L616.5,247.9L619.7,248.5L622.8,248.9L625.9,249.2L629.0,249.4L632.1,249.6M542.2,223.8L545.4,224.0L548.5,224.5L551.5,225.4L554.2,226.6L556.9,227.9L559.6,229.1L562.5,230.0L565.6,230.4L568.7,231.2L571.6,232.7L574.5,234.5L577.4,236.3L580.3,238.0L583.2,239.7L586.2,241.6L589.2,243.5L592.2,245.0L595.3,245.4L598.3,244.9L601.4,244.3L604.5,243.9L607.7,243.6L610.8,244.0L613.9,245.0L617.1,246.2L620.2,247.0L623.3,247.5L626.4,247.9L629.5,248.1L632.6,248.3M543.1,221.7L546.2,222.0L549.4,222.5L552.3,223.4L555.1,224.7L557.7,226.0L560.4,227.3L563.2,228.4L566.3,229.1L569.3,230.0L572.3,231.2L575.2,232.7L578.1,234.1L580.9,235.6L583.9,237.2L586.8,239.1L589.8,241.0L592.8,242.6L595.9,243.2L598.9,243.0L602.0,242.6L605.1,242.2L608.2,241.8L611.3,242.1L614.4,243.2L617.5,244.5L620.6,245.5L623.7,246.1L626.8,246.5L629.9,246.7L632.9,247.0M544.1,219.7L547.2,219.9L550.3,220.5L553.3,221.5L556.0,222.8L558.6,224.2L561.2,225.6L564.0,226.7L567.1,227.5L570.1,228.5L573.1,229.6L575.9,230.7L578.8,231.8L581.7,232.9L584.6,234.5L587.5,236.3L590.5,238.3L593.5,239.9L596.4,240.8L599.5,241.0L602.5,240.9L605.6,240.6L608.7,240.2L611.8,240.5L614.9,241.6L618.0,243.0L621.1,244.1L624.2,244.7L627.2,245.1L630.3,245.4L633.3,245.7M545.1,217.7L548.3,217.9L551.4,218.5L554.3,219.6L557.0,220.9L559.5,222.4L562.1,223.8L564.9,225.1L567.9,226.0L570.9,226.9L573.8,227.9L576.7,228.6L579.6,229.3L582.4,230.2L585.3,231.7L588.2,233.6L591.2,235.6L594.1,237.3L597.1,238.4L600.1,239.0L603.1,239.2L606.1,239.2L609.2,238.9L612.3,239.2L615.4,240.3L618.5,241.7L621.6,242.7L624.6,243.3L627.7,243.7L630.7,244.1L633.7,244.4M546.3,215.7L549.4,216.0L552.5,216.6L555.4,217.7L558.0,219.1L560.5,220.6L563.0,222.1L565.8,223.4L568.8,224.3L571.8,225.2L574.7,226.0L577.6,226.6L580.4,226.9L583.2,227.6L586.1,229.0L589.0,231.0L591.9,233.2L594.8,235.0L597.8,236.3L600.7,237.2L603.8,237.7L606.8,237.9L609.8,237.9L612.9,238.3L616.0,239.3L619.1,240.5L622.1,241.4L625.2,242.0L628.2,242.4L631.2,242.8L634.2,243.1M547.5,213.8L550.6,214.1L553.7,214.7L556.6,215.8L559.1,217.3L561.5,218.8L564.0,220.4L566.7,221.7L569.7,222.6L572.7,223.6L575.6,224.2L578.4,224.6L581.3,224.7L584.1,225.2L586.9,226.5L589.8,228.7L592.7,231.0L595.6,233.0L598.5,234.5L601.5,235.5L604.4,236.2L607.5,236.6L610.5,236.8L613.6,237.4L616.6,238.3L619.7,239.3L622.7,240.1L625.8,240.6L628.8,241.1L631.8,241.5L634.8,241.8M548.7,211.8L551.8,212.2L554.9,212.8L557.7,214.0L560.2,215.5L562.6,217.1L565.0,218.7L567.7,220.1L570.7,221.0L573.6,221.9L576.5,222.5L579.3,222.8L582.2,222.8L585.0,223.2L587.8,224.5L590.6,226.7L593.5,229.1L596.4,231.2L599.3,232.8L602.2,234.0L605.2,234.8L608.2,235.3L611.2,235.7L614.2,236.4L617.3,237.2L620.3,238.1L623.4,238.8L626.4,239.3L629.4,239.8L632.4,240.2L635.4,240.6M549.9,209.9L553.1,210.3L556.1,211.0L558.9,212.1L561.3,213.7L563.7,215.4L566.0,217.1L568.6,218.5L571.6,219.4L574.5,220.3L577.4,221.0L580.3,221.3L583.1,221.3L585.9,221.7L588.7,223.1L591.5,225.3L594.3,227.6L597.2,229.7L600.0,231.3L602.9,232.5L605.9,233.4L608.9,233.9L611.9,234.5L614.9,235.2L618.0,236.0L621.0,236.8L624.0,237.5L627.1,238.0L630.1,238.5L633.1,239.0L636.0,239.4M551.3,208.1L554.4,208.5L557.4,209.2L560.2,210.4L562.6,212.0L564.9,213.7L567.1,215.5L569.7,216.9L572.7,217.9L575.6,218.8L578.4,219.6L581.2,220.0L584.1,220.2L586.8,220.8L589.6,222.1L592.4,224.2L595.2,226.4L598.0,228.4L600.9,229.9L603.8,231.1L606.7,231.9L609.7,232.5L612.7,233.1L615.7,233.9L618.7,234.7L621.7,235.5L624.7,236.2L627.7,236.7L630.7,237.3L633.7,237.7L636.7,238.2M552.8,206.4L555.9,206.7L558.9,207.5L561.6,208.7L563.9,210.4L566.1,212.2L568.3,213.9L570.9,215.4L573.8,216.4L576.7,217.4L579.5,218.3L582.3,218.9L585.1,219.4L587.9,220.1L590.6,221.5L593.4,223.4L596.2,225.4L598.9,227.1L601.7,228.5L604.6,229.6L607.5,230.4L610.5,231.0L613.4,231.7L616.5,232.5L619.5,233.4L622.5,234.2L625.5,234.9L628.5,235.5L631.4,236.0L634.4,236.5L637.4,237.0M554.2,204.6L557.2,204.9L560.2,205.7L562.9,207.0L565.1,208.7L567.3,210.5L569.4,212.3L571.9,213.8L574.8,214.8L577.7,215.9L580.5,216.9L583.3,217.8L586.1,218.5L588.8,219.5L591.6,220.9L594.3,222.6L597.0,224.3L599.8,225.8L602.6,227.1L605.4,228.0L608.3,228.7L611.2,229.4L614.2,230.1L617.2,231.1L620.2,232.1L623.2,232.9L626.2,233.6L629.2,234.2L632.2,234.8L635.1,235.3L638.1,235.9M555.2,202.5L558.2,202.9L561.2,203.7L563.9,205.0L566.1,206.8L568.2,208.7L570.3,210.6L572.8,212.1L575.7,213.2L578.5,214.3L581.3,215.4L584.1,216.5L586.9,217.4L589.6,218.6L592.4,220.0L595.1,221.6L597.8,223.1L600.6,224.5L603.3,225.5L606.2,226.3L609.0,226.9L612.0,227.5L615.0,228.4L618.0,229.5L621.0,230.6L624.0,231.6L626.9,232.3L629.9,233.0L632.9,233.6L635.9,234.2L638.9,234.7M555.9,200.4L559.0,200.8L562.0,201.6L564.6,203.0L566.8,204.8L568.9,206.8L571.0,208.7L573.4,210.4L576.3,211.4L579.2,212.6L582.0,213.9L584.8,215.0L587.6,216.1L590.4,217.4L593.1,218.9L595.8,220.4L598.5,221.8L601.3,223.0L604.1,223.9L606.9,224.5L609.8,224.9L612.7,225.5L615.7,226.5L618.7,227.9L621.7,229.2L624.7,230.2L627.7,231.0L630.7,231.7L633.7,232.4L636.7,233.0L639.6,233.6M556.6,198.2L559.7,198.6L562.6,199.5L565.3,200.9L567.5,202.8L569.5,204.8L571.5,206.9L574.0,208.6L576.9,209.7L579.8,210.9L582.6,212.2L585.4,213.5L588.3,214.7L591.0,216.0L593.8,217.5L596.5,219.0L599.2,220.4L602.0,221.5L604.7,222.3L607.6,222.6L610.5,222.9L613.4,223.5L616.4,224.7L619.4,226.3L622.5,227.8L625.5,228.9L628.5,229.8L631.5,230.5L634.5,231.2L637.5,231.9L640.5,232.5M557.1,196.0L560.2,196.4L563.2,197.4L565.9,198.8L568.1,200.8L570.1,202.9L572.1,205.0L574.5,206.8L577.5,207.9L580.4,209.2L583.2,210.5L586.0,211.8L588.9,213.1L591.7,214.5L594.4,216.0L597.2,217.5L599.9,218.9L602.7,220.0L605.5,220.7L608.3,221.0L611.2,221.1L614.2,221.7L617.2,223.1L620.2,224.9L623.3,226.5L626.3,227.7L629.3,228.6L632.3,229.4L635.3,230.1L638.4,230.8L641.4,231.5M557.7,193.8L560.8,194.2L563.8,195.2L566.5,196.7L568.6,198.8L570.7,201.0L572.6,203.2L575.1,205.0L578.0,206.1L580.9,207.4L583.8,208.8L586.7,210.2L589.5,211.5L592.4,212.9L595.1,214.5L597.9,216.0L600.6,217.4L603.4,218.5L606.2,219.3L609.0,219.6L612.0,219.8L614.9,220.4L618.0,221.8L621.0,223.6L624.1,225.3L627.1,226.5L630.2,227.4L633.2,228.3L636.3,229.0L639.3,229.8L642.3,230.5M558.2,191.6L561.4,192.0L564.4,193.1L567.1,194.6L569.2,196.8L571.2,199.0L573.1,201.3L575.6,203.2L578.6,204.4L581.5,205.7L584.4,207.1L587.3,208.5L590.2,209.8L593.0,211.3L595.8,212.9L598.6,214.4L601.3,215.9L604.1,217.1L606.9,218.0L609.8,218.5L612.7,218.9L615.7,219.6L618.8,220.9L621.9,222.6L625.0,224.2L628.0,225.4L631.1,226.3L634.2,227.2L637.2,228.0L640.3,228.8L643.3,229.6M558.7,189.4L561.9,189.9L565.0,190.9L567.7,192.5L569.8,194.8L571.8,197.1L573.7,199.4L576.1,201.4L579.1,202.6L582.0,204.0L585.0,205.4L587.9,206.8L590.8,208.1L593.7,209.6L596.5,211.3L599.3,212.9L602.1,214.4L604.8,215.7L607.7,216.8L610.5,217.5L613.5,218.2L616.5,219.0L619.6,220.2L622.7,221.7L625.8,223.1L628.9,224.3L632.0,225.3L635.1,226.1L638.2,227.0L641.2,227.8L644.3,228.6M559.2,187.1L562.4,187.6L565.5,188.7L568.2,190.4L570.3,192.7L572.2,195.1L574.1,197.6L576.6,199.6L579.6,200.8L582.6,202.2L585.5,203.7L588.4,205.1L591.4,206.5L594.3,208.0L597.2,209.6L599.9,211.3L602.7,212.8L605.5,214.3L608.4,215.6L611.3,216.6L614.3,217.5L617.3,218.4L620.4,219.6L623.6,220.9L626.7,222.1L629.8,223.2L632.9,224.2L636.0,225.1L639.1,226.0L642.2,226.8L645.3,227.7M559.6,184.9L562.8,185.4L565.9,186.5L568.7,188.3L570.7,190.7L572.7,193.2L574.6,195.7L577.0,197.7L580.1,199.0L583.0,200.5L586.0,202.0L589.0,203.4L592.0,204.8L594.9,206.3L597.8,208.0L600.6,209.7L603.4,211.3L606.2,212.9L609.1,214.3L612.0,215.6L615.0,216.7L618.1,217.7L621.2,218.7L624.4,219.9L627.5,221.0L630.7,222.0L633.8,223.0L636.9,224.0L640.0,224.9L643.2,225.8L646.3,226.7M560.0,182.7L563.3,183.2L566.5,184.4L569.2,186.2L571.3,188.7L573.2,191.2L575.0,193.8L577.5,195.9L580.6,197.3L583.6,198.7L586.6,200.2L589.6,201.7L592.6,203.1L595.6,204.6L598.4,206.4L601.2,208.1L604.0,209.8L606.9,211.4L609.7,213.0L612.7,214.4L615.7,215.6L618.8,216.7L622.0,217.8L625.1,218.8L628.3,219.8L631.5,220.9L634.6,221.9L637.8,222.8L640.9,223.8L644.0,224.7L647.2,225.7M560.6,180.5L563.9,181.0L567.0,182.2L569.8,184.1L571.8,186.6L573.7,189.3L575.5,191.9L578.0,194.1L581.1,195.5L584.1,197.0L587.1,198.5L590.1,200.0L593.2,201.4L596.2,203.0L599.0,204.7L601.9,206.5L604.7,208.2L607.5,210.0L610.4,211.6L613.3,213.1L616.4,214.4L619.5,215.6L622.7,216.6L625.9,217.6L629.1,218.6L632.2,219.6L635.4,220.7L638.6,221.7L641.7,222.7L644.9,223.6L648.0,224.6M561.1,178.3L564.4,178.8L567.6,180.1L570.4,182.0L572.4,184.6L574.3,187.3L576.1,190.1L578.5,192.3L581.6,193.7L584.6,195.2L587.7,196.8L590.7,198.3L593.8,199.7L596.8,201.3L599.7,203.1L602.5,204.9L605.3,206.7L608.2,208.5L611.0,210.2L614.0,211.8L617.0,213.2L620.2,214.3L623.4,215.4L626.6,216.4L629.8,217.3L633.0,218.4L636.2,219.4L639.3,220.5L642.5,221.5L645.7,222.5L648.8,223.5M561.8,176.1L565.1,176.7L568.3,177.9L571.1,179.9L573.1,182.6L574.9,185.4L576.7,188.2L579.1,190.5L582.2,191.9L585.2,193.5L588.3,195.1L591.3,196.6L594.4,198.0L597.4,199.6L600.3,201.4L603.2,203.3L606.0,205.2L608.8,207.0L611.7,208.7L614.7,210.4L617.7,211.8L620.9,213.0L624.1,214.1L627.3,215.1L630.5,216.1L633.7,217.1L636.9,218.2L640.1,219.3L643.3,220.3L646.4,221.4L649.6,222.4M562.6,174.0L566.0,174.6L569.2,175.9L571.9,177.9L573.9,180.6L575.7,183.5L577.4,186.4L579.8,188.8L582.9,190.2L586.0,191.8L589.0,193.4L592.1,194.9L595.2,196.3L598.2,198.0L601.1,199.8L603.9,201.7L606.7,203.7L609.5,205.5L612.4,207.3L615.4,209.0L618.4,210.5L621.6,211.7L624.8,212.8L628.0,213.8L631.3,214.8L634.5,215.9L637.7,217.0L640.8,218.1L644.0,219.1L647.2,220.2L650.4,221.3M564.4,172.6L567.8,173.2L570.9,174.5L573.6,176.5L575.5,179.3L577.2,182.2L578.8,185.2L581.2,187.6L584.3,189.0L587.3,190.6L590.3,192.2L593.3,193.7L596.4,195.1L599.3,196.7L602.2,198.6L605.0,200.5L607.7,202.4L610.5,204.3L613.4,206.1L616.3,207.8L619.3,209.3L622.5,210.6L625.6,211.7L628.9,212.7L632.1,213.6L635.3,214.7L638.4,215.8L641.6,216.9L644.8,218.0L648.0,219.1L651.1,220.1M566.6,172.0L569.9,172.5L573.0,173.7L575.6,175.8L577.4,178.6L579.0,181.5L580.5,184.4L582.8,186.8L585.8,188.2L588.8,189.8L591.7,191.3L594.7,192.8L597.8,194.2L600.7,195.8L603.5,197.6L606.2,199.5L608.9,201.5L611.7,203.4L614.5,205.2L617.3,206.9L620.3,208.3L623.4,209.6L626.6,210.6L629.8,211.6L633.0,212.6L636.1,213.6L639.3,214.7L642.4,215.8L645.6,216.9L648.7,217.9L651.9,219.0" fill="none" stroke="#7f9fcd" stroke-width="0.42"/>
<path d="M528.9,262.3L529.35,262.24L529.8,262.16L530.25,262.09L530.71,262.02L531.16,261.95L531.61,261.88L532.06,261.81L532.51,261.75L532.97,261.69L533.42,261.64L533.87,261.6L534.33,261.57L534.79,261.53L535.24,261.52L535.7,261.51L536.16,261.5L536.61,261.51L537.07,261.52L537.53,261.54L537.98,261.57L538.44,261.59L538.89,261.62L539.35,261.65L539.8,261.69L540.26,261.73L540.72,261.76L541.17,261.81L541.62,261.85L542.08,261.89L542.53,261.94L542.99,261.98L543.44,262.03L543.9,262.08L544.35,262.13L544.81,262.18L545.26,262.23L545.71,262.28L546.17,262.33L546.62,262.38L547.08,262.43L547.53,262.48L547.98,262.53L548.44,262.59L548.89,262.64L549.34,262.7L549.8,262.75L550.25,262.81L550.7,262.88L551.15,262.95L551.6,263.02L552.05,263.1L552.5,263.19L552.95,263.28L553.4,263.38L553.84,263.49L554.28,263.6L554.72,263.73L555.16,263.86L555.59,264L556.03,264.15L556.46,264.3L556.88,264.47L557.3,264.64L557.72,264.82L558.14,265.02L558.55,265.21L558.96,265.41L559.37,265.62L559.77,265.83L560.17,266.06L560.56,266.29L560.95,266.53L561.33,266.79L561.7,267.05L562.07,267.32L562.44,267.59L562.81,267.86L563.18,268.13L563.55,268.4L563.92,268.66L564.29,268.93L564.67,269.18L565.06,269.42L565.45,269.65L565.85,269.87L566.26,270.08L566.67,270.28L567.08,270.48L567.5,270.67L567.91,270.86L568.33,271.03L568.76,271.2L569.19,271.35L569.63,271.49L570.07,271.61L570.51,271.7L570.96,271.79L571.42,271.85L571.87,271.9L572.33,271.91L572.78,271.92L573.24,271.89L573.69,271.86L574.15,271.81L574.6,271.76L575.05,271.69L575.51,271.62L575.96,271.55L576.41,271.47L576.86,271.39L577.31,271.31L577.75,271.22L578.2,271.15L578.65,271.07L579.11,271L579.56,270.93L580.01,270.87L580.46,270.82L580.92,270.76L581.37,270.71L581.83,270.65L582.28,270.6L582.73,270.55L583.19,270.49L583.64,270.44L584.09,270.38L584.55,270.33L585,270.28L585.45,270.22L585.91,270.16L586.36,270.1L586.81,270.04L587.26,269.98L587.72,269.91L588.17,269.83L588.62,269.75L589.06,269.64L589.5,269.53L589.94,269.41L590.38,269.28L590.82,269.17L591.27,269.07L591.72,268.99L592.17,268.94L592.63,268.91L593.09,268.9L593.54,268.93L594,268.96L594.45,269.01L594.9,269.07L595.36,269.15L595.81,269.22L596.26,269.3L596.71,269.38L597.16,269.46L597.61,269.54L598.06,269.61L598.51,269.68L598.96,269.75L599.41,269.8L599.87,269.84L600.32,269.87L600.78,269.89L601.24,269.89L601.69,269.88L602.15,269.87L602.61,269.84L603.06,269.81L603.52,269.76L603.97,269.72L604.42,269.66L604.88,269.6L605.33,269.54L605.78,269.47L606.23,269.4L606.68,269.32L607.13,269.24L607.58,269.16L608.03,269.08L608.48,269L608.93,268.91L609.38,268.82L609.82,268.73L610.27,268.63L610.72,268.53L611.16,268.42L611.6,268.31L612.05,268.2L612.49,268.09L612.93,267.97L613.37,267.86L613.81,267.74L614.26,267.62L614.7,267.5L615.14,267.38L615.58,267.26L616.02,267.14L616.46,267.02L616.9,266.9L617.14,266.71L617.37,266.52L617.61,266.33L617.85,266.15L618.08,265.96L618.32,265.77L618.56,265.59L618.8,265.4L619.03,265.21L619.27,265.03L619.51,264.84L619.74,264.65L619.98,264.46L620.21,264.27L620.45,264.08L620.68,263.88L620.91,263.69L621.14,263.5L621.37,263.3L621.6,263.1L621.82,262.9L622.05,262.7L622.27,262.5L622.49,262.29L622.71,262.08L622.93,261.87L623.14,261.65L623.35,261.44L623.56,261.22L623.76,261L623.97,260.77L624.17,260.55L624.37,260.32L624.57,260.09L624.77,259.87L624.96,259.64L625.16,259.4L625.35,259.17L625.54,258.94L625.73,258.7L625.92,258.47L626.11,258.23L626.3,258L626.48,257.76L626.67,257.52L626.85,257.28L627.04,257.04L627.22,256.8L627.4,256.56L627.59,256.32L627.77,256.08L627.95,255.83L628.13,255.59L628.31,255.35L628.49,255.11L628.67,254.87L628.85,254.62L629.03,254.38L629.21,254.14L629.39,253.89L629.56,253.65L629.74,253.4L629.91,253.15L630.08,252.9L630.25,252.65L630.42,252.4L630.59,252.15L630.75,251.9L630.91,251.64L631.07,251.38L631.23,251.12L631.38,250.86L631.53,250.6L631.67,250.33L631.81,250.07L631.95,249.8L632.07,249.52L632.2,249.25L632.31,248.97L632.41,248.68L632.52,248.4L632.61,248.11L632.7,247.82L632.79,247.53L632.87,247.24L632.95,246.95L633.03,246.66L633.11,246.37L633.19,246.08L633.27,245.79L633.35,245.49L633.44,245.21L633.53,244.92L633.62,244.63L633.73,244.35L633.84,244.07L633.95,243.78L634.07,243.51L634.19,243.23L634.31,242.95L634.43,242.68L634.55,242.4L634.68,242.13L634.81,241.85L634.94,241.58L635.07,241.31L635.21,241.04L635.34,240.77L635.48,240.5L635.61,240.23L635.75,239.96L635.9,239.69L636.04,239.43L636.18,239.16L636.33,238.9L636.48,238.63L636.63,238.37L636.78,238.11L636.93,237.85L637.08,237.59L637.24,237.33L637.39,237.07L637.55,236.81L637.7,236.55L637.86,236.29L638.02,236.04L638.18,235.78L638.34,235.52L638.51,235.27L638.67,235.02L638.84,234.77L639.01,234.51L639.18,234.26L639.35,234.02L639.53,233.77L639.7,233.53L639.88,233.28L640.07,233.04L640.25,232.8L640.44,232.57L640.63,232.33L640.82,232.1L641.02,231.87L641.22,231.64L641.42,231.42L641.62,231.2L641.84,230.98L642.05,230.77L642.26,230.55L642.48,230.34L642.7,230.13L642.92,229.93L643.14,229.72L643.36,229.51L643.58,229.31L643.8,229.1L644.02,228.9L644.24,228.69L644.47,228.49L644.69,228.28L644.9,228.07L645.12,227.86L645.34,227.65L645.55,227.44L645.77,227.22L645.98,227.01L646.19,226.79L646.39,226.57L646.59,226.34L646.8,226.12L646.99,225.89L647.18,225.65L647.37,225.42L647.56,225.18L647.74,224.94L647.93,224.7L648.11,224.46L648.29,224.22L648.47,223.97L648.64,223.73L648.82,223.48L649,223.24L649.17,222.99L649.34,222.74L649.52,222.5L649.69,222.25L649.86,222L650.03,221.75L650.2,221.5L650.37,221.25L650.54,221L650.71,220.75L650.88,220.5L651.05,220.25L651.22,220L651.39,219.75L651.56,219.5L651.73,219.25L651.9,219L651.42,218.84L650.95,218.68L650.47,218.51L650,218.35L649.52,218.19L649.04,218.03L648.57,217.87L648.09,217.71L647.62,217.54L647.14,217.38L646.66,217.22L646.19,217.06L645.71,216.9L645.24,216.73L644.76,216.57L644.28,216.41L643.81,216.25L643.33,216.09L642.86,215.92L642.38,215.76L641.91,215.6L641.43,215.44L640.95,215.28L640.48,215.11L640,214.95L639.53,214.79L639.05,214.63L638.58,214.46L638.1,214.3L637.62,214.14L637.15,213.97L636.67,213.81L636.2,213.65L635.72,213.48L635.25,213.32L634.77,213.16L634.29,213L633.82,212.84L633.34,212.69L632.86,212.53L632.38,212.38L631.9,212.24L631.42,212.09L630.94,211.94L630.46,211.8L629.97,211.66L629.49,211.51L629.01,211.37L628.53,211.23L628.05,211.08L627.57,210.94L627.08,210.79L626.6,210.65L626.13,210.49L625.65,210.34L625.17,210.18L624.69,210.03L624.22,209.86L623.74,209.69L623.27,209.52L622.8,209.35L622.33,209.18L621.86,208.99L621.39,208.8L620.93,208.61L620.46,208.42L620.01,208.21L619.55,207.99L619.1,207.78L618.64,207.56L618.19,207.34L617.75,207.1L617.31,206.86L616.87,206.61L616.43,206.37L615.99,206.12L615.57,205.86L615.14,205.59L614.71,205.33L614.28,205.07L613.85,204.8L613.43,204.53L613.01,204.25L612.6,203.97L612.18,203.69L611.76,203.42L611.34,203.14L610.93,202.85L610.51,202.57L610.1,202.28L609.68,202L609.27,201.71L608.86,201.42L608.45,201.13L608.04,200.84L607.63,200.55L607.22,200.26L606.81,199.97L606.4,199.68L605.98,199.39L605.57,199.1L605.16,198.81L604.75,198.52L604.34,198.23L603.93,197.95L603.51,197.66L603.1,197.38L602.68,197.09L602.26,196.82L601.84,196.55L601.42,196.27L601,196L600.57,195.74L600.13,195.48L599.7,195.23L599.26,194.98L598.82,194.74L598.38,194.5L597.93,194.27L597.48,194.06L597.02,193.85L596.56,193.65L596.1,193.45L595.63,193.26L595.17,193.06L594.71,192.85L594.26,192.63L593.81,192.4L593.37,192.17L592.92,191.94L592.47,191.71L592.03,191.48L591.58,191.25L591.14,191.01L590.69,190.78L590.25,190.55L589.8,190.31L589.36,190.08L588.91,189.85L588.47,189.61L588.02,189.38L587.58,189.14L587.13,188.9L586.69,188.67L586.25,188.43L585.8,188.2L585.35,187.97L584.89,187.76L584.43,187.56L583.97,187.37L583.51,187.17L583.05,186.96L582.62,186.71L582.2,186.43L581.82,186.1L581.46,185.75L581.14,185.36L580.85,184.95L580.57,184.53L580.33,184.1L580.08,183.66L579.85,183.21L579.63,182.76L579.41,182.31L579.19,181.86L578.96,181.41L578.73,180.96L578.49,180.52L578.25,180.08L577.99,179.65L577.74,179.21L577.49,178.77L577.25,178.33L577,177.9L576.75,177.46L576.49,177.03L576.22,176.6L575.94,176.19L575.63,175.79L575.31,175.41L574.95,175.05L574.57,174.73L574.16,174.43L573.74,174.16L573.3,173.92L572.85,173.69L572.4,173.47L571.94,173.27L571.47,173.08L571,172.9L570.53,172.73L570.06,172.56L569.58,172.4L569.1,172.27L568.6,172.18L568.1,172.11L567.6,172.07L567.1,172.04L566.6,172L566.12,172.14L565.63,172.27L565.15,172.4L564.67,172.55L564.19,172.73L563.74,172.94L563.32,173.21L562.95,173.56L562.65,173.95L562.4,174.39L562.2,174.85L562.02,175.32L561.86,175.8L561.7,176.28L561.55,176.76L561.4,177.24L561.26,177.72L561.13,178.21L561,178.69L560.87,179.18L560.75,179.67L560.63,180.16L560.51,180.65L560.4,181.14L560.28,181.63L560.17,182.12L560.06,182.61L559.95,183.1L559.84,183.59L559.73,184.08L559.63,184.57L559.54,185.07L559.44,185.56L559.35,186.06L559.26,186.55L559.17,187.05L559.08,187.54L558.98,188.03L558.88,188.53L558.78,189.02L558.68,189.51L558.57,190L558.46,190.5L558.35,190.98L558.23,191.47L558.11,191.96L557.99,192.45L557.87,192.94L557.75,193.43L557.64,193.92L557.52,194.41L557.4,194.9L557.28,195.39L557.17,195.87L557.04,196.36L556.92,196.85L556.8,197.34L556.67,197.82L556.53,198.31L556.4,198.8L556.27,199.28L556.12,199.76L555.98,200.24L555.83,200.72L555.66,201.2L555.5,201.68L555.33,202.15L555.14,202.61L554.95,203.08L554.73,203.53L554.5,203.98L554.26,204.42L553.99,204.85L553.72,205.27L553.41,205.67L553.1,206.07L552.78,206.45L552.45,206.83L552.12,207.21L551.78,207.59L551.45,207.96L551.13,208.35L550.82,208.74L550.51,209.14L550.22,209.55L549.93,209.96L549.65,210.38L549.38,210.8L549.1,211.22L548.83,211.65L548.56,212.07L548.28,212.49L548.01,212.92L547.75,213.34L547.48,213.77L547.21,214.2L546.95,214.62L546.68,215.05L546.42,215.48L546.16,215.91L545.91,216.35L545.66,216.78L545.4,217.22L545.16,217.66L544.91,218.1L544.67,218.54L544.43,218.98L544.2,219.43L543.97,219.87L543.74,220.32L543.53,220.78L543.31,221.23L543.1,221.69L542.9,222.15L542.69,222.61L542.5,223.07L542.3,223.54L542.11,224L541.93,224.47L541.74,224.94L541.56,225.41L541.38,225.88L541.21,226.35L541.03,226.82L540.86,227.29L540.69,227.77L540.52,228.24L540.35,228.71L540.19,229.19L540.02,229.66L539.85,230.14L539.69,230.61L539.53,231.09L539.37,231.57L539.22,232.05L539.07,232.53L538.92,233.01L538.77,233.49L538.63,233.97L538.48,234.45L538.34,234.94L538.2,235.42L538.06,235.9L537.92,236.39L537.78,236.87L537.65,237.35L537.51,237.84L537.37,238.32L537.23,238.8L537.08,239.29L536.94,239.77L536.8,240.25L536.65,240.73L536.51,241.21L536.37,241.7L536.23,242.18L536.09,242.66L535.95,243.15L535.81,243.63L535.67,244.11L535.53,244.6L535.39,245.08L535.25,245.56L535.11,246.05L534.96,246.53L534.82,247.01L534.67,247.49L534.52,247.97L534.37,248.45L534.22,248.93L534.06,249.41L533.9,249.89L533.74,250.36L533.58,250.84L533.42,251.32L533.25,251.79L533.09,252.27L532.92,252.74L532.75,253.21L532.59,253.69L532.42,254.16L532.25,254.64L532.08,255.11L531.9,255.58L531.73,256.05L531.56,256.53L531.38,257L531.21,257.47L531.03,257.94L530.86,258.41L530.68,258.88L530.5,259.35L530.32,259.82L530.14,260.29L529.95,260.76L529.76,261.23L529.55,261.68L529.31,262.12L528.9,262.3Z" fill="none" stroke="#9ab9e0" stroke-width="0.4"/>
<text x="511.4" y="220.6" font-size="6.5" font-family="'Liberation Serif','Times New Roman',serif" fill="#333" text-anchor="end">800</text>
<text x="511.4" y="235.2" font-size="6.5" font-family="'Liberation Serif','Times New Roman',serif" fill="#333" text-anchor="end">600</text>
<text x="511.4" y="249.7" font-size="6.5" font-family="'Liberation Serif','Times New Roman',serif" fill="#333" text-anchor="end">400</text>
<text x="511.4" y="264.5" font-size="6.5" font-family="'Liberation Serif','Times New Roman',serif" fill="#333" text-anchor="end">200</text>
<text transform="translate(493,240) rotate(-90)" font-size="6.6" font-family="'Liberation Serif','Times New Roman',serif" fill="#222" text-anchor="middle"><tspan font-style="italic">H</tspan> / (μm)</text>
<text x="519" y="280.5" font-size="6.5" font-family="'Liberation Serif','Times New Roman',serif" fill="#333" text-anchor="middle">1600</text>
<text x="562.4" y="287.6" font-size="6.5" font-family="'Liberation Serif','Times New Roman',serif" fill="#333" text-anchor="middle">1200</text>
<text x="605" y="294" font-size="6.5" font-family="'Liberation Serif','Times New Roman',serif" fill="#333" text-anchor="middle">800</text>
<text x="559.5" y="298.8" font-size="6.5" font-family="'Liberation Serif','Times New Roman',serif" fill="#222" text-anchor="middle"><tspan font-style="italic">P</tspan> / (W)</text>
<text x="633.9" y="284.1" font-size="6.5" font-family="'Liberation Serif','Times New Roman',serif" fill="#333" text-anchor="middle">3</text>
<text x="647.9" y="271.7" font-size="6.5" font-family="'Liberation Serif','Times New Roman',serif" fill="#333" text-anchor="middle">6</text>
<text x="660.8" y="259.1" font-size="6.5" font-family="'Liberation Serif','Times New Roman',serif" fill="#333" text-anchor="middle">9</text>
<text transform="translate(659,276) rotate(-42)" font-size="6.6" font-family="'Liberation Serif','Times New Roman',serif" fill="#222" text-anchor="middle"><tspan font-style="italic">I</tspan> / (mg·mm<tspan font-size="4.5" dy="-2.3">−2</tspan><tspan dy="2.3">)</tspan></text>
<line x1="521.6" y1="353.2" x2="563.2" y2="310.8" stroke="#e6e6e6" stroke-width="0.7"/>
<line x1="563.2" y1="310.8" x2="662" y2="326" stroke="#e6e6e6" stroke-width="0.7"/>
<line x1="662" y1="326" x2="663.6" y2="390" stroke="#e6e6e6" stroke-width="0.7"/>
<line x1="522.2" y1="353" x2="522.2" y2="414.4" stroke="#e6e6e6" stroke-width="0.7"/>
<line x1="522.2" y1="414.4" x2="605" y2="428" stroke="#e6e6e6" stroke-width="0.7"/>
<line x1="605" y1="428" x2="663.6" y2="390" stroke="#e6e6e6" stroke-width="0.7"/>
<path d="M531.3,390.2L531.59,390.53L531.86,390.86L532.14,391.2L532.41,391.54L532.69,391.87L532.97,392.19L533.27,392.52L533.57,392.83L533.87,393.14L534.2,393.43L534.52,393.71L534.87,393.98L535.21,394.24L535.58,394.48L535.94,394.71L536.31,394.94L536.68,395.16L537.06,395.39L537.43,395.6L537.81,395.81L538.19,396.02L538.58,396.22L538.96,396.42L539.35,396.61L539.74,396.8L540.13,397L540.53,397.18L540.92,397.36L541.32,397.53L541.72,397.7L542.12,397.86L542.53,398.02L542.93,398.17L543.34,398.31L543.76,398.43L544.18,398.55L544.6,398.64L545.03,398.72L545.46,398.79L545.89,398.85L546.32,398.91L546.75,398.95L547.18,398.99L547.62,399.02L548.05,399.05L548.48,399.09L548.91,399.12L549.35,399.16L549.78,399.21L550.21,399.27L550.64,399.32L551.07,399.34L551.5,399.28L551.92,399.17L552.35,399.11L552.75,399.23L553.03,399.56L553.24,399.94L553.41,400.34L553.53,400.75L553.65,401.17L553.74,401.59L553.82,402.02L553.9,402.45L553.98,402.87L554.05,403.3L554.11,403.73L554.17,404.16L554.23,404.59L554.29,405.02L554.35,405.45L554.4,405.88L554.46,406.31L554.51,406.74L554.57,407.18L554.62,407.61L554.68,408.04L554.73,408.47L554.79,408.9L554.85,409.33L554.91,409.76L554.97,410.19L555.04,410.62L555.11,411.04L555.19,411.47L555.29,411.89L555.38,412.32L555.51,412.73L555.64,413.15L555.8,413.55L555.98,413.95L556.18,414.33L556.46,414.66L556.84,414.83L557.24,414.7L557.52,414.36L557.69,413.96L557.81,413.55L557.92,413.13L558,412.7L558.08,412.28L558.16,411.85L558.23,411.42L558.3,410.99L558.38,410.57L558.46,410.14L558.53,409.71L558.62,409.29L558.71,408.86L558.81,408.44L558.93,408.02L559.04,407.6L559.18,407.19L559.34,406.79L559.51,406.39L559.7,406L559.9,405.61L560.1,405.23L560.3,404.84L560.51,404.46L560.72,404.08L560.94,403.71L561.17,403.34L561.41,402.98L561.65,402.62L561.92,402.28L562.19,401.93L562.49,401.62L562.79,401.31L563.12,401.03L563.47,400.78L563.85,400.56L564.25,400.4L564.66,400.29L565.1,400.26L565.53,400.26L565.96,400.33L566.39,400.4L566.8,400.53L567.21,400.67L567.62,400.81L568.02,400.98L568.42,401.15L568.82,401.33L569.21,401.52L569.6,401.71L569.98,401.9L570.37,402.11L570.75,402.31L571.13,402.52L571.52,402.72L571.9,402.93L572.28,403.13L572.67,403.33L573.05,403.53L573.44,403.72L573.83,403.92L574.21,404.13L574.58,404.36L574.94,404.6L575.28,404.87L575.59,405.17L575.88,405.49L576.16,405.82L576.43,406.17L576.68,406.52L576.92,406.89L577.15,407.25L577.36,407.63L577.58,408.01L577.78,408.39L577.98,408.78L578.18,409.16L578.37,409.55L578.56,409.94L578.75,410.33L578.93,410.73L579.11,411.12L579.29,411.52L579.47,411.91L579.65,412.31L579.83,412.7L580.01,413.1L580.19,413.49L580.37,413.89L580.55,414.28L580.73,414.68L580.91,415.08L581.08,415.47L581.25,415.87L581.42,416.27L581.59,416.67L581.75,417.07L581.91,417.48L582.07,417.88L582.23,418.29L582.38,418.69L582.54,419.1L582.7,419.5L583.17,419.37L583.65,419.25L584.12,419.14L584.6,419.02L585.07,418.9L585.54,418.77L586.01,418.64L586.48,418.48L586.94,418.32L587.4,418.14L587.85,417.95L588.28,417.72L588.71,417.49L589.11,417.21L589.51,416.93L589.88,416.61L590.25,416.29L590.6,415.95L590.96,415.61L591.3,415.26L591.65,414.91L591.99,414.57L592.34,414.22L592.7,413.89L593.06,413.55L593.43,413.23L593.81,412.92L594.19,412.62L594.59,412.35L595,412.07L595.42,411.82L595.84,411.57L596.26,411.32L596.69,411.09L597.12,410.86L597.56,410.63L597.99,410.41L598.43,410.19L598.87,409.98L599.31,409.77L599.76,409.56L600.2,409.36L600.65,409.16L601.1,408.96L601.55,408.77L602,408.59L602.46,408.4L602.91,408.23L603.37,408.05L603.83,407.88L604.29,407.72L604.75,407.56L605.22,407.4L605.69,407.27L606.16,407.15L606.64,407.05L607.12,406.97L607.61,406.9L608.09,406.85L608.58,406.8L609.07,406.76L609.56,406.73L610.05,406.69L610.53,406.65L611.02,406.6L611.51,406.55L611.99,406.46L612.47,406.38L612.95,406.26L613.42,406.13L613.89,405.99L614.34,405.79L614.78,405.59L615.22,405.38L615.64,405.13L616.06,404.87L616.47,404.61L616.87,404.32L617.26,404.03L617.66,403.74L618.03,403.43L618.41,403.12L618.78,402.8L619.15,402.48L619.51,402.15L619.87,401.82L620.24,401.49L620.59,401.15L620.94,400.8L621.29,400.46L621.63,400.12L621.98,399.77L622.32,399.42L622.66,399.07L623,398.71L623.34,398.36L623.68,398.01L624.01,397.65L624.35,397.3L624.69,396.94L625.03,396.59L625.36,396.23L625.69,395.87L626.03,395.51L626.36,395.15L626.69,394.79L627.01,394.42L627.33,394.05L627.65,393.68L627.97,393.31L628.28,392.94L628.6,392.56L628.91,392.19L629.23,391.81L629.54,391.43L629.85,391.05L630.16,390.67L630.46,390.29L630.77,389.91L631.08,389.53L631.39,389.15L631.69,388.77L632,388.39L632.31,388.01L632.61,387.62L632.92,387.24L633.23,386.86L633.53,386.48L633.84,386.1L634.15,385.72L634.46,385.34L634.77,384.96L635.08,384.59L635.39,384.21L635.71,383.83L636.02,383.46L636.34,383.08L636.65,382.71L636.97,382.34L637.29,381.96L637.61,381.59L637.92,381.22L638.24,380.85L638.56,380.47L638.88,380.1L639.19,379.73L639.51,379.36L639.83,378.99L640.15,378.61L640.46,378.24L640.78,377.87L641.1,377.49L641.41,377.12L641.73,376.74L642.04,376.37L642.36,375.99L642.67,375.62L642.98,375.24L643.29,374.86L643.6,374.48L643.91,374.1L644.22,373.72L644.52,373.34L644.83,372.95L645.13,372.57L645.43,372.19L645.73,371.8L646.03,371.41L646.32,371.02L646.62,370.63L646.91,370.24L647.21,369.84L647.5,369.45L647.79,369.06L648.08,368.66L648.37,368.27L648.65,367.87L648.94,367.48L649.23,367.08L649.52,366.68L649.8,366.28L650.09,365.89L650.37,365.49L650.65,365.09L650.94,364.69L651.22,364.29L651.51,363.89L651.79,363.49L652.07,363.09L652.35,362.69L652.64,362.29L652.92,361.9L653.2,361.5L653.48,361.1L653.77,360.7L654.05,360.3L654.33,359.9L654.62,359.5L654.9,359.1L654.43,358.93L653.97,358.77L653.5,358.61L653.03,358.44L652.57,358.28L652.1,358.12L651.63,357.95L651.16,357.79L650.7,357.63L650.23,357.46L649.76,357.3L649.3,357.13L648.83,356.97L648.37,356.8L647.9,356.63L647.43,356.47L646.97,356.3L646.5,356.13L646.04,355.96L645.57,355.79L645.11,355.62L644.65,355.44L644.18,355.27L643.72,355.1L643.26,354.92L642.8,354.74L642.33,354.57L641.87,354.39L641.41,354.21L640.95,354.03L640.49,353.85L640.03,353.67L639.57,353.49L639.11,353.31L638.65,353.12L638.19,352.94L637.73,352.76L637.27,352.58L636.81,352.39L636.35,352.21L635.89,352.03L635.43,351.84L634.97,351.66L634.51,351.48L634.05,351.29L633.59,351.11L633.13,350.92L632.67,350.74L632.21,350.56L631.75,350.37L631.29,350.19L630.84,350L630.38,349.82L629.92,349.63L629.46,349.45L629,349.26L628.54,349.08L628.08,348.89L627.62,348.71L627.16,348.53L626.7,348.34L626.24,348.16L625.78,347.97L625.32,347.79L624.86,347.61L624.41,347.42L623.95,347.24L623.49,347.06L623.03,346.88L622.57,346.7L622.11,346.51L621.65,346.33L621.19,346.15L620.72,345.97L620.26,345.78L619.8,345.6L619.35,345.42L618.89,345.24L618.43,345.05L617.97,344.87L617.51,344.69L617.05,344.5L616.59,344.32L616.13,344.14L615.67,343.95L615.21,343.77L614.75,343.58L614.29,343.39L613.83,343.21L613.38,343.02L612.92,342.83L612.46,342.64L612,342.45L611.55,342.26L611.09,342.07L610.64,341.87L610.18,341.68L609.73,341.48L609.28,341.28L608.82,341.09L608.37,340.89L607.92,340.69L607.46,340.49L607.01,340.28L606.56,340.08L606.11,339.88L605.66,339.67L605.22,339.45L604.77,339.24L604.33,339.02L603.89,338.79L603.45,338.55L603.02,338.31L602.6,338.05L602.18,337.79L601.77,337.51L601.37,337.22L600.99,336.91L600.65,336.55L600.33,336.17L600.04,335.77L599.78,335.35L599.53,334.92L599.28,334.5L599,334.09L598.69,333.7L598.35,333.35L597.98,333.01L597.62,332.67L597.26,332.34L596.89,332L596.52,331.68L596.13,331.37L595.73,331.09L595.31,330.83L594.88,330.58L594.42,330.39L593.96,330.21L593.48,330.08L593,329.97L592.51,329.91L592.02,329.86L591.52,329.86L591.03,329.85L590.53,329.87L590.04,329.89L589.55,329.91L589.05,329.95L588.56,329.98L588.07,330.02L587.57,330.05L587.08,330.08L586.58,330.11L586.09,330.13L585.6,330.16L585.1,330.16L584.61,330.15L584.11,330.12L583.62,330.06L583.13,329.98L582.66,329.84L582.19,329.68L581.74,329.48L581.3,329.26L580.87,329L580.47,328.72L580.08,328.42L579.7,328.09L579.34,327.76L578.99,327.41L578.64,327.05L578.3,326.7L577.97,326.33L577.67,325.94L577.43,325.51L577.24,325.05L577.08,324.58L576.91,324.12L576.7,323.67L576.46,323.24L576.21,322.81L575.97,322.38L575.72,321.95L575.47,321.52L575.22,321.1L574.97,320.67L574.7,320.25L574.44,319.84L574.16,319.43L573.86,319.03L573.54,318.65L573.2,318.3L572.79,318.01L572.34,317.81L571.87,317.67L571.38,317.59L570.89,317.56L570.39,317.54L569.9,317.5L569.49,317.63L569.07,317.74L568.65,317.86L568.24,317.99L567.84,318.16L567.45,318.36L567.1,318.61L566.79,318.9L566.51,319.23L566.26,319.59L566.04,319.97L565.84,320.35L565.65,320.73L565.47,321.13L565.29,321.53L565.13,321.93L564.98,322.33L564.83,322.74L564.69,323.15L564.55,323.56L564.42,323.97L564.29,324.39L564.16,324.8L564.05,325.22L563.94,325.64L563.84,326.06L563.77,326.49L563.69,326.92L563.62,327.34L563.56,327.77L563.5,328.2L563.44,328.63L563.38,329.06L563.31,329.49L563.25,329.92L563.18,330.35L563.1,330.77L563.02,331.2L562.93,331.62L562.82,332.04L562.71,332.46L562.56,332.87L562.41,333.27L562.22,333.66L562.02,334.05L561.8,334.42L561.57,334.79L561.31,335.13L561.05,335.48L560.77,335.81L560.48,336.14L560.18,336.45L559.88,336.76L559.56,337.06L559.25,337.35L558.93,337.64L558.61,337.93L558.28,338.22L557.96,338.51L557.62,338.78L557.28,339.04L556.92,339.3L556.56,339.54L556.2,339.77L555.83,340L555.46,340.22L555.09,340.45L554.71,340.67L554.34,340.89L553.97,341.11L553.6,341.34L553.24,341.58L552.87,341.81L552.5,342.03L552.13,342.25L551.75,342.46L551.37,342.68L550.99,342.89L550.62,343.1L550.25,343.33L549.88,343.55L549.52,343.8L549.17,344.06L548.84,344.34L548.54,344.64L548.25,344.97L547.99,345.32L547.76,345.68L547.56,346.07L547.39,346.47L547.25,346.88L547.14,347.29L547.04,347.72L546.95,348.14L546.87,348.57L546.78,348.99L546.7,349.42L546.61,349.84L546.54,350.27L546.47,350.69L546.4,351.12L546.34,351.55L546.29,351.98L546.24,352.41L546.19,352.84L546.14,353.27L546.1,353.71L546.05,354.14L546.01,354.57L545.96,355L545.92,355.43L545.87,355.86L545.82,356.29L545.77,356.72L545.72,357.15L545.67,357.58L545.61,358.01L545.55,358.44L545.49,358.87L545.42,359.3L545.34,359.72L545.26,360.15L545.17,360.57L545.06,360.99L544.95,361.41L544.81,361.82L544.65,362.22L544.48,362.62L544.26,363L544.05,363.37L543.79,363.72L543.53,364.07L543.24,364.39L542.95,364.71L542.64,365.02L542.34,365.33L542.04,365.64L541.75,365.96L541.47,366.3L541.23,366.65L540.99,367.02L540.79,367.4L540.59,367.79L540.41,368.18L540.23,368.57L540.07,368.97L539.9,369.38L539.75,369.78L539.6,370.19L539.44,370.59L539.29,371L539.14,371.4L538.98,371.81L538.83,372.21L538.66,372.61L538.49,373.01L538.32,373.41L538.15,373.81L537.97,374.2L537.79,374.6L537.61,374.99L537.43,375.39L537.25,375.78L537.07,376.18L536.89,376.57L536.72,376.96L536.54,377.36L536.36,377.76L536.18,378.15L536.01,378.55L535.84,378.95L535.66,379.34L535.49,379.74L535.33,380.14L535.16,380.54L534.99,380.94L534.83,381.34L534.67,381.74L534.5,382.15L534.34,382.55L534.18,382.95L534.02,383.35L533.86,383.75L533.69,384.16L533.53,384.56L533.37,384.96L533.21,385.36L533.05,385.77L532.89,386.17L532.73,386.57L532.58,386.98L532.42,387.38L532.26,387.78L532.1,388.19L531.94,388.59L531.78,388.99L531.62,389.39L531.46,389.8L531.3,390.2Z" fill="#f1f4f9"/>
<path d="M531.3,390.2L532.4,387.5L533.4,384.9L534.5,382.2L535.6,379.5L536.7,376.9L537.9,374.3L539.1,371.6L540.1,368.9L541.4,366.4L543.3,364.3L544.8,361.8L545.5,359.0L545.8,356.2L546.1,353.3L546.5,350.5L547.1,347.7L548.2,345.0L550.4,343.2L552.9,341.8L555.3,340.3L557.7,338.7L559.9,336.8L561.7,334.6L562.8,332.0L563.4,329.1L563.8,326.3L564.6,323.5L565.6,320.8L567.2,318.5L569.9,317.5M532.6,391.7L533.6,389.0L534.7,386.3L535.8,383.6L537.0,380.9L538.2,378.2L539.4,375.5L540.5,372.9L541.6,370.2L542.9,367.6L544.9,365.4L546.3,362.9L547.1,360.1L547.5,357.2L547.9,354.4L548.3,351.5L549.0,348.7L550.1,346.0L552.3,344.1L554.8,342.6L557.2,341.0L559.6,339.4L561.7,337.4L563.6,335.1L564.7,332.5L565.4,329.6L565.9,326.8L566.7,324.0L567.8,321.3L569.5,318.9L572.1,317.7M533.9,393.1L535.0,390.4L536.1,387.6L537.2,384.9L538.4,382.2L539.6,379.5L540.8,376.8L542.0,374.1L543.1,371.4L544.5,368.8L546.4,366.6L547.9,364.0L548.6,361.2L549.2,358.4L549.6,355.5L550.1,352.7L550.8,349.9L552.0,347.3L554.2,345.3L556.6,343.8L558.9,342.1L561.3,340.4L563.3,338.4L565.2,336.2L566.4,333.6L567.1,330.8L567.6,328.0L568.5,325.2L569.6,322.6L571.3,320.2L573.9,319.1M535.4,394.4L536.5,391.6L537.7,388.8L538.8,386.1L540.0,383.3L541.2,380.6L542.4,377.9L543.6,375.2L544.7,372.5L546.1,369.9L547.9,367.6L549.4,365.2L550.2,362.4L550.8,359.6L551.3,356.7L551.8,353.9L552.5,351.2L553.7,348.6L555.8,346.7L558.2,345.1L560.5,343.4L562.7,341.7L564.8,339.8L566.5,337.6L567.8,335.0L568.4,332.3L569.0,329.6L569.9,326.9L571.0,324.4L572.6,322.1L575.1,320.9M537.1,395.4L538.2,392.6L539.3,389.8L540.5,387.1L541.6,384.3L542.8,381.6L544.1,378.9L545.2,376.2L546.4,373.5L547.7,370.9L549.5,368.6L551.0,366.2L551.8,363.5L552.4,360.7L552.9,357.9L553.5,355.2L554.3,352.4L555.5,349.9L557.5,348.0L559.8,346.4L562.0,344.8L564.2,343.1L566.1,341.1L567.9,339.0L569.0,336.5L569.7,333.9L570.4,331.2L571.2,328.7L572.3,326.2L573.9,324.0L576.2,322.8M538.8,396.3L539.9,393.6L541.0,390.8L542.2,388.0L543.3,385.3L544.5,382.6L545.7,379.9L546.9,377.1L548.0,374.4L549.4,371.7L551.1,369.5L552.6,367.2L553.4,364.5L554.0,361.8L554.6,359.1L555.2,356.4L556.0,353.7L557.1,351.2L559.1,349.3L561.3,347.7L563.4,346.1L565.5,344.4L567.4,342.5L569.1,340.4L570.2,338.0L570.9,335.5L571.6,332.9L572.4,330.5L573.5,328.1L574.9,326.0L577.2,324.9M540.6,397.2L541.7,394.4L542.8,391.7L543.9,388.9L545.0,386.2L546.2,383.5L547.5,380.8L548.6,378.0L549.7,375.1L551.0,372.4L552.8,370.2L554.2,368.0L555.1,365.5L555.7,362.9L556.3,360.2L556.9,357.5L557.7,354.9L558.9,352.4L560.8,350.6L562.9,349.0L565.0,347.4L567.0,345.7L568.8,343.8L570.4,341.8L571.6,339.4L572.3,337.0L572.9,334.6L573.8,332.2L574.8,329.9L576.2,327.9L578.3,326.7M542.4,398.0L543.5,395.2L544.6,392.5L545.7,389.7L546.8,387.0L548.0,384.3L549.2,381.6L550.4,378.7L551.5,375.6L552.8,372.8L554.5,370.7L555.9,368.7L556.7,366.4L557.4,363.9L558.1,361.2L558.8,358.5L559.5,355.9L560.7,353.5L562.6,351.7L564.6,350.1L566.6,348.5L568.6,346.9L570.4,345.0L572.0,343.0L573.2,340.7L573.9,338.3L574.6,335.9L575.4,333.6L576.5,331.4L577.9,329.4L580.0,328.3M544.3,398.6L545.3,395.8L546.4,393.1L547.5,390.4L548.6,387.7L549.8,385.0L551.0,382.3L552.1,379.3L553.2,376.0L554.5,373.1L556.2,371.1L557.6,369.4L558.5,367.2L559.2,364.7L559.9,362.1L560.6,359.3L561.4,356.6L562.6,354.2L564.5,352.5L566.5,351.0L568.4,349.5L570.4,347.9L572.1,346.0L573.7,344.0L574.9,341.8L575.7,339.4L576.4,337.1L577.3,334.8L578.4,332.6L579.8,330.7L581.8,329.5M546.2,398.9L547.2,396.2L548.3,393.5L549.4,390.9L550.5,388.2L551.6,385.6L552.8,382.9L553.9,379.8L555.0,376.5L556.3,373.5L558.0,371.6L559.4,370.0L560.3,367.9L561.0,365.5L561.8,362.6L562.5,359.7L563.4,356.9L564.6,354.5L566.4,352.9L568.4,351.6L570.3,350.2L572.2,348.6L574.0,346.7L575.6,344.7L576.8,342.5L577.6,340.1L578.4,337.8L579.4,335.5L580.5,333.3L582.0,331.3L584.0,330.1M548.1,399.1L549.2,396.5L550.2,393.8L551.2,391.2L552.3,388.6L553.4,386.0L554.6,383.4L555.8,380.4L556.9,377.2L558.1,374.3L559.8,372.4L561.1,370.7L562.1,368.6L562.9,366.0L563.7,363.0L564.5,359.7L565.4,356.7L566.6,354.3L568.4,353.0L570.3,351.9L572.3,350.6L574.1,349.1L575.9,347.2L577.5,345.1L578.8,342.8L579.7,340.5L580.5,338.1L581.6,335.8L582.7,333.5L584.2,331.5L586.2,330.1M550.1,399.3L551.1,396.7L552.1,394.2L553.1,391.6L554.2,389.0L555.3,386.5L556.4,384.0L557.6,381.2L558.7,378.3L560.0,375.6L561.6,373.6L562.9,371.7L563.9,369.4L564.7,366.6L565.6,363.2L566.4,359.5L567.4,356.1L568.6,353.8L570.4,352.7L572.3,352.1L574.2,351.0L576.1,349.5L577.8,347.6L579.4,345.4L580.7,343.1L581.7,340.7L582.6,338.3L583.7,335.9L584.9,333.6L586.4,331.5L588.4,330.0M552.0,399.2L553.0,396.7L554.0,394.2L555.0,391.7L556.0,389.3L557.1,386.8L558.3,384.4L559.4,382.0L560.5,379.3L561.8,376.9L563.3,374.8L564.7,372.7L565.7,370.1L566.6,367.1L567.4,363.4L568.3,359.3L569.3,355.6L570.6,353.3L572.3,352.5L574.2,352.2L576.1,351.3L578.0,349.9L579.7,347.9L581.4,345.8L582.7,343.4L583.7,341.0L584.7,338.5L585.9,336.1L587.1,333.7L588.7,331.5L590.7,329.9M553.4,400.3L554.4,397.8L555.4,395.3L556.4,392.8L557.5,390.3L558.6,387.9L559.7,385.6L560.9,383.4L562.0,381.1L563.3,378.8L564.9,376.6L566.3,374.2L567.4,371.3L568.3,368.0L569.2,364.1L570.2,359.6L571.2,355.7L572.5,353.4L574.2,352.8L576.1,352.6L578.0,351.9L579.9,350.4L581.6,348.5L583.3,346.3L584.6,343.9L585.7,341.4L586.8,338.9L588.0,336.4L589.3,334.0L590.9,331.7L592.9,330.0M553.8,402.2L554.9,399.6L556.1,397.1L557.2,394.5L558.3,392.0L559.5,389.5L560.7,387.3L562.0,385.2L563.2,383.2L564.6,381.1L566.2,378.8L567.6,376.1L568.8,372.9L569.8,369.4L570.8,365.3L571.8,360.8L572.9,356.8L574.3,354.4L576.0,353.8L577.9,353.6L579.8,352.8L581.7,351.3L583.4,349.3L585.1,347.1L586.5,344.7L587.7,342.2L588.8,339.7L590.1,337.2L591.4,334.8L593.0,332.5L595.0,330.7M554.2,404.1L555.4,401.5L556.6,398.9L557.8,396.2L559.0,393.6L560.3,391.2L561.6,389.0L562.9,387.2L564.2,385.3L565.7,383.4L567.4,381.0L568.9,378.0L570.1,374.6L571.2,370.9L572.3,366.9L573.4,362.6L574.6,358.8L576.0,356.4L577.7,355.5L579.6,355.1L581.5,354.1L583.3,352.5L585.1,350.4L586.8,348.2L588.2,345.8L589.4,343.3L590.6,340.9L591.9,338.4L593.3,336.0L594.9,333.8L596.8,332.0M554.4,406.0L555.7,403.4L557.1,400.7L558.4,397.9L559.7,395.3L561.1,392.9L562.5,390.8L563.9,389.0L565.3,387.4L566.8,385.5L568.5,383.1L570.1,379.9L571.4,376.3L572.6,372.6L573.7,368.8L574.9,364.8L576.1,361.3L577.6,358.9L579.4,357.6L581.2,356.8L583.1,355.5L584.9,353.8L586.7,351.7L588.4,349.4L589.8,347.1L591.1,344.7L592.3,342.2L593.6,339.9L595.0,337.5L596.6,335.3L598.5,333.5M554.7,408.0L556.1,405.2L557.5,402.5L558.9,399.7L560.3,397.0L561.8,394.5L563.3,392.5L564.8,390.8L566.3,389.3L567.9,387.5L569.6,385.0L571.3,381.7L572.6,378.0L573.9,374.3L575.1,370.7L576.4,367.1L577.7,363.9L579.1,361.4L580.9,359.8L582.7,358.5L584.6,357.0L586.4,355.1L588.1,353.0L589.8,350.8L591.2,348.5L592.5,346.1L593.7,343.8L595.0,341.5L596.4,339.2L597.9,337.1L599.8,335.3M554.9,409.9L556.5,407.1L558.0,404.3L559.5,401.4L561.0,398.6L562.6,396.1L564.2,394.0L565.7,392.4L567.3,390.9L569.0,389.1L570.8,386.6L572.5,383.2L573.9,379.5L575.3,375.8L576.5,372.4L577.9,369.2L579.2,366.2L580.7,363.6L582.4,361.7L584.3,360.0L586.1,358.3L587.9,356.4L589.6,354.3L591.3,352.0L592.7,349.7L594.0,347.5L595.2,345.3L596.5,343.1L597.9,340.9L599.4,338.8L601.1,337.0M555.3,411.9L556.9,409.0L558.6,406.1L560.2,403.1L561.8,400.3L563.4,397.7L565.1,395.5L566.7,393.7L568.4,392.1L570.1,390.2L572.0,387.7L573.8,384.4L575.3,380.7L576.7,377.2L578.1,373.9L579.4,370.8L580.8,367.8L582.4,365.1L584.1,362.9L586.0,361.1L587.8,359.4L589.6,357.4L591.3,355.2L593.0,352.8L594.5,350.5L595.8,348.4L597.0,346.4L598.4,344.3L599.7,342.1L601.2,340.0L603.0,338.3M555.9,413.7L557.6,410.8L559.4,407.8L561.0,404.8L562.7,401.8L564.4,399.1L566.1,396.8L567.9,394.8L569.6,393.0L571.4,391.0L573.3,388.5L575.2,385.3L576.7,381.8L578.2,378.4L579.6,375.2L581.1,372.1L582.5,368.9L584.1,365.9L585.9,363.5L587.7,361.7L589.6,360.1L591.4,358.2L593.1,355.9L594.8,353.4L596.3,351.0L597.6,349.1L598.9,347.3L600.3,345.3L601.7,343.2L603.2,341.1L605.0,339.3M557.2,414.7L559.0,411.8L560.8,408.8L562.4,405.7L564.1,402.8L565.8,400.0L567.6,397.6L569.4,395.4L571.1,393.4L573.0,391.2L574.9,388.8L576.8,385.8L578.4,382.5L579.9,379.3L581.4,376.2L582.9,373.0L584.4,369.5L586.0,366.2L587.8,363.5L589.6,361.8L591.4,360.5L593.2,358.9L595.0,356.6L596.6,353.9L598.2,351.5L599.6,349.8L600.9,348.1L602.3,346.3L603.7,344.2L605.3,342.1L607.0,340.3M558.0,412.9L559.8,410.2L561.6,407.5L563.4,404.6L565.1,401.8L566.9,399.2L568.7,396.8L570.6,394.6L572.4,392.5L574.3,390.4L576.3,388.1L578.2,385.4L579.9,382.4L581.5,379.5L583.0,376.5L584.6,373.2L586.1,369.5L587.7,365.8L589.5,363.0L591.4,361.6L593.2,360.7L595.0,359.4L596.8,357.3L598.5,354.6L600.0,352.3L601.5,350.6L602.9,349.0L604.3,347.2L605.8,345.1L607.3,343.0L609.0,341.2M558.3,411.0L560.3,408.5L562.2,406.0L564.0,403.3L565.9,400.7L567.7,398.2L569.7,395.9L571.6,393.8L573.5,391.7L575.5,389.6L577.6,387.5L579.5,385.0L581.3,382.4L583.0,379.7L584.6,376.8L586.2,373.5L587.8,369.5L589.5,365.5L591.3,362.7L593.2,361.5L595.0,361.0L596.8,360.1L598.6,358.1L600.3,355.6L601.9,353.3L603.4,351.6L604.8,350.0L606.3,348.1L607.8,346.0L609.4,344.0L611.1,342.1M558.7,409.1L560.8,406.9L562.8,404.6L564.7,402.1L566.6,399.6L568.6,397.3L570.6,395.1L572.6,393.0L574.6,391.0L576.7,389.0L578.8,387.0L580.9,384.7L582.7,382.3L584.5,379.8L586.2,377.1L587.8,373.8L589.5,369.9L591.2,365.8L593.1,363.0L594.9,361.8L596.8,361.6L598.6,360.9L600.4,359.2L602.2,356.9L603.8,354.6L605.3,352.8L606.8,351.0L608.3,349.1L609.9,347.0L611.4,344.9L613.2,342.9M559.2,407.2L561.4,405.2L563.5,403.1L565.5,400.9L567.5,398.6L569.5,396.5L571.6,394.4L573.7,392.4L575.8,390.4L577.9,388.5L580.2,386.6L582.3,384.5L584.2,382.2L586.0,379.9L587.8,377.4L589.5,374.4L591.2,370.6L593.0,366.8L594.9,364.0L596.7,362.9L598.6,362.5L600.5,361.8L602.3,360.3L604.1,358.1L605.7,356.0L607.3,354.0L608.8,352.1L610.4,350.0L611.9,347.9L613.5,345.7L615.2,343.8M560.0,405.4L562.3,403.7L564.5,401.8L566.5,399.8L568.5,397.6L570.7,395.7L572.8,393.8L575.0,391.9L577.1,390.0L579.3,388.1L581.6,386.3L583.8,384.2L585.8,382.0L587.6,379.9L589.4,377.7L591.2,375.1L593.0,371.8L594.8,368.3L596.7,365.8L598.6,364.5L600.4,363.8L602.3,362.9L604.2,361.4L605.9,359.3L607.6,357.2L609.2,355.1L610.8,353.0L612.4,350.9L614.0,348.7L615.6,346.6L617.3,344.6M561.0,403.7L563.3,402.2L565.6,400.6L567.6,398.7L569.7,396.7L571.9,394.9L574.1,393.2L576.3,391.4L578.5,389.6L580.8,387.8L583.1,386.0L585.3,383.9L587.4,381.8L589.3,379.8L591.1,378.0L593.0,375.8L594.8,373.1L596.6,370.2L598.5,367.8L600.4,366.4L602.3,365.3L604.2,364.1L606.0,362.4L607.8,360.4L609.6,358.3L611.2,356.1L612.8,354.0L614.4,351.8L616.0,349.6L617.7,347.5L619.4,345.4M562.1,402.1L564.5,400.8L566.8,399.4L568.9,397.7L571.0,395.9L573.2,394.3L575.5,392.7L577.7,391.1L580.0,389.4L582.3,387.6L584.7,385.8L586.9,383.7L589.0,381.5L591.0,379.8L592.9,378.2L594.7,376.5L596.6,374.4L598.4,372.0L600.4,369.8L602.3,368.2L604.2,366.7L606.1,365.2L607.9,363.4L609.8,361.4L611.5,359.3L613.2,357.1L614.8,354.9L616.4,352.7L618.1,350.5L619.7,348.3L621.5,346.3M563.5,400.7L565.9,399.7L568.3,398.5L570.4,396.9L572.5,395.3L574.7,393.8L577.0,392.3L579.3,390.9L581.6,389.3L583.9,387.6L586.3,385.7L588.7,383.6L590.8,381.5L592.8,379.9L594.7,378.6L596.6,377.3L598.5,375.6L600.3,373.5L602.2,371.5L604.2,369.8L606.1,368.1L608.0,366.3L609.8,364.4L611.7,362.3L613.5,360.2L615.2,358.0L616.8,355.8L618.5,353.6L620.1,351.4L621.8,349.2L623.6,347.1M565.4,400.3L567.8,399.4L570.1,398.3L572.2,396.8L574.3,395.2L576.5,393.8L578.8,392.5L581.1,391.1L583.4,389.6L585.8,387.9L588.2,386.1L590.5,384.0L592.7,381.9L594.7,380.4L596.6,379.3L598.5,378.2L600.4,376.7L602.3,374.9L604.2,373.0L606.1,371.1L608.0,369.3L609.9,367.4L611.8,365.4L613.6,363.3L615.4,361.1L617.1,358.9L618.8,356.7L620.5,354.5L622.2,352.3L623.9,350.1L625.6,347.9M567.3,400.7L569.7,399.9L572.0,398.8L574.1,397.4L576.2,395.9L578.4,394.5L580.6,393.2L582.9,391.8L585.2,390.4L587.6,388.8L590.1,387.1L592.4,385.0L594.6,383.0L596.6,381.5L598.5,380.4L600.4,379.3L602.3,377.9L604.2,376.2L606.1,374.3L608.0,372.5L609.9,370.6L611.8,368.6L613.7,366.5L615.6,364.3L617.4,362.1L619.1,359.9L620.9,357.6L622.6,355.4L624.3,353.2L626.0,350.9L627.7,348.7M569.1,401.5L571.5,400.7L573.8,399.7L575.9,398.2L577.9,396.7L580.1,395.3L582.4,394.0L584.7,392.7L587.0,391.3L589.5,389.9L591.9,388.3L594.3,386.4L596.4,384.5L598.5,382.9L600.4,381.7L602.4,380.6L604.3,379.1L606.2,377.4L608.1,375.6L609.9,373.7L611.8,372.0L613.7,370.0L615.6,367.7L617.5,365.4L619.3,363.1L621.1,360.8L622.9,358.6L624.6,356.3L626.3,354.0L628.0,351.8L629.8,349.6M570.8,402.4L573.2,401.6L575.6,400.6L577.6,399.2L579.7,397.6L581.8,396.3L584.1,395.0L586.5,393.7L588.8,392.4L591.3,391.1L593.7,389.8L596.1,388.1L598.3,386.2L600.4,384.6L602.3,383.3L604.3,381.9L606.2,380.4L608.1,378.6L610.0,376.8L611.9,375.0L613.8,373.4L615.7,371.4L617.6,369.0L619.5,366.5L621.3,364.1L623.1,361.8L624.9,359.5L626.6,357.2L628.4,354.9L630.1,352.7L631.9,350.4M572.6,403.3L575.0,402.6L577.3,401.6L579.4,400.1L581.4,398.6L583.6,397.2L585.9,396.0L588.2,394.7L590.6,393.5L593.0,392.4L595.6,391.3L598.0,389.8L600.2,388.0L602.3,386.4L604.2,384.8L606.2,383.3L608.1,381.6L610.0,379.8L611.9,377.9L613.8,376.3L615.7,374.7L617.6,372.8L619.5,370.3L621.4,367.6L623.3,365.1L625.1,362.7L626.9,360.4L628.7,358.1L630.4,355.8L632.2,353.5L633.9,351.3M574.3,404.2L576.7,403.5L579.1,402.6L581.1,401.1L583.1,399.5L585.3,398.2L587.6,396.9L590.0,395.8L592.4,394.6L594.9,393.6L597.4,392.7L599.8,391.4L602.1,389.8L604.2,388.1L606.2,386.4L608.1,384.7L610.1,382.9L612.0,380.9L613.9,379.1L615.7,377.4L617.6,375.8L619.6,373.9L621.5,371.3L623.4,368.6L625.3,366.0L627.1,363.7L628.9,361.4L630.7,359.0L632.5,356.7L634.2,354.4L636.0,352.1M575.8,405.4L578.3,404.8L580.6,403.8L582.7,402.3L584.7,400.7L586.9,399.3L589.2,398.1L591.6,396.9L594.0,395.8L596.6,395.0L599.2,394.2L601.6,393.1L603.9,391.5L606.0,389.7L608.0,387.9L610.0,386.1L612.0,384.1L613.9,382.1L615.8,380.2L617.7,378.4L619.6,376.7L621.5,374.7L623.4,372.2L625.4,369.5L627.3,367.0L629.1,364.6L630.9,362.3L632.7,360.0L634.5,357.6L636.3,355.2L638.1,352.9M577.0,407.0L579.5,406.3L581.9,405.3L584.0,403.8L586.0,402.1L588.2,400.7L590.6,399.4L593.1,398.3L595.6,397.2L598.2,396.4L600.8,395.8L603.3,394.7L605.7,393.1L607.8,391.3L609.8,389.4L611.8,387.4L613.8,385.4L615.8,383.4L617.7,381.3L619.6,379.3L621.5,377.5L623.4,375.4L625.4,373.0L627.3,370.4L629.3,367.9L631.1,365.6L633.0,363.2L634.8,360.9L636.6,358.5L638.4,356.1L640.2,353.7M578.0,408.7L580.5,408.0L583.0,407.0L585.1,405.4L587.2,403.6L589.5,402.1L591.9,400.9L594.4,399.7L597.0,398.6L599.7,397.9L602.4,397.3L605.0,396.3L607.4,394.7L609.5,392.8L611.6,390.9L613.7,388.8L615.7,386.7L617.6,384.6L619.6,382.4L621.5,380.3L623.4,378.3L625.4,376.1L627.3,373.7L629.3,371.3L631.2,368.9L633.1,366.5L635.0,364.2L636.8,361.8L638.7,359.4L640.5,356.9L642.3,354.5M578.8,410.5L581.5,409.8L584.0,408.7L586.2,407.0L588.3,405.2L590.7,403.6L593.2,402.3L595.8,401.1L598.4,400.1L601.1,399.4L603.9,398.8L606.6,397.8L609.0,396.2L611.3,394.3L613.4,392.3L615.5,390.2L617.5,388.1L619.5,385.8L621.4,383.6L623.4,381.4L625.3,379.2L627.3,376.9L629.3,374.6L631.3,372.2L633.2,369.9L635.2,367.5L637.0,365.1L638.9,362.7L640.7,360.2L642.5,357.8L644.4,355.3M579.6,412.3L582.4,411.5L585.0,410.4L587.2,408.6L589.4,406.7L591.8,405.2L594.4,403.8L597.1,402.6L599.8,401.5L602.6,400.8L605.5,400.3L608.2,399.4L610.7,397.7L613.0,395.8L615.1,393.7L617.3,391.6L619.3,389.4L621.3,387.1L623.3,384.8L625.3,382.5L627.2,380.2L629.2,377.9L631.2,375.6L633.3,373.2L635.2,370.8L637.2,368.5L639.1,366.0L641.0,363.6L642.8,361.1L644.6,358.6L646.5,356.1M580.4,414.1L583.3,413.3L586.0,412.2L588.3,410.3L590.5,408.3L593.0,406.7L595.6,405.3L598.4,404.1L601.2,403.0L604.1,402.3L607.0,401.9L609.9,400.9L612.4,399.2L614.7,397.3L616.9,395.1L619.1,392.9L621.2,390.7L623.2,388.4L625.2,386.0L627.2,383.7L629.2,381.3L631.2,378.9L633.2,376.6L635.3,374.2L637.3,371.8L639.2,369.4L641.1,366.9L643.0,364.4L644.9,361.9L646.7,359.4L648.6,356.9M581.2,415.9L584.2,415.1L587.0,413.9L589.3,411.9L591.6,409.9L594.1,408.2L596.9,406.8L599.7,405.5L602.5,404.4L605.5,403.8L608.6,403.4L611.5,402.4L614.1,400.8L616.5,398.7L618.7,396.6L620.9,394.3L623.0,392.0L625.1,389.7L627.1,387.3L629.1,384.8L631.1,382.4L633.1,380.0L635.2,377.6L637.3,375.2L639.3,372.8L641.3,370.3L643.2,367.8L645.1,365.3L647.0,362.7L648.8,360.2L650.7,357.6M582.0,417.7L585.0,416.9L587.9,415.6L590.3,413.6L592.6,411.5L595.2,409.7L598.0,408.3L600.9,407.0L603.9,405.9L607.0,405.3L610.1,404.9L613.1,404.0L615.8,402.3L618.2,400.2L620.5,398.0L622.7,395.7L624.9,393.4L627.0,391.0L629.0,388.5L631.0,386.0L633.0,383.6L635.1,381.1L637.2,378.7L639.3,376.2L641.3,373.8L643.3,371.3L645.3,368.7L647.2,366.2L649.1,363.6L650.9,361.0L652.8,358.4M582.7,419.5L585.8,418.7L588.8,417.4L591.3,415.3L593.6,413.1L596.3,411.3L599.2,409.8L602.2,408.5L605.2,407.4L608.4,406.8L611.7,406.5L614.8,405.6L617.5,403.9L620.0,401.7L622.3,399.5L624.5,397.1L626.7,394.7L628.8,392.3L630.9,389.8L632.9,387.2L635.0,384.7L637.1,382.2L639.2,379.8L641.3,377.3L643.4,374.8L645.4,372.2L647.3,369.7L649.3,367.0L651.1,364.4L653.0,361.7L654.9,359.1M531.3,390.2L533.2,392.4L535.3,394.3L537.8,395.8L540.3,397.1L543.0,398.2L545.8,398.8L548.7,399.1L551.5,399.3L553.5,400.6L554.1,403.4L554.5,406.3L554.8,409.2L555.3,412.0L556.4,414.6L558.0,412.9L558.5,410.1L559.1,407.3L560.4,404.7L561.9,402.3L564.1,400.5L566.9,400.6L569.6,401.7L572.1,403.0L574.7,404.4L576.6,406.5L578.1,409.0L579.3,411.6L580.5,414.2L581.6,416.8L582.7,419.5M532.0,388.4L533.9,390.5L536.1,392.4L538.5,393.9L541.1,395.2L543.7,396.3L546.5,397.0L549.4,397.3L552.2,397.6L554.2,398.9L554.9,401.7L555.4,404.5L555.9,407.2L556.4,410.0L557.6,412.6L559.2,411.1L559.8,408.5L560.6,405.9L561.9,403.6L563.5,401.4L565.8,399.8L568.6,400.0L571.2,401.2L573.8,402.6L576.3,404.0L578.3,406.0L579.8,408.5L581.2,411.1L582.4,413.7L583.7,416.3L584.8,419.0M532.7,386.6L534.7,388.7L536.8,390.5L539.3,392.0L541.8,393.3L544.5,394.4L547.2,395.2L550.1,395.6L552.9,395.9L554.9,397.2L555.7,399.9L556.3,402.6L556.9,405.3L557.6,408.0L558.8,410.6L560.5,409.2L561.2,406.9L562.1,404.6L563.5,402.5L565.2,400.5L567.4,399.1L570.2,399.4L572.8,400.6L575.4,402.0L577.9,403.5L580.0,405.5L581.6,408.0L583.0,410.5L584.4,413.1L585.7,415.7L587.0,418.3M533.5,384.7L535.4,386.8L537.6,388.6L540.1,390.1L542.6,391.4L545.2,392.6L548.0,393.3L550.8,393.8L553.5,394.2L555.6,395.5L556.5,398.1L557.2,400.8L557.9,403.4L558.7,406.1L560.0,408.5L561.7,407.3L562.6,405.2L563.5,403.1L565.0,401.2L566.7,399.5L569.0,398.2L571.7,398.6L574.4,399.9L576.9,401.3L579.5,402.7L581.6,404.8L583.2,407.2L584.7,409.7L586.2,412.2L587.6,414.7L588.9,417.3M534.2,382.9L536.2,384.9L538.4,386.7L540.8,388.2L543.4,389.5L546.0,390.7L548.7,391.5L551.5,392.0L554.2,392.5L556.3,393.8L557.3,396.4L558.1,398.9L558.9,401.5L559.8,404.0L561.2,406.4L562.9,405.4L563.8,403.5L564.9,401.6L566.4,399.9L568.2,398.3L570.4,397.2L573.2,397.6L575.8,398.9L578.4,400.3L580.9,401.7L583.0,403.7L584.7,406.1L586.2,408.5L587.8,410.9L589.2,413.4L590.6,415.9M534.9,381.1L536.9,383.1L539.2,384.9L541.6,386.3L544.1,387.7L546.7,388.9L549.4,389.7L552.2,390.3L554.9,390.7L557.0,392.1L558.1,394.6L559.0,397.1L559.9,399.6L560.9,402.0L562.3,404.3L564.1,403.4L565.1,401.7L566.2,400.0L567.8,398.5L569.6,397.1L571.8,396.1L574.6,396.6L577.2,397.8L579.7,399.2L582.2,400.6L584.4,402.6L586.1,404.8L587.7,407.2L589.2,409.5L590.7,411.9L592.2,414.4M535.7,379.3L537.7,381.2L540.0,383.0L542.4,384.5L544.9,385.8L547.5,387.0L550.2,387.9L552.9,388.5L555.6,389.0L557.7,390.4L558.9,392.8L559.9,395.3L560.9,397.7L562.0,400.1L563.5,402.3L565.3,401.5L566.4,400.0L567.6,398.5L569.2,397.1L571.0,395.9L573.3,395.0L576.0,395.6L578.6,396.8L581.1,398.2L583.6,399.6L585.8,401.5L587.5,403.7L589.2,405.9L590.8,408.2L592.3,410.5L593.9,412.9M536.5,377.5L538.5,379.4L540.8,381.2L543.2,382.6L545.7,384.0L548.3,385.2L551.0,386.1L553.7,386.7L556.4,387.4L558.5,388.8L559.7,391.2L560.8,393.6L561.9,396.0L563.1,398.3L564.6,400.4L566.5,399.7L567.7,398.3L569.0,397.0L570.6,395.8L572.5,394.7L574.8,394.0L577.5,394.6L580.1,395.9L582.6,397.3L585.1,398.7L587.3,400.5L589.1,402.7L590.8,404.9L592.5,407.1L594.1,409.4L595.7,411.7M537.3,375.7L539.4,377.6L541.6,379.3L544.1,380.8L546.6,382.1L549.1,383.3L551.8,384.3L554.5,385.0L557.2,385.7L559.3,387.2L560.6,389.6L561.8,392.1L563.0,394.5L564.2,396.7L565.8,398.7L567.7,398.0L569.0,396.8L570.4,395.6L572.1,394.5L574.0,393.6L576.3,393.1L579.0,393.7L581.6,395.0L584.1,396.4L586.7,397.8L588.9,399.6L590.8,401.7L592.5,403.9L594.2,406.1L596.0,408.3L597.6,410.6M538.1,373.9L540.2,375.8L542.5,377.5L544.9,379.0L547.4,380.3L549.9,381.5L552.6,382.4L555.3,383.2L557.9,384.0L560.1,385.6L561.5,388.2L562.8,390.8L564.0,393.2L565.4,395.3L567.1,397.1L569.0,396.5L570.4,395.2L571.8,394.2L573.6,393.3L575.6,392.5L577.9,392.1L580.6,392.8L583.2,394.1L585.7,395.5L588.3,397.0L590.5,398.8L592.4,400.9L594.3,403.0L596.1,405.2L597.9,407.4L599.6,409.6M538.9,372.1L541.0,373.9L543.3,375.6L545.7,377.1L548.2,378.4L550.7,379.5L553.4,380.3L556.0,381.2L558.7,382.3L560.9,384.1L562.4,386.9L563.7,389.6L565.1,392.0L566.5,394.1L568.3,395.7L570.2,395.0L571.7,393.8L573.2,392.8L575.1,392.0L577.1,391.4L579.5,391.1L582.1,391.9L584.8,393.2L587.3,394.7L589.9,396.2L592.2,398.0L594.2,400.1L596.1,402.2L597.9,404.4L599.8,406.5L601.7,408.7M539.6,370.3L541.7,372.1L544.0,373.8L546.5,375.2L548.9,376.4L551.5,377.3L554.1,378.1L556.8,379.1L559.5,380.4L561.7,382.6L563.3,385.6L564.7,388.5L566.1,391.0L567.6,393.0L569.5,394.4L571.5,393.5L573.0,392.4L574.7,391.4L576.6,390.8L578.6,390.3L581.0,390.1L583.7,390.9L586.3,392.3L588.9,393.9L591.5,395.4L593.8,397.3L595.9,399.3L597.9,401.4L599.8,403.6L601.8,405.7L603.7,407.9M540.3,368.5L542.5,370.2L544.8,371.9L547.2,373.4L549.7,374.5L552.3,375.2L554.9,375.8L557.6,376.9L560.2,378.6L562.5,381.1L564.1,384.3L565.7,387.4L567.2,390.0L568.8,391.9L570.7,393.0L572.7,392.1L574.4,390.9L576.1,390.1L578.1,389.5L580.2,389.1L582.6,389.0L585.3,389.9L588.0,391.4L590.6,393.0L593.2,394.6L595.5,396.6L597.7,398.6L599.7,400.8L601.8,402.9L603.8,405.1L605.8,407.2M541.2,366.7L543.4,368.5L545.7,370.1L548.2,371.6L550.6,372.6L553.1,373.2L555.8,373.8L558.4,375.0L561.1,376.9L563.4,379.5L565.1,382.9L566.7,386.1L568.3,388.8L570.0,390.6L571.9,391.6L574.0,390.7L575.8,389.6L577.6,388.8L579.6,388.3L581.8,387.9L584.2,387.9L586.9,388.8L589.6,390.4L592.2,392.2L594.9,394.0L597.3,396.0L599.5,398.2L601.6,400.3L603.8,402.5L605.9,404.6L608.0,406.9M542.4,365.2L544.7,366.9L547.0,368.6L549.3,370.0L551.8,371.1L554.3,371.7L556.9,372.3L559.5,373.5L562.1,375.4L564.4,378.1L566.2,381.4L567.9,384.6L569.5,387.3L571.2,389.0L573.2,390.0L575.4,389.2L577.2,388.2L579.1,387.5L581.2,387.0L583.4,386.7L585.9,386.7L588.6,387.7L591.3,389.4L593.9,391.5L596.6,393.4L599.1,395.6L601.4,397.8L603.6,400.0L605.8,402.2L608.0,404.4L610.2,406.7M543.7,363.8L546.0,365.4L548.2,367.1L550.6,368.5L552.9,369.7L555.4,370.4L558.0,371.1L560.6,372.3L563.2,374.1L565.5,376.5L567.3,379.7L569.1,382.7L570.7,385.3L572.5,387.1L574.6,388.1L576.8,387.5L578.6,386.7L580.6,386.2L582.7,385.7L585.0,385.3L587.5,385.3L590.2,386.4L592.9,388.3L595.6,390.6L598.3,392.8L600.8,395.1L603.2,397.3L605.5,399.6L607.8,401.8L610.1,404.1L612.4,406.4M544.7,362.1L547.0,363.7L549.2,365.3L551.5,366.8L553.9,368.1L556.3,369.1L558.9,370.0L561.5,371.1L564.1,372.6L566.5,374.8L568.3,377.6L570.1,380.5L571.9,383.0L573.7,384.8L575.8,386.0L578.1,385.7L580.0,385.1L582.0,384.7L584.2,384.3L586.5,383.9L589.1,383.9L591.8,385.0L594.6,387.0L597.3,389.5L600.0,391.9L602.6,394.3L605.0,396.6L607.4,398.9L609.7,401.1L612.1,403.4L614.5,405.7M545.3,360.2L547.5,361.8L549.8,363.5L552.2,365.0L554.5,366.4L557.0,367.6L559.6,368.7L562.2,369.7L564.8,371.0L567.2,372.9L569.2,375.4L571.0,378.0L572.8,380.4L574.8,382.3L576.9,383.7L579.2,383.7L581.3,383.4L583.3,383.1L585.6,382.8L588.0,382.4L590.5,382.4L593.3,383.5L596.1,385.7L598.8,388.3L601.6,390.8L604.2,393.3L606.6,395.6L609.1,397.8L611.5,400.1L614.0,402.3L616.4,404.6M545.6,358.3L547.9,359.8L550.3,361.5L552.6,363.1L555.0,364.7L557.5,366.0L560.1,367.2L562.8,368.1L565.5,369.2L567.9,370.8L569.9,373.1L571.9,375.5L573.8,377.9L575.8,379.8L578.0,381.4L580.3,381.6L582.4,381.6L584.6,381.6L586.9,381.3L589.3,381.0L591.9,381.1L594.7,382.3L597.5,384.5L600.3,387.1L603.0,389.6L605.7,392.1L608.2,394.4L610.7,396.6L613.2,398.8L615.7,401.0L618.2,403.3M545.8,356.3L548.3,357.9L550.6,359.6L553.0,361.3L555.4,362.9L558.0,364.3L560.6,365.4L563.3,366.3L566.1,367.1L568.6,368.4L570.7,370.6L572.7,373.0L574.6,375.4L576.7,377.4L579.0,379.1L581.4,379.6L583.6,379.8L585.8,380.0L588.2,380.0L590.7,379.8L593.3,380.0L596.1,381.3L598.9,383.4L601.7,386.0L604.4,388.5L607.1,390.8L609.7,393.1L612.2,395.3L614.7,397.4L617.3,399.6L619.9,401.8M546.0,354.4L548.6,355.9L551.0,357.7L553.4,359.4L555.9,361.0L558.4,362.5L561.1,363.6L563.9,364.2L566.6,364.7L569.2,365.8L571.4,367.9L573.5,370.4L575.5,373.0L577.7,375.2L580.0,377.0L582.5,377.6L584.7,378.0L587.0,378.3L589.4,378.6L592.0,378.8L594.6,379.2L597.4,380.5L600.2,382.6L603.0,385.0L605.8,387.3L608.5,389.6L611.1,391.8L613.7,393.9L616.3,396.0L618.8,398.1L621.4,400.3M546.2,352.4L548.8,354.0L551.3,355.8L553.8,357.5L556.3,359.2L558.9,360.7L561.6,361.6L564.4,362.0L567.2,362.1L569.8,362.9L572.1,365.0L574.3,367.8L576.4,370.7L578.6,373.0L581.0,374.8L583.5,375.5L585.8,376.0L588.2,376.5L590.7,377.1L593.2,377.7L595.9,378.4L598.7,379.8L601.6,381.8L604.3,384.0L607.2,386.1L609.9,388.3L612.5,390.4L615.1,392.5L617.7,394.5L620.4,396.6L623.0,398.7M546.5,350.5L549.2,352.0L551.7,353.9L554.2,355.6L556.7,357.4L559.4,358.8L562.1,359.7L565.0,359.7L567.8,359.3L570.5,359.8L572.9,362.0L575.1,365.1L577.2,368.4L579.5,370.9L582.0,372.7L584.6,373.2L586.9,373.6L589.4,374.3L591.9,375.4L594.5,376.4L597.2,377.5L600.0,379.0L602.9,380.9L605.7,382.9L608.5,384.9L611.2,387.0L613.9,389.0L616.5,391.0L619.2,393.0L621.9,395.1L624.5,397.1M546.9,348.6L549.6,350.1L552.2,352.0L554.7,353.8L557.2,355.6L559.9,357.0L562.7,357.7L565.6,357.5L568.5,356.8L571.2,357.0L573.6,359.2L576.0,362.7L578.1,366.3L580.5,368.8L583.0,370.4L585.6,370.7L588.1,371.0L590.6,371.8L593.1,373.3L595.8,375.0L598.5,376.5L601.3,378.1L604.2,380.0L607.0,381.8L609.8,383.7L612.6,385.6L615.3,387.6L617.9,389.5L620.6,391.5L623.3,393.5L626.0,395.5M547.3,346.7L550.2,348.2L552.7,350.1L555.3,352.0L557.8,353.8L560.5,355.3L563.4,356.0L566.3,355.6L569.2,354.7L572.0,354.8L574.5,357.0L576.8,360.6L579.1,364.3L581.5,366.9L584.0,368.1L586.7,368.1L589.2,368.1L591.7,369.1L594.3,371.1L597.0,373.3L599.8,375.3L602.6,377.1L605.5,378.8L608.3,380.6L611.1,382.4L613.9,384.3L616.6,386.1L619.3,388.0L622.0,390.0L624.8,391.9L627.5,393.9M548.3,344.9L551.1,346.5L553.7,348.4L556.2,350.3L558.7,352.2L561.4,353.7L564.3,354.4L567.2,354.1L570.1,353.3L572.9,353.4L575.5,355.6L577.9,359.1L580.1,362.7L582.6,365.0L585.2,366.0L587.8,365.6L590.4,365.4L592.9,366.5L595.6,368.9L598.3,371.6L601.1,373.9L603.9,375.9L606.8,377.6L609.6,379.4L612.4,381.1L615.2,382.8L618.0,384.7L620.7,386.5L623.4,388.4L626.2,390.2L628.9,392.2M549.7,343.7L552.6,345.1L555.1,347.0L557.6,349.0L560.0,350.9L562.7,352.4L565.5,353.3L568.4,353.2L571.3,352.7L574.1,353.0L576.7,355.0L579.1,358.2L581.3,361.4L583.8,363.5L586.4,364.2L589.0,363.7L591.6,363.3L594.2,364.5L596.9,367.1L599.6,370.1L602.4,372.6L605.2,374.6L608.0,376.4L610.9,378.1L613.7,379.8L616.5,381.5L619.3,383.2L622.0,385.0L624.8,386.8L627.6,388.6L630.3,390.5M551.4,342.7L554.2,344.0L556.7,345.9L559.1,347.9L561.4,349.8L564.0,351.3L566.8,352.3L569.7,352.5L572.6,352.4L575.4,352.9L577.9,354.8L580.3,357.6L582.6,360.4L585.0,362.2L587.6,362.8L590.3,362.3L592.9,362.1L595.5,363.3L598.2,365.9L600.9,368.8L603.7,371.3L606.5,373.3L609.3,375.1L612.2,376.9L615.0,378.6L617.8,380.1L620.6,381.7L623.4,383.4L626.1,385.1L628.9,386.9L631.7,388.7M553.1,341.7L555.9,343.0L558.3,344.8L560.6,346.8L562.8,348.7L565.4,350.3L568.2,351.4L571.0,351.9L573.9,352.1L576.7,352.8L579.2,354.5L581.6,356.9L583.8,359.3L586.3,361.0L588.9,361.7L591.6,361.5L594.2,361.5L596.8,362.7L599.5,365.1L602.2,367.8L605.0,370.1L607.8,372.0L610.6,373.9L613.5,375.8L616.3,377.4L619.1,378.9L621.9,380.3L624.7,381.8L627.5,383.5L630.3,385.2L633.1,387.0M554.8,340.6L557.5,341.9L559.8,343.7L562.1,345.6L564.3,347.6L566.8,349.2L569.5,350.4L572.3,351.0L575.2,351.5L577.9,352.3L580.5,353.9L582.9,356.0L585.0,358.2L587.5,359.8L590.1,360.7L592.8,360.9L595.4,361.3L598.1,362.5L600.8,364.6L603.5,366.9L606.3,368.9L609.1,370.8L611.9,372.7L614.8,374.7L617.6,376.4L620.4,377.6L623.2,378.9L626.0,380.3L628.8,381.9L631.7,383.6L634.5,385.3M556.4,339.6L559.2,340.8L561.4,342.6L563.6,344.5L565.7,346.5L568.1,348.1L570.8,349.4L573.6,350.1L576.5,350.6L579.2,351.5L581.8,353.0L584.1,354.9L586.3,357.0L588.7,358.6L591.4,359.6L594.0,360.2L596.7,361.0L599.3,362.2L602.0,364.0L604.8,365.9L607.6,367.7L610.4,369.5L613.2,371.5L616.1,373.5L618.9,375.2L621.7,376.3L624.5,377.4L627.4,378.7L630.2,380.3L633.1,381.9L635.9,383.6M558.0,338.4L560.7,339.5L562.9,341.4L565.0,343.3L567.0,345.3L569.4,347.0L572.1,348.2L574.9,348.9L577.7,349.5L580.5,350.3L583.0,351.8L585.4,353.7L587.5,355.7L590.0,357.2L592.6,358.3L595.3,359.2L597.9,360.2L600.6,361.6L603.3,363.2L606.1,364.8L608.9,366.4L611.7,368.1L614.5,370.1L617.4,372.1L620.2,373.8L623.1,374.9L625.9,375.9L628.7,377.2L631.6,378.7L634.5,380.3L637.4,381.9M559.5,337.1L562.1,338.2L564.3,340.0L566.3,342.0L568.3,344.0L570.6,345.7L573.3,347.0L576.1,347.6L578.9,348.2L581.7,349.0L584.2,350.4L586.6,352.2L588.7,354.2L591.1,355.7L593.8,356.8L596.5,357.7L599.1,359.0L601.8,360.5L604.6,362.1L607.3,363.6L610.1,365.1L613.0,366.7L615.8,368.5L618.7,370.4L621.5,372.0L624.4,373.2L627.2,374.3L630.1,375.6L633.0,377.1L635.9,378.6L638.8,380.2M560.8,335.7L563.5,336.7L565.6,338.6L567.6,340.6L569.5,342.7L571.8,344.4L574.5,345.6L577.3,346.3L580.1,346.8L582.8,347.5L585.4,349.0L587.8,350.7L589.8,352.7L592.3,354.0L594.9,355.0L597.6,355.9L600.3,357.4L603.1,359.2L605.8,360.8L608.6,362.3L611.4,363.7L614.2,365.2L617.1,366.9L620.0,368.6L622.8,370.2L625.7,371.4L628.6,372.6L631.5,374.0L634.4,375.5L637.3,377.0L640.2,378.5M562.0,334.1L564.7,335.1L566.7,337.0L568.7,339.1L570.5,341.2L572.8,343.0L575.5,344.2L578.3,344.8L581.1,345.3L583.9,346.0L586.5,347.4L588.9,349.2L590.9,351.1L593.4,352.4L596.1,353.2L598.8,354.1L601.5,355.7L604.2,357.7L607.0,359.4L609.8,360.9L612.7,362.2L615.5,363.7L618.4,365.2L621.2,366.8L624.1,368.3L627.0,369.6L629.9,371.0L632.8,372.4L635.8,373.8L638.7,375.3L641.7,376.8M562.7,332.3L565.5,333.3L567.5,335.3L569.4,337.4L571.3,339.6L573.6,341.4L576.3,342.7L579.1,343.2L582.0,343.7L584.9,344.3L587.5,345.7L589.9,347.6L591.9,349.5L594.4,350.8L597.1,351.6L599.8,352.5L602.6,354.2L605.4,356.2L608.2,357.9L611.0,359.4L613.9,360.8L616.7,362.2L619.6,363.6L622.5,365.1L625.4,366.6L628.3,368.0L631.2,369.4L634.2,370.8L637.1,372.2L640.1,373.7L643.1,375.1M563.2,330.4L566.0,331.4L568.1,333.4L570.0,335.7L571.8,337.9L574.1,339.8L576.9,341.1L579.8,341.6L582.7,342.0L585.6,342.6L588.3,344.1L590.7,345.9L592.8,348.0L595.3,349.4L598.0,350.2L600.8,351.3L603.6,352.9L606.5,354.8L609.3,356.5L612.2,358.0L615.0,359.3L617.9,360.7L620.9,362.1L623.8,363.5L626.7,364.9L629.6,366.3L632.6,367.7L635.5,369.2L638.5,370.6L641.5,372.0L644.5,373.4M563.5,328.5L566.3,329.4L568.5,331.6L570.4,333.9L572.2,336.3L574.6,338.2L577.4,339.5L580.4,340.0L583.4,340.3L586.4,340.9L589.1,342.4L591.6,344.3L593.6,346.5L596.2,348.0L599.0,349.1L601.8,350.2L604.6,351.8L607.5,353.5L610.4,355.1L613.3,356.5L616.2,357.8L619.1,359.2L622.1,360.6L625.0,361.9L627.9,363.3L630.9,364.7L633.8,366.1L636.8,367.5L639.8,368.9L642.8,370.3L645.8,371.7M563.8,326.5L566.7,327.5L568.9,329.7L570.8,332.1L572.6,334.6L575.1,336.6L577.9,337.9L581.0,338.4L584.1,338.7L587.1,339.2L589.9,340.7L592.4,342.7L594.4,344.9L597.0,346.6L599.9,347.9L602.7,349.2L605.6,350.6L608.5,352.2L611.5,353.6L614.4,355.0L617.3,356.3L620.3,357.7L623.2,359.0L626.2,360.4L629.2,361.8L632.1,363.1L635.1,364.5L638.1,365.9L641.1,367.2L644.1,368.6L647.2,369.9M564.2,324.6L567.3,325.6L569.4,327.9L571.4,330.4L573.2,332.9L575.6,335.0L578.6,336.3L581.7,336.8L584.8,337.0L587.9,337.5L590.8,339.0L593.3,341.0L595.3,343.4L597.9,345.2L600.8,346.6L603.7,348.0L606.6,349.4L609.6,350.8L612.5,352.2L615.5,353.5L618.5,354.8L621.5,356.1L624.4,357.5L627.4,358.8L630.4,360.2L633.4,361.5L636.4,362.9L639.4,364.2L642.4,365.5L645.4,366.8L648.5,368.1M564.8,322.8L567.9,323.7L570.1,326.1L572.0,328.7L573.8,331.3L576.3,333.5L579.3,334.8L582.4,335.2L585.6,335.4L588.8,335.9L591.7,337.3L594.2,339.4L596.2,341.9L598.9,343.8L601.8,345.3L604.7,346.6L607.7,348.0L610.6,349.4L613.6,350.7L616.6,352.0L619.6,353.3L622.6,354.6L625.6,355.9L628.6,357.3L631.6,358.6L634.6,359.9L637.6,361.2L640.6,362.5L643.7,363.8L646.7,365.1L649.8,366.3M565.5,321.0L568.7,321.9L570.9,324.3L572.8,327.0L574.5,329.8L577.0,332.0L580.0,333.3L583.3,333.7L586.5,333.8L589.7,334.2L592.6,335.7L595.1,337.8L597.2,340.4L599.8,342.3L602.7,343.8L605.7,345.2L608.7,346.6L611.7,347.9L614.7,349.2L617.7,350.5L620.7,351.8L623.8,353.1L626.8,354.4L629.8,355.7L632.8,357.0L635.8,358.3L638.8,359.6L641.9,360.9L644.9,362.1L648.0,363.3L651.1,364.5M566.5,319.3L569.7,320.1L571.8,322.7L573.7,325.5L575.4,328.3L577.9,330.5L580.9,331.9L584.2,332.2L587.5,332.2L590.7,332.6L593.7,334.1L596.2,336.3L598.1,338.9L600.8,340.8L603.7,342.4L606.7,343.8L609.7,345.1L612.8,346.4L615.8,347.7L618.9,349.0L621.9,350.3L624.9,351.6L628.0,352.8L631.0,354.1L634.0,355.4L637.0,356.7L640.1,357.9L643.1,359.2L646.2,360.4L649.3,361.5L652.3,362.7M568.0,318.1L571.2,318.9L573.3,321.5L575.1,324.3L576.6,327.2L579.1,329.5L582.1,330.8L585.4,331.0L588.7,330.9L592.0,331.2L594.9,332.7L597.4,334.9L599.3,337.6L601.9,339.5L604.9,341.0L607.9,342.4L610.9,343.8L613.9,345.0L617.0,346.3L620.0,347.6L623.1,348.8L626.1,350.1L629.1,351.3L632.2,352.6L635.2,353.8L638.3,355.1L641.3,356.3L644.4,357.5L647.4,358.6L650.5,359.8L653.6,360.9M569.9,317.5L573.0,318.2L575.0,320.8L576.7,323.6L578.1,326.5L580.5,328.8L583.5,330.0L586.8,330.1L590.1,329.9L593.3,330.0L596.3,331.5L598.7,333.7L600.5,336.4L603.1,338.4L606.1,339.8L609.0,341.2L612.1,342.5L615.1,343.7L618.1,344.9L621.2,346.2L624.3,347.4L627.3,348.6L630.3,349.8L633.4,351.0L636.4,352.2L639.5,353.5L642.5,354.6L645.6,355.8L648.7,356.9L651.8,358.0L654.9,359.1" fill="none" stroke="#7f9fcd" stroke-width="0.42"/>
<path d="M531.3,390.2L531.59,390.53L531.86,390.86L532.14,391.2L532.41,391.54L532.69,391.87L532.97,392.19L533.27,392.52L533.57,392.83L533.87,393.14L534.2,393.43L534.52,393.71L534.87,393.98L535.21,394.24L535.58,394.48L535.94,394.71L536.31,394.94L536.68,395.16L537.06,395.39L537.43,395.6L537.81,395.81L538.19,396.02L538.58,396.22L538.96,396.42L539.35,396.61L539.74,396.8L540.13,397L540.53,397.18L540.92,397.36L541.32,397.53L541.72,397.7L542.12,397.86L542.53,398.02L542.93,398.17L543.34,398.31L543.76,398.43L544.18,398.55L544.6,398.64L545.03,398.72L545.46,398.79L545.89,398.85L546.32,398.91L546.75,398.95L547.18,398.99L547.62,399.02L548.05,399.05L548.48,399.09L548.91,399.12L549.35,399.16L549.78,399.21L550.21,399.27L550.64,399.32L551.07,399.34L551.5,399.28L551.92,399.17L552.35,399.11L552.75,399.23L553.03,399.56L553.24,399.94L553.41,400.34L553.53,400.75L553.65,401.17L553.74,401.59L553.82,402.02L553.9,402.45L553.98,402.87L554.05,403.3L554.11,403.73L554.17,404.16L554.23,404.59L554.29,405.02L554.35,405.45L554.4,405.88L554.46,406.31L554.51,406.74L554.57,407.18L554.62,407.61L554.68,408.04L554.73,408.47L554.79,408.9L554.85,409.33L554.91,409.76L554.97,410.19L555.04,410.62L555.11,411.04L555.19,411.47L555.29,411.89L555.38,412.32L555.51,412.73L555.64,413.15L555.8,413.55L555.98,413.95L556.18,414.33L556.46,414.66L556.84,414.83L557.24,414.7L557.52,414.36L557.69,413.96L557.81,413.55L557.92,413.13L558,412.7L558.08,412.28L558.16,411.85L558.23,411.42L558.3,410.99L558.38,410.57L558.46,410.14L558.53,409.71L558.62,409.29L558.71,408.86L558.81,408.44L558.93,408.02L559.04,407.6L559.18,407.19L559.34,406.79L559.51,406.39L559.7,406L559.9,405.61L560.1,405.23L560.3,404.84L560.51,404.46L560.72,404.08L560.94,403.71L561.17,403.34L561.41,402.98L561.65,402.62L561.92,402.28L562.19,401.93L562.49,401.62L562.79,401.31L563.12,401.03L563.47,400.78L563.85,400.56L564.25,400.4L564.66,400.29L565.1,400.26L565.53,400.26L565.96,400.33L566.39,400.4L566.8,400.53L567.21,400.67L567.62,400.81L568.02,400.98L568.42,401.15L568.82,401.33L569.21,401.52L569.6,401.71L569.98,401.9L570.37,402.11L570.75,402.31L571.13,402.52L571.52,402.72L571.9,402.93L572.28,403.13L572.67,403.33L573.05,403.53L573.44,403.72L573.83,403.92L574.21,404.13L574.58,404.36L574.94,404.6L575.28,404.87L575.59,405.17L575.88,405.49L576.16,405.82L576.43,406.17L576.68,406.52L576.92,406.89L577.15,407.25L577.36,407.63L577.58,408.01L577.78,408.39L577.98,408.78L578.18,409.16L578.37,409.55L578.56,409.94L578.75,410.33L578.93,410.73L579.11,411.12L579.29,411.52L579.47,411.91L579.65,412.31L579.83,412.7L580.01,413.1L580.19,413.49L580.37,413.89L580.55,414.28L580.73,414.68L580.91,415.08L581.08,415.47L581.25,415.87L581.42,416.27L581.59,416.67L581.75,417.07L581.91,417.48L582.07,417.88L582.23,418.29L582.38,418.69L582.54,419.1L582.7,419.5L583.17,419.37L583.65,419.25L584.12,419.14L584.6,419.02L585.07,418.9L585.54,418.77L586.01,418.64L586.48,418.48L586.94,418.32L587.4,418.14L587.85,417.95L588.28,417.72L588.71,417.49L589.11,417.21L589.51,416.93L589.88,416.61L590.25,416.29L590.6,415.95L590.96,415.61L591.3,415.26L591.65,414.91L591.99,414.57L592.34,414.22L592.7,413.89L593.06,413.55L593.43,413.23L593.81,412.92L594.19,412.62L594.59,412.35L595,412.07L595.42,411.82L595.84,411.57L596.26,411.32L596.69,411.09L597.12,410.86L597.56,410.63L597.99,410.41L598.43,410.19L598.87,409.98L599.31,409.77L599.76,409.56L600.2,409.36L600.65,409.16L601.1,408.96L601.55,408.77L602,408.59L602.46,408.4L602.91,408.23L603.37,408.05L603.83,407.88L604.29,407.72L604.75,407.56L605.22,407.4L605.69,407.27L606.16,407.15L606.64,407.05L607.12,406.97L607.61,406.9L608.09,406.85L608.58,406.8L609.07,406.76L609.56,406.73L610.05,406.69L610.53,406.65L611.02,406.6L611.51,406.55L611.99,406.46L612.47,406.38L612.95,406.26L613.42,406.13L613.89,405.99L614.34,405.79L614.78,405.59L615.22,405.38L615.64,405.13L616.06,404.87L616.47,404.61L616.87,404.32L617.26,404.03L617.66,403.74L618.03,403.43L618.41,403.12L618.78,402.8L619.15,402.48L619.51,402.15L619.87,401.82L620.24,401.49L620.59,401.15L620.94,400.8L621.29,400.46L621.63,400.12L621.98,399.77L622.32,399.42L622.66,399.07L623,398.71L623.34,398.36L623.68,398.01L624.01,397.65L624.35,397.3L624.69,396.94L625.03,396.59L625.36,396.23L625.69,395.87L626.03,395.51L626.36,395.15L626.69,394.79L627.01,394.42L627.33,394.05L627.65,393.68L627.97,393.31L628.28,392.94L628.6,392.56L628.91,392.19L629.23,391.81L629.54,391.43L629.85,391.05L630.16,390.67L630.46,390.29L630.77,389.91L631.08,389.53L631.39,389.15L631.69,388.77L632,388.39L632.31,388.01L632.61,387.62L632.92,387.24L633.23,386.86L633.53,386.48L633.84,386.1L634.15,385.72L634.46,385.34L634.77,384.96L635.08,384.59L635.39,384.21L635.71,383.83L636.02,383.46L636.34,383.08L636.65,382.71L636.97,382.34L637.29,381.96L637.61,381.59L637.92,381.22L638.24,380.85L638.56,380.47L638.88,380.1L639.19,379.73L639.51,379.36L639.83,378.99L640.15,378.61L640.46,378.24L640.78,377.87L641.1,377.49L641.41,377.12L641.73,376.74L642.04,376.37L642.36,375.99L642.67,375.62L642.98,375.24L643.29,374.86L643.6,374.48L643.91,374.1L644.22,373.72L644.52,373.34L644.83,372.95L645.13,372.57L645.43,372.19L645.73,371.8L646.03,371.41L646.32,371.02L646.62,370.63L646.91,370.24L647.21,369.84L647.5,369.45L647.79,369.06L648.08,368.66L648.37,368.27L648.65,367.87L648.94,367.48L649.23,367.08L649.52,366.68L649.8,366.28L650.09,365.89L650.37,365.49L650.65,365.09L650.94,364.69L651.22,364.29L651.51,363.89L651.79,363.49L652.07,363.09L652.35,362.69L652.64,362.29L652.92,361.9L653.2,361.5L653.48,361.1L653.77,360.7L654.05,360.3L654.33,359.9L654.62,359.5L654.9,359.1L654.43,358.93L653.97,358.77L653.5,358.61L653.03,358.44L652.57,358.28L652.1,358.12L651.63,357.95L651.16,357.79L650.7,357.63L650.23,357.46L649.76,357.3L649.3,357.13L648.83,356.97L648.37,356.8L647.9,356.63L647.43,356.47L646.97,356.3L646.5,356.13L646.04,355.96L645.57,355.79L645.11,355.62L644.65,355.44L644.18,355.27L643.72,355.1L643.26,354.92L642.8,354.74L642.33,354.57L641.87,354.39L641.41,354.21L640.95,354.03L640.49,353.85L640.03,353.67L639.57,353.49L639.11,353.31L638.65,353.12L638.19,352.94L637.73,352.76L637.27,352.58L636.81,352.39L636.35,352.21L635.89,352.03L635.43,351.84L634.97,351.66L634.51,351.48L634.05,351.29L633.59,351.11L633.13,350.92L632.67,350.74L632.21,350.56L631.75,350.37L631.29,350.19L630.84,350L630.38,349.82L629.92,349.63L629.46,349.45L629,349.26L628.54,349.08L628.08,348.89L627.62,348.71L627.16,348.53L626.7,348.34L626.24,348.16L625.78,347.97L625.32,347.79L624.86,347.61L624.41,347.42L623.95,347.24L623.49,347.06L623.03,346.88L622.57,346.7L622.11,346.51L621.65,346.33L621.19,346.15L620.72,345.97L620.26,345.78L619.8,345.6L619.35,345.42L618.89,345.24L618.43,345.05L617.97,344.87L617.51,344.69L617.05,344.5L616.59,344.32L616.13,344.14L615.67,343.95L615.21,343.77L614.75,343.58L614.29,343.39L613.83,343.21L613.38,343.02L612.92,342.83L612.46,342.64L612,342.45L611.55,342.26L611.09,342.07L610.64,341.87L610.18,341.68L609.73,341.48L609.28,341.28L608.82,341.09L608.37,340.89L607.92,340.69L607.46,340.49L607.01,340.28L606.56,340.08L606.11,339.88L605.66,339.67L605.22,339.45L604.77,339.24L604.33,339.02L603.89,338.79L603.45,338.55L603.02,338.31L602.6,338.05L602.18,337.79L601.77,337.51L601.37,337.22L600.99,336.91L600.65,336.55L600.33,336.17L600.04,335.77L599.78,335.35L599.53,334.92L599.28,334.5L599,334.09L598.69,333.7L598.35,333.35L597.98,333.01L597.62,332.67L597.26,332.34L596.89,332L596.52,331.68L596.13,331.37L595.73,331.09L595.31,330.83L594.88,330.58L594.42,330.39L593.96,330.21L593.48,330.08L593,329.97L592.51,329.91L592.02,329.86L591.52,329.86L591.03,329.85L590.53,329.87L590.04,329.89L589.55,329.91L589.05,329.95L588.56,329.98L588.07,330.02L587.57,330.05L587.08,330.08L586.58,330.11L586.09,330.13L585.6,330.16L585.1,330.16L584.61,330.15L584.11,330.12L583.62,330.06L583.13,329.98L582.66,329.84L582.19,329.68L581.74,329.48L581.3,329.26L580.87,329L580.47,328.72L580.08,328.42L579.7,328.09L579.34,327.76L578.99,327.41L578.64,327.05L578.3,326.7L577.97,326.33L577.67,325.94L577.43,325.51L577.24,325.05L577.08,324.58L576.91,324.12L576.7,323.67L576.46,323.24L576.21,322.81L575.97,322.38L575.72,321.95L575.47,321.52L575.22,321.1L574.97,320.67L574.7,320.25L574.44,319.84L574.16,319.43L573.86,319.03L573.54,318.65L573.2,318.3L572.79,318.01L572.34,317.81L571.87,317.67L571.38,317.59L570.89,317.56L570.39,317.54L569.9,317.5L569.49,317.63L569.07,317.74L568.65,317.86L568.24,317.99L567.84,318.16L567.45,318.36L567.1,318.61L566.79,318.9L566.51,319.23L566.26,319.59L566.04,319.97L565.84,320.35L565.65,320.73L565.47,321.13L565.29,321.53L565.13,321.93L564.98,322.33L564.83,322.74L564.69,323.15L564.55,323.56L564.42,323.97L564.29,324.39L564.16,324.8L564.05,325.22L563.94,325.64L563.84,326.06L563.77,326.49L563.69,326.92L563.62,327.34L563.56,327.77L563.5,328.2L563.44,328.63L563.38,329.06L563.31,329.49L563.25,329.92L563.18,330.35L563.1,330.77L563.02,331.2L562.93,331.62L562.82,332.04L562.71,332.46L562.56,332.87L562.41,333.27L562.22,333.66L562.02,334.05L561.8,334.42L561.57,334.79L561.31,335.13L561.05,335.48L560.77,335.81L560.48,336.14L560.18,336.45L559.88,336.76L559.56,337.06L559.25,337.35L558.93,337.64L558.61,337.93L558.28,338.22L557.96,338.51L557.62,338.78L557.28,339.04L556.92,339.3L556.56,339.54L556.2,339.77L555.83,340L555.46,340.22L555.09,340.45L554.71,340.67L554.34,340.89L553.97,341.11L553.6,341.34L553.24,341.58L552.87,341.81L552.5,342.03L552.13,342.25L551.75,342.46L551.37,342.68L550.99,342.89L550.62,343.1L550.25,343.33L549.88,343.55L549.52,343.8L549.17,344.06L548.84,344.34L548.54,344.64L548.25,344.97L547.99,345.32L547.76,345.68L547.56,346.07L547.39,346.47L547.25,346.88L547.14,347.29L547.04,347.72L546.95,348.14L546.87,348.57L546.78,348.99L546.7,349.42L546.61,349.84L546.54,350.27L546.47,350.69L546.4,351.12L546.34,351.55L546.29,351.98L546.24,352.41L546.19,352.84L546.14,353.27L546.1,353.71L546.05,354.14L546.01,354.57L545.96,355L545.92,355.43L545.87,355.86L545.82,356.29L545.77,356.72L545.72,357.15L545.67,357.58L545.61,358.01L545.55,358.44L545.49,358.87L545.42,359.3L545.34,359.72L545.26,360.15L545.17,360.57L545.06,360.99L544.95,361.41L544.81,361.82L544.65,362.22L544.48,362.62L544.26,363L544.05,363.37L543.79,363.72L543.53,364.07L543.24,364.39L542.95,364.71L542.64,365.02L542.34,365.33L542.04,365.64L541.75,365.96L541.47,366.3L541.23,366.65L540.99,367.02L540.79,367.4L540.59,367.79L540.41,368.18L540.23,368.57L540.07,368.97L539.9,369.38L539.75,369.78L539.6,370.19L539.44,370.59L539.29,371L539.14,371.4L538.98,371.81L538.83,372.21L538.66,372.61L538.49,373.01L538.32,373.41L538.15,373.81L537.97,374.2L537.79,374.6L537.61,374.99L537.43,375.39L537.25,375.78L537.07,376.18L536.89,376.57L536.72,376.96L536.54,377.36L536.36,377.76L536.18,378.15L536.01,378.55L535.84,378.95L535.66,379.34L535.49,379.74L535.33,380.14L535.16,380.54L534.99,380.94L534.83,381.34L534.67,381.74L534.5,382.15L534.34,382.55L534.18,382.95L534.02,383.35L533.86,383.75L533.69,384.16L533.53,384.56L533.37,384.96L533.21,385.36L533.05,385.77L532.89,386.17L532.73,386.57L532.58,386.98L532.42,387.38L532.26,387.78L532.1,388.19L531.94,388.59L531.78,388.99L531.62,389.39L531.46,389.8L531.3,390.2Z" fill="none" stroke="#9ab9e0" stroke-width="0.4"/>
<text x="513.5" y="356.3" font-size="6.5" font-family="'Liberation Serif','Times New Roman',serif" fill="#333" text-anchor="end">75</text>
<text x="513.5" y="375.5" font-size="6.5" font-family="'Liberation Serif','Times New Roman',serif" fill="#333" text-anchor="end">50</text>
<text x="513.5" y="394.5" font-size="6.5" font-family="'Liberation Serif','Times New Roman',serif" fill="#333" text-anchor="end">25</text>
<text x="513.5" y="413.6" font-size="6.5" font-family="'Liberation Serif','Times New Roman',serif" fill="#333" text-anchor="end">0</text>
<text transform="translate(502,383) rotate(-90)" font-size="6.6" font-family="'Liberation Serif','Times New Roman',serif" fill="#222" text-anchor="middle"><tspan font-style="italic">η</tspan> / (%)</text>
<text x="531.3" y="427.1" font-size="6.5" font-family="'Liberation Serif','Times New Roman',serif" fill="#333" text-anchor="middle">3</text>
<text x="562.1" y="432.4" font-size="6.5" font-family="'Liberation Serif','Times New Roman',serif" fill="#333" text-anchor="middle">6</text>
<text x="593.3" y="437.2" font-size="6.5" font-family="'Liberation Serif','Times New Roman',serif" fill="#333" text-anchor="middle">9</text>
<text transform="translate(561,441) rotate(8)" font-size="6.6" font-family="'Liberation Serif','Times New Roman',serif" fill="#222" text-anchor="middle"><tspan font-style="italic">I</tspan> / (mg·mm<tspan font-size="4.5" dy="-2.3">−2</tspan><tspan dy="2.3">)</tspan></text>
<text x="639" y="434.4" font-size="6.5" font-family="'Liberation Serif','Times New Roman',serif" fill="#333" text-anchor="middle">800</text>
<text x="657.5" y="416.2" font-size="6.5" font-family="'Liberation Serif','Times New Roman',serif" fill="#333" text-anchor="middle">1200</text>
<text x="676.7" y="398.1" font-size="6.5" font-family="'Liberation Serif','Times New Roman',serif" fill="#333" text-anchor="middle">1600</text>
<text transform="translate(669.5,420) rotate(-45)" font-size="7.2" font-family="'Liberation Serif','Times New Roman',serif" fill="#222" text-anchor="middle"><tspan font-style="italic">P</tspan> / (W)</text>
<path d="M576,31 Q583,29.5 590,33" fill="none" stroke="#5a86c4" stroke-width="1.98" stroke-linecap="round" opacity="0.5" filter="url(#sb)"/>
<path d="M571,78 Q576,75.5 581,79" fill="none" stroke="#5a86c4" stroke-width="1.98" stroke-linecap="round" opacity="0.5" filter="url(#sb)"/>
<path d="M584,53.5 Q588,51.5 592,54" fill="none" stroke="#5a86c4" stroke-width="1.44" stroke-linecap="round" opacity="0.5" filter="url(#sb)"/>
<path d="M535,55 Q540,52.5 546,54.5" fill="none" stroke="#5a86c4" stroke-width="1.44" stroke-linecap="round" opacity="0.5" filter="url(#sb)"/>
<path d="M600,67 Q604,64 609,68.5" fill="none" stroke="#5a86c4" stroke-width="1.62" stroke-linecap="round" opacity="0.5" filter="url(#sb)"/>
<path d="M600,92 Q603,89.5 607,92.5" fill="none" stroke="#5a86c4" stroke-width="1.62" stroke-linecap="round" opacity="0.5" filter="url(#sb)"/>
<path d="M620.5,109 L625,122 L627.5,107" fill="none" stroke="#5a86c4" stroke-width="0.90" stroke-linecap="round" opacity="0.5" filter="url(#sb)"/>
<path d="M595.5,203 Q602,198.5 610.5,204.5" fill="none" stroke="#5a86c4" stroke-width="2.16" stroke-linecap="round" opacity="0.5" filter="url(#sb)"/>
<path d="M559,221.5 Q565,216.5 571.5,221" fill="none" stroke="#5a86c4" stroke-width="2.16" stroke-linecap="round" opacity="0.5" filter="url(#sb)"/>
<path d="M603,234 Q609,230.5 615,233.5" fill="none" stroke="#5a86c4" stroke-width="1.26" stroke-linecap="round" opacity="0.5" filter="url(#sb)"/>
<path d="M560.5,357.5 Q565.5,353 571,357" fill="none" stroke="#5a86c4" stroke-width="1.98" stroke-linecap="round" opacity="0.5" filter="url(#sb)"/>
<path d="M583.5,346.5 Q587.5,343.5 591.5,346.5" fill="none" stroke="#5a86c4" stroke-width="1.80" stroke-linecap="round" opacity="0.5" filter="url(#sb)"/>
<path d="M594,362.5 Q599,359 604.5,362.5" fill="none" stroke="#5a86c4" stroke-width="1.80" stroke-linecap="round" opacity="0.5" filter="url(#sb)"/>
<path d="M609,382 Q614,379 619.5,382" fill="none" stroke="#5a86c4" stroke-width="1.80" stroke-linecap="round" opacity="0.5" filter="url(#sb)"/>
<path d="M558,392.5 Q563,388.5 568.5,393" fill="none" stroke="#5a86c4" stroke-width="1.80" stroke-linecap="round" opacity="0.5" filter="url(#sb)"/>
<path d="M540.5,370 Q545,365.5 550.5,369" fill="none" stroke="#5a86c4" stroke-width="1.62" stroke-linecap="round" opacity="0.5" filter="url(#sb)"/>
<path d="M573.5,385 Q577,381.5 581,385" fill="none" stroke="#5a86c4" stroke-width="1.62" stroke-linecap="round" opacity="0.5" filter="url(#sb)"/>
<path d="M563,336 Q569,333 576,336.5" fill="none" stroke="#5a86c4" stroke-width="1.62" stroke-linecap="round" opacity="0.5" filter="url(#sb)"/>
<text x="2.4" y="16.3" font-size="15" font-weight="bold" font-family="'Liberation Sans',Arial,sans-serif" fill="#000" stroke="#000" stroke-width="0.25">a</text>
<text x="238.8" y="16.1" font-size="15" font-weight="bold" font-family="'Liberation Sans',Arial,sans-serif" fill="#000" stroke="#000" stroke-width="0.25">b</text>
<text x="488.8" y="16.6" font-size="15" font-weight="bold" font-family="'Liberation Sans',Arial,sans-serif" fill="#000" stroke="#000" stroke-width="0.25">c</text>
<text x="2.2" y="160.8" font-size="15" font-weight="bold" font-family="'Liberation Sans',Arial,sans-serif" fill="#000" stroke="#000" stroke-width="0.25">d</text>
<text x="239.8" y="161" font-size="15" font-weight="bold" font-family="'Liberation Sans',Arial,sans-serif" fill="#000" stroke="#000" stroke-width="0.25">e</text>
<text x="490.3" y="161" font-size="15" font-weight="bold" font-family="'Liberation Sans',Arial,sans-serif" fill="#000" stroke="#000" stroke-width="0.25">f</text>
<text x="2.4" y="304" font-size="15" font-weight="bold" font-family="'Liberation Sans',Arial,sans-serif" fill="#000" stroke="#000" stroke-width="0.25">g</text>
<text x="239.6" y="303.5" font-size="15" font-weight="bold" font-family="'Liberation Sans',Arial,sans-serif" fill="#000" stroke="#000" stroke-width="0.25">h</text>
<text x="490.6" y="304" font-size="15" font-weight="bold" font-family="'Liberation Sans',Arial,sans-serif" fill="#000" stroke="#000" stroke-width="0.25">i</text>
<rect x="0" y="448.5" width="685" height="2.5" fill="#f7f7f7"/>
</g>
</svg>
</body></html>
